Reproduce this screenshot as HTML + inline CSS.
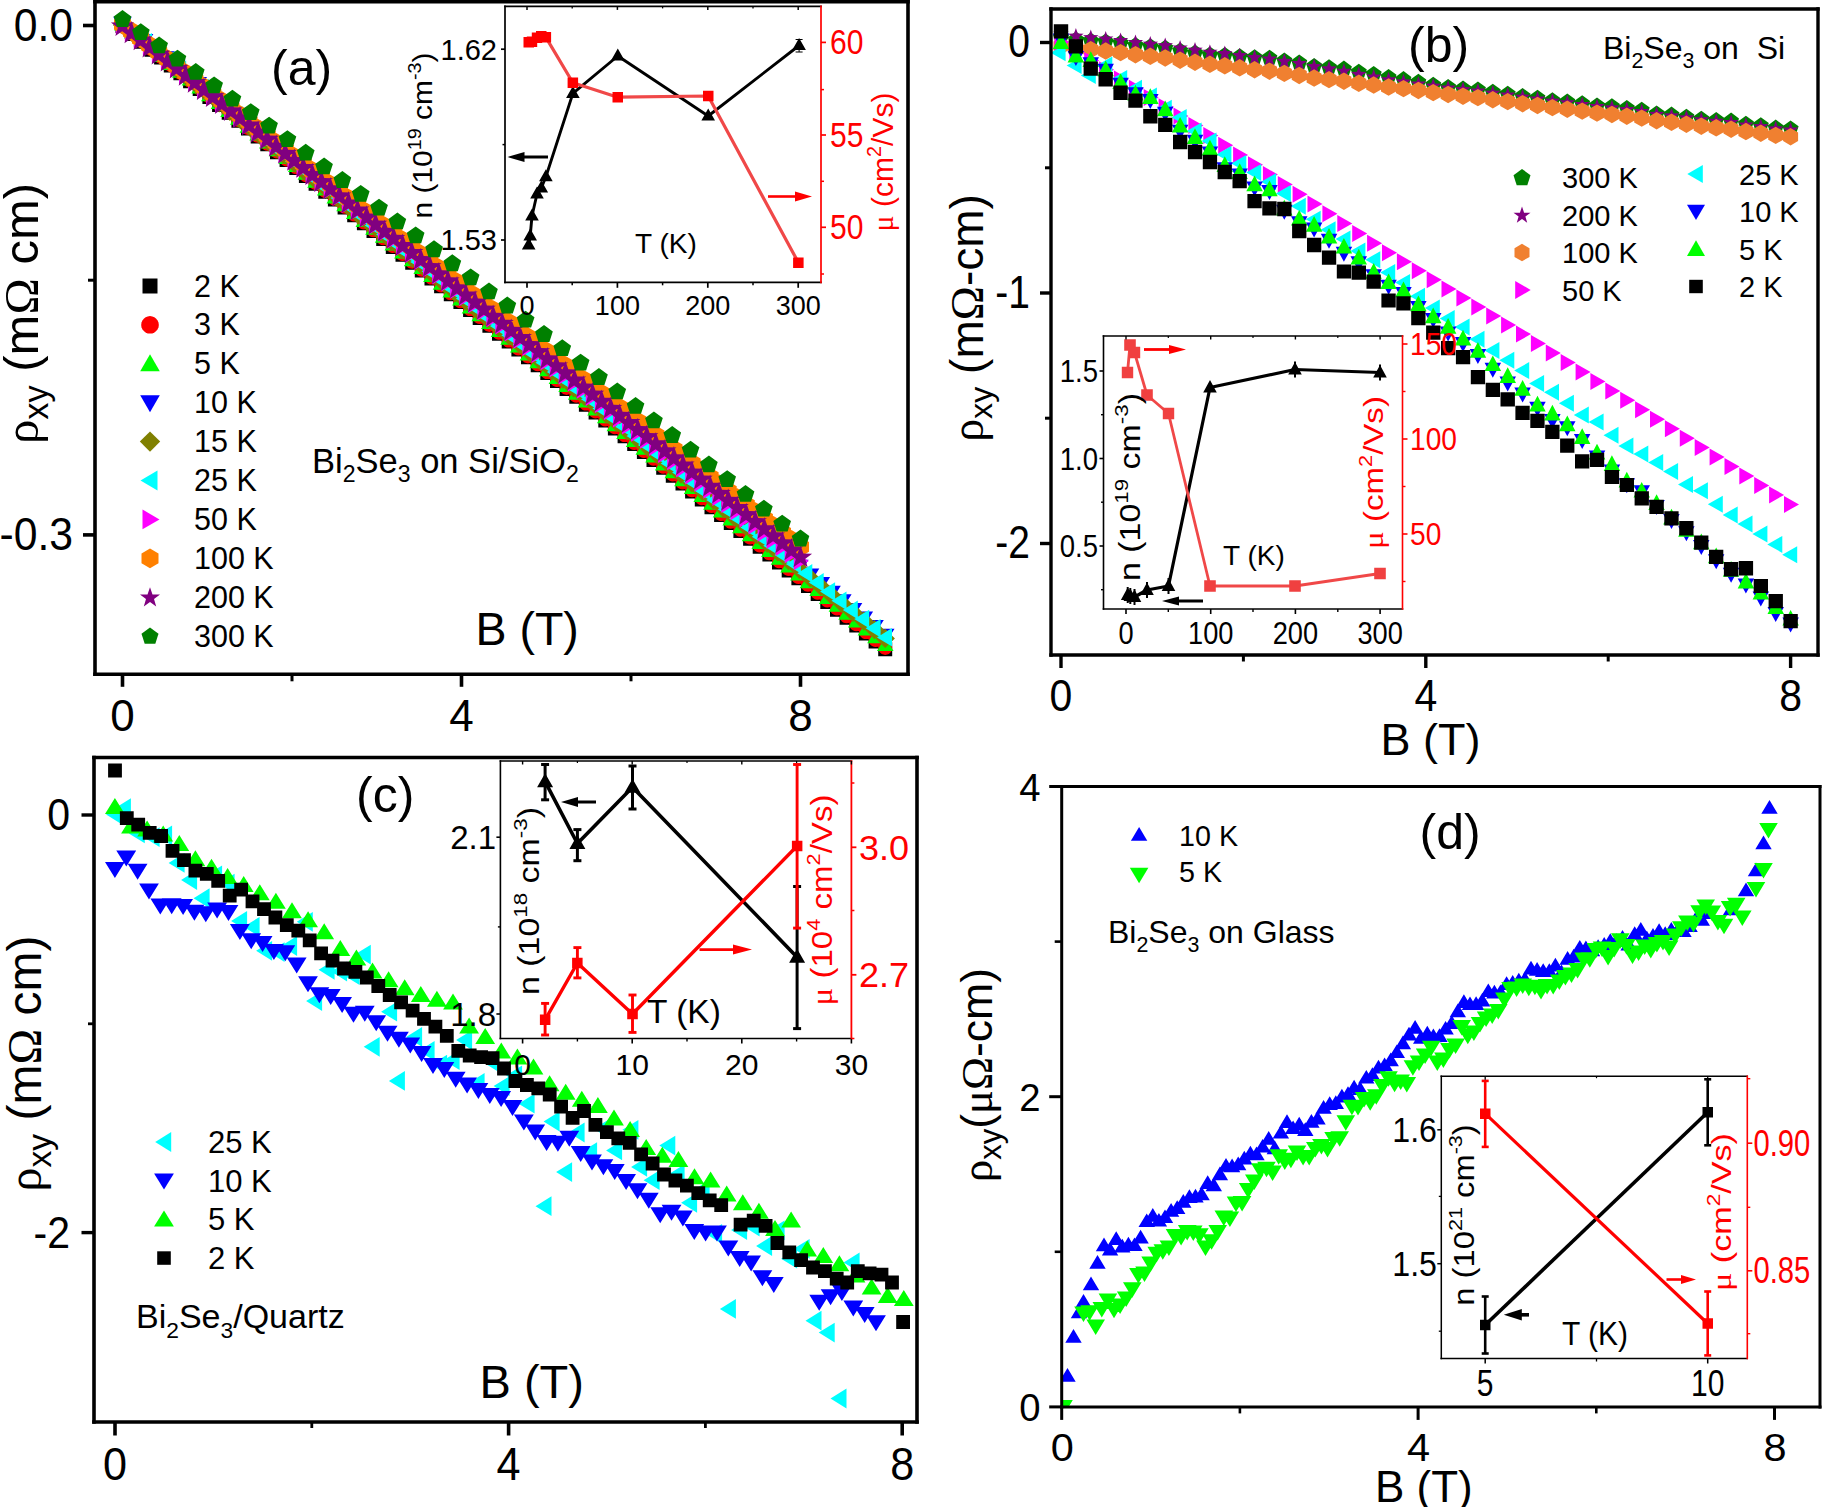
<!DOCTYPE html>
<html><head><meta charset="utf-8"><title>Hall resistivity of Bi2Se3 films</title>
<style>html,body{margin:0;padding:0;background:#fff}svg{display:block}</style></head>
<body>
<svg width="1822" height="1507" viewBox="0 0 1822 1507">
<rect width="1822" height="1507" fill="#fff"/>
<path d="M115.5,19 129.5,19 129.5,33 115.5,33ZM125.2,26.9 139.2,26.9 139.2,40.9 125.2,40.9ZM134.8,34.8 148.8,34.8 148.8,48.8 134.8,48.8ZM144.5,42.7 158.5,42.7 158.5,56.7 144.5,56.7ZM154.1,50.6 168.1,50.6 168.1,64.6 154.1,64.6ZM163.8,58.4 177.8,58.4 177.8,72.4 163.8,72.4ZM173.4,66.3 187.4,66.3 187.4,80.3 173.4,80.3ZM183.1,74.2 197.1,74.2 197.1,88.2 183.1,88.2ZM192.7,82.1 206.7,82.1 206.7,96.1 192.7,96.1ZM202.4,90 216.4,90 216.4,104 202.4,104ZM212.1,97.9 226.1,97.9 226.1,111.9 212.1,111.9ZM221.7,105.8 235.7,105.8 235.7,119.8 221.7,119.8ZM231.4,113.7 245.4,113.7 245.4,127.7 231.4,127.7ZM241,121.6 255,121.6 255,135.6 241,135.6ZM250.7,129.4 264.7,129.4 264.7,143.4 250.7,143.4ZM260.3,137.3 274.3,137.3 274.3,151.3 260.3,151.3ZM270,145.2 284,145.2 284,159.2 270,159.2ZM279.6,153.1 293.6,153.1 293.6,167.1 279.6,167.1ZM289.3,161 303.3,161 303.3,175 289.3,175ZM298.9,168.9 312.9,168.9 312.9,182.9 298.9,182.9ZM308.6,176.8 322.6,176.8 322.6,190.8 308.6,190.8ZM318.3,184.7 332.3,184.7 332.3,198.7 318.3,198.7ZM327.9,192.6 341.9,192.6 341.9,206.6 327.9,206.6ZM337.6,200.5 351.6,200.5 351.6,214.5 337.6,214.5ZM347.2,208.3 361.2,208.3 361.2,222.3 347.2,222.3ZM356.9,216.2 370.9,216.2 370.9,230.2 356.9,230.2ZM366.5,224.1 380.5,224.1 380.5,238.1 366.5,238.1ZM376.2,232 390.2,232 390.2,246 376.2,246ZM385.8,239.9 399.8,239.9 399.8,253.9 385.8,253.9ZM395.5,247.8 409.5,247.8 409.5,261.8 395.5,261.8ZM405.2,255.7 419.2,255.7 419.2,269.7 405.2,269.7ZM414.8,263.6 428.8,263.6 428.8,277.6 414.8,277.6ZM424.5,271.5 438.5,271.5 438.5,285.5 424.5,285.5ZM434.1,279.3 448.1,279.3 448.1,293.3 434.1,293.3ZM443.8,287.2 457.8,287.2 457.8,301.2 443.8,301.2ZM453.4,295.1 467.4,295.1 467.4,309.1 453.4,309.1ZM463.1,303 477.1,303 477.1,317 463.1,317ZM472.7,310.9 486.7,310.9 486.7,324.9 472.7,324.9ZM482.4,318.8 496.4,318.8 496.4,332.8 482.4,332.8ZM492,326.7 506,326.7 506,340.7 492,340.7ZM501.7,334.6 515.7,334.6 515.7,348.6 501.7,348.6ZM511.4,342.5 525.4,342.5 525.4,356.5 511.4,356.5ZM521,350.3 535,350.3 535,364.3 521,364.3ZM530.7,358.2 544.7,358.2 544.7,372.2 530.7,372.2ZM540.3,366.1 554.3,366.1 554.3,380.1 540.3,380.1ZM550,374 564,374 564,388 550,388ZM559.6,381.9 573.6,381.9 573.6,395.9 559.6,395.9ZM569.3,389.8 583.3,389.8 583.3,403.8 569.3,403.8ZM578.9,397.7 592.9,397.7 592.9,411.7 578.9,411.7ZM588.6,405.6 602.6,405.6 602.6,419.6 588.6,419.6ZM598.3,413.5 612.3,413.5 612.3,427.5 598.3,427.5ZM607.9,421.4 621.9,421.4 621.9,435.4 607.9,435.4ZM617.6,429.2 631.6,429.2 631.6,443.2 617.6,443.2ZM627.2,437.1 641.2,437.1 641.2,451.1 627.2,451.1ZM636.9,445 650.9,445 650.9,459 636.9,459ZM646.5,452.9 660.5,452.9 660.5,466.9 646.5,466.9ZM656.2,460.8 670.2,460.8 670.2,474.8 656.2,474.8ZM665.8,468.7 679.8,468.7 679.8,482.7 665.8,482.7ZM675.5,476.6 689.5,476.6 689.5,490.6 675.5,490.6ZM685.1,484.5 699.1,484.5 699.1,498.5 685.1,498.5ZM694.8,492.4 708.8,492.4 708.8,506.4 694.8,506.4ZM704.5,500.2 718.5,500.2 718.5,514.2 704.5,514.2ZM714.1,508.1 728.1,508.1 728.1,522.1 714.1,522.1ZM723.8,516 737.8,516 737.8,530 723.8,530ZM733.4,523.9 747.4,523.9 747.4,537.9 733.4,537.9ZM743.1,531.8 757.1,531.8 757.1,545.8 743.1,545.8ZM752.7,539.7 766.7,539.7 766.7,553.7 752.7,553.7ZM762.4,547.6 776.4,547.6 776.4,561.6 762.4,561.6ZM772,555.5 786,555.5 786,569.5 772,569.5ZM781.7,563.4 795.7,563.4 795.7,577.4 781.7,577.4ZM791.4,571.2 805.4,571.2 805.4,585.2 791.4,585.2ZM801,579.1 815,579.1 815,593.1 801,593.1ZM810.7,587 824.7,587 824.7,601 810.7,601ZM820.3,594.9 834.3,594.9 834.3,608.9 820.3,608.9ZM830,602.8 844,602.8 844,616.8 830,616.8ZM839.6,610.7 853.6,610.7 853.6,624.7 839.6,624.7ZM849.3,618.6 863.3,618.6 863.3,632.6 849.3,632.6ZM858.9,626.5 872.9,626.5 872.9,640.5 858.9,640.5ZM868.6,634.4 882.6,634.4 882.6,648.4 868.6,648.4ZM878.2,642.2 892.2,642.2 892.2,656.2 878.2,656.2Z" fill="#000"/>
<path d="M122.5,18.5 124.3,18.7 126,19.4 127.4,20.6 128.6,22 129.3,23.7 129.5,25.5 129.3,27.3 128.6,29 127.4,30.4 126,31.6 124.3,32.3 122.5,32.5 120.7,32.3 119,31.6 117.6,30.4 116.4,29 115.7,27.3 115.5,25.5 115.7,23.7 116.4,22 117.6,20.6 119,19.4 120.7,18.7ZM132.2,26.4 134,26.6 135.7,27.3 137.1,28.4 138.2,29.9 138.9,31.6 139.2,33.4 138.9,35.2 138.2,36.9 137.1,38.3 135.7,39.4 134,40.1 132.2,40.4 130.3,40.1 128.7,39.4 127.2,38.3 126.1,36.9 125.4,35.2 125.2,33.4 125.4,31.6 126.1,29.9 127.2,28.4 128.7,27.3 130.3,26.6ZM141.8,34.3 143.6,34.5 145.3,35.2 146.8,36.3 147.9,37.8 148.6,39.4 148.8,41.3 148.6,43.1 147.9,44.8 146.8,46.2 145.3,47.3 143.6,48 141.8,48.3 140,48 138.3,47.3 136.9,46.2 135.7,44.8 135,43.1 134.8,41.3 135,39.4 135.7,37.8 136.9,36.3 138.3,35.2 140,34.5ZM151.5,42.1 153.3,42.4 155,43.1 156.4,44.2 157.5,45.6 158.2,47.3 158.5,49.1 158.2,50.9 157.5,52.6 156.4,54.1 155,55.2 153.3,55.9 151.5,56.1 149.7,55.9 148,55.2 146.5,54.1 145.4,52.6 144.7,50.9 144.5,49.1 144.7,47.3 145.4,45.6 146.5,44.2 148,43.1 149.7,42.4ZM161.1,50 162.9,50.2 164.6,50.9 166.1,52.1 167.2,53.5 167.9,55.2 168.1,57 167.9,58.8 167.2,60.5 166.1,62 164.6,63.1 162.9,63.8 161.1,64 159.3,63.8 157.6,63.1 156.2,62 155.1,60.5 154.4,58.8 154.1,57 154.4,55.2 155.1,53.5 156.2,52.1 157.6,50.9 159.3,50.2ZM170.8,57.9 172.6,58.1 174.3,58.8 175.7,59.9 176.8,61.4 177.5,63.1 177.8,64.9 177.5,66.7 176.8,68.4 175.7,69.8 174.3,71 172.6,71.7 170.8,71.9 169,71.7 167.3,71 165.8,69.8 164.7,68.4 164,66.7 163.8,64.9 164,63.1 164.7,61.4 165.8,59.9 167.3,58.8 169,58.1ZM180.4,65.8 182.2,66 183.9,66.7 185.4,67.8 186.5,69.3 187.2,71 187.4,72.8 187.2,74.6 186.5,76.3 185.4,77.7 183.9,78.8 182.2,79.5 180.4,79.8 178.6,79.5 176.9,78.8 175.5,77.7 174.4,76.3 173.7,74.6 173.4,72.8 173.7,71 174.4,69.3 175.5,67.8 176.9,66.7 178.6,66ZM190.1,73.6 191.9,73.9 193.6,74.6 195,75.7 196.1,77.1 196.8,78.8 197.1,80.6 196.8,82.5 196.1,84.1 195,85.6 193.6,86.7 191.9,87.4 190.1,87.6 188.3,87.4 186.6,86.7 185.1,85.6 184,84.1 183.3,82.5 183.1,80.6 183.3,78.8 184,77.1 185.1,75.7 186.6,74.6 188.3,73.9ZM199.7,81.5 201.6,81.8 203.2,82.5 204.7,83.6 205.8,85 206.5,86.7 206.7,88.5 206.5,90.3 205.8,92 204.7,93.5 203.2,94.6 201.6,95.3 199.7,95.5 197.9,95.3 196.2,94.6 194.8,93.5 193.7,92 193,90.3 192.7,88.5 193,86.7 193.7,85 194.8,83.6 196.2,82.5 197.9,81.8ZM209.4,89.4 211.2,89.6 212.9,90.3 214.3,91.5 215.5,92.9 216.2,94.6 216.4,96.4 216.2,98.2 215.5,99.9 214.3,101.4 212.9,102.5 211.2,103.2 209.4,103.4 207.6,103.2 205.9,102.5 204.4,101.4 203.3,99.9 202.6,98.2 202.4,96.4 202.6,94.6 203.3,92.9 204.4,91.5 205.9,90.3 207.6,89.6ZM219.1,97.3 220.9,97.5 222.6,98.2 224,99.3 225.1,100.8 225.8,102.5 226.1,104.3 225.8,106.1 225.1,107.8 224,109.2 222.6,110.3 220.9,111 219.1,111.3 217.2,111 215.6,110.3 214.1,109.2 213,107.8 212.3,106.1 212.1,104.3 212.3,102.5 213,100.8 214.1,99.3 215.6,98.2 217.2,97.5ZM228.7,105.2 230.5,105.4 232.2,106.1 233.7,107.2 234.8,108.7 235.5,110.3 235.7,112.2 235.5,114 234.8,115.7 233.7,117.1 232.2,118.2 230.5,118.9 228.7,119.2 226.9,118.9 225.2,118.2 223.8,117.1 222.6,115.7 221.9,114 221.7,112.2 221.9,110.3 222.6,108.7 223.8,107.2 225.2,106.1 226.9,105.4ZM238.4,113 240.2,113.3 241.9,114 243.3,115.1 244.4,116.5 245.1,118.2 245.4,120 245.1,121.8 244.4,123.5 243.3,125 241.9,126.1 240.2,126.8 238.4,127 236.5,126.8 234.9,126.1 233.4,125 232.3,123.5 231.6,121.8 231.4,120 231.6,118.2 232.3,116.5 233.4,115.1 234.9,114 236.5,113.3ZM248,120.9 249.8,121.2 251.5,121.8 253,123 254.1,124.4 254.8,126.1 255,127.9 254.8,129.7 254.1,131.4 253,132.9 251.5,134 249.8,134.7 248,134.9 246.2,134.7 244.5,134 243.1,132.9 242,131.4 241.3,129.7 241,127.9 241.3,126.1 242,124.4 243.1,123 244.5,121.8 246.2,121.2ZM257.7,128.8 259.5,129 261.2,129.7 262.6,130.8 263.7,132.3 264.4,134 264.7,135.8 264.4,137.6 263.7,139.3 262.6,140.7 261.2,141.9 259.5,142.6 257.7,142.8 255.9,142.6 254.2,141.9 252.7,140.7 251.6,139.3 250.9,137.6 250.7,135.8 250.9,134 251.6,132.3 252.7,130.8 254.2,129.7 255.9,129ZM267.3,136.7 269.1,136.9 270.8,137.6 272.3,138.7 273.4,140.2 274.1,141.9 274.3,143.7 274.1,145.5 273.4,147.2 272.3,148.6 270.8,149.7 269.1,150.4 267.3,150.7 265.5,150.4 263.8,149.7 262.4,148.6 261.3,147.2 260.6,145.5 260.3,143.7 260.6,141.9 261.3,140.2 262.4,138.7 263.8,137.6 265.5,136.9ZM277,144.5 278.8,144.8 280.5,145.5 281.9,146.6 283,148 283.7,149.7 284,151.5 283.7,153.4 283,155 281.9,156.5 280.5,157.6 278.8,158.3 277,158.5 275.2,158.3 273.5,157.6 272,156.5 270.9,155 270.2,153.4 270,151.5 270.2,149.7 270.9,148 272,146.6 273.5,145.5 275.2,144.8ZM286.6,152.4 288.4,152.7 290.1,153.4 291.6,154.5 292.7,155.9 293.4,157.6 293.6,159.4 293.4,161.2 292.7,162.9 291.6,164.4 290.1,165.5 288.4,166.2 286.6,166.4 284.8,166.2 283.1,165.5 281.7,164.4 280.6,162.9 279.9,161.2 279.6,159.4 279.9,157.6 280.6,155.9 281.7,154.5 283.1,153.4 284.8,152.7ZM296.3,160.3 298.1,160.5 299.8,161.2 301.2,162.4 302.4,163.8 303.1,165.5 303.3,167.3 303.1,169.1 302.4,170.8 301.2,172.3 299.8,173.4 298.1,174.1 296.3,174.3 294.5,174.1 292.8,173.4 291.3,172.3 290.2,170.8 289.5,169.1 289.3,167.3 289.5,165.5 290.2,163.8 291.3,162.4 292.8,161.2 294.5,160.5ZM305.9,168.2 307.8,168.4 309.4,169.1 310.9,170.2 312,171.7 312.7,173.4 312.9,175.2 312.7,177 312,178.7 310.9,180.1 309.4,181.2 307.8,181.9 305.9,182.2 304.1,181.9 302.4,181.2 301,180.1 299.9,178.7 299.2,177 298.9,175.2 299.2,173.4 299.9,171.7 301,170.2 302.4,169.1 304.1,168.4ZM315.6,176.1 317.4,176.3 319.1,177 320.6,178.1 321.7,179.6 322.4,181.2 322.6,183.1 322.4,184.9 321.7,186.6 320.6,188 319.1,189.1 317.4,189.8 315.6,190.1 313.8,189.8 312.1,189.1 310.7,188 309.5,186.6 308.8,184.9 308.6,183.1 308.8,181.2 309.5,179.6 310.7,178.1 312.1,177 313.8,176.3ZM325.3,183.9 327.1,184.2 328.8,184.9 330.2,186 331.3,187.4 332,189.1 332.3,190.9 332,192.7 331.3,194.4 330.2,195.9 328.8,197 327.1,197.7 325.3,197.9 323.4,197.7 321.8,197 320.3,195.9 319.2,194.4 318.5,192.7 318.3,190.9 318.5,189.1 319.2,187.4 320.3,186 321.8,184.9 323.4,184.2ZM334.9,191.8 336.7,192.1 338.4,192.8 339.9,193.9 341,195.3 341.7,197 341.9,198.8 341.7,200.6 341,202.3 339.9,203.8 338.4,204.9 336.7,205.6 334.9,205.8 333.1,205.6 331.4,204.9 330,203.8 328.8,202.3 328.1,200.6 327.9,198.8 328.1,197 328.8,195.3 330,193.9 331.4,192.8 333.1,192.1ZM344.6,199.7 346.4,199.9 348.1,200.6 349.5,201.7 350.6,203.2 351.3,204.9 351.6,206.7 351.3,208.5 350.6,210.2 349.5,211.6 348.1,212.8 346.4,213.5 344.6,213.7 342.8,213.5 341.1,212.8 339.6,211.6 338.5,210.2 337.8,208.5 337.6,206.7 337.8,204.9 338.5,203.2 339.6,201.7 341.1,200.6 342.8,199.9ZM354.2,207.6 356,207.8 357.7,208.5 359.2,209.6 360.3,211.1 361,212.8 361.2,214.6 361,216.4 360.3,218.1 359.2,219.5 357.7,220.6 356,221.3 354.2,221.6 352.4,221.3 350.7,220.6 349.3,219.5 348.2,218.1 347.5,216.4 347.2,214.6 347.5,212.8 348.2,211.1 349.3,209.6 350.7,208.5 352.4,207.8ZM363.9,215.4 365.7,215.7 367.4,216.4 368.8,217.5 369.9,218.9 370.6,220.6 370.9,222.4 370.6,224.3 369.9,225.9 368.8,227.4 367.4,228.5 365.7,229.2 363.9,229.4 362.1,229.2 360.4,228.5 358.9,227.4 357.8,225.9 357.1,224.3 356.9,222.4 357.1,220.6 357.8,218.9 358.9,217.5 360.4,216.4 362.1,215.7ZM373.5,223.3 375.3,223.6 377,224.3 378.5,225.4 379.6,226.8 380.3,228.5 380.5,230.3 380.3,232.1 379.6,233.8 378.5,235.3 377,236.4 375.3,237.1 373.5,237.3 371.7,237.1 370,236.4 368.6,235.3 367.5,233.8 366.8,232.1 366.5,230.3 366.8,228.5 367.5,226.8 368.6,225.4 370,224.3 371.7,223.6ZM383.2,231.2 385,231.4 386.7,232.1 388.1,233.3 389.2,234.7 389.9,236.4 390.2,238.2 389.9,240 389.2,241.7 388.1,243.2 386.7,244.3 385,245 383.2,245.2 381.4,245 379.7,244.3 378.2,243.2 377.1,241.7 376.4,240 376.2,238.2 376.4,236.4 377.1,234.7 378.2,233.3 379.7,232.1 381.4,231.4ZM392.8,239.1 394.7,239.3 396.3,240 397.8,241.1 398.9,242.6 399.6,244.3 399.8,246.1 399.6,247.9 398.9,249.6 397.8,251 396.3,252.1 394.7,252.8 392.8,253.1 391,252.8 389.3,252.1 387.9,251 386.8,249.6 386.1,247.9 385.8,246.1 386.1,244.3 386.8,242.6 387.9,241.1 389.3,240 391,239.3ZM402.5,247 404.3,247.2 406,247.9 407.4,249 408.6,250.5 409.3,252.1 409.5,254 409.3,255.8 408.6,257.5 407.4,258.9 406,260 404.3,260.7 402.5,261 400.7,260.7 399,260 397.5,258.9 396.4,257.5 395.7,255.8 395.5,254 395.7,252.1 396.4,250.5 397.5,249 399,247.9 400.7,247.2ZM412.2,254.8 414,255.1 415.7,255.8 417.1,256.9 418.2,258.3 418.9,260 419.2,261.8 418.9,263.6 418.2,265.3 417.1,266.8 415.7,267.9 414,268.6 412.2,268.8 410.3,268.6 408.7,267.9 407.2,266.8 406.1,265.3 405.4,263.6 405.2,261.8 405.4,260 406.1,258.3 407.2,256.9 408.7,255.8 410.3,255.1ZM421.8,262.7 423.6,263 425.3,263.7 426.8,264.8 427.9,266.2 428.6,267.9 428.8,269.7 428.6,271.5 427.9,273.2 426.8,274.7 425.3,275.8 423.6,276.5 421.8,276.7 420,276.5 418.3,275.8 416.9,274.7 415.7,273.2 415,271.5 414.8,269.7 415,267.9 415.7,266.2 416.9,264.8 418.3,263.7 420,263ZM431.5,270.6 433.3,270.8 435,271.5 436.4,272.6 437.5,274.1 438.2,275.8 438.5,277.6 438.2,279.4 437.5,281.1 436.4,282.5 435,283.7 433.3,284.4 431.5,284.6 429.7,284.4 428,283.7 426.5,282.5 425.4,281.1 424.7,279.4 424.5,277.6 424.7,275.8 425.4,274.1 426.5,272.6 428,271.5 429.7,270.8ZM441.1,278.5 442.9,278.7 444.6,279.4 446.1,280.5 447.2,282 447.9,283.7 448.1,285.5 447.9,287.3 447.2,289 446.1,290.4 444.6,291.5 442.9,292.2 441.1,292.5 439.3,292.2 437.6,291.5 436.2,290.4 435.1,289 434.4,287.3 434.1,285.5 434.4,283.7 435.1,282 436.2,280.5 437.6,279.4 439.3,278.7ZM450.8,286.3 452.6,286.6 454.3,287.3 455.7,288.4 456.8,289.8 457.5,291.5 457.8,293.3 457.5,295.2 456.8,296.8 455.7,298.3 454.3,299.4 452.6,300.1 450.8,300.3 449,300.1 447.3,299.4 445.8,298.3 444.7,296.8 444,295.2 443.8,293.3 444,291.5 444.7,289.8 445.8,288.4 447.3,287.3 449,286.6ZM460.4,294.2 462.2,294.5 463.9,295.2 465.4,296.3 466.5,297.7 467.2,299.4 467.4,301.2 467.2,303 466.5,304.7 465.4,306.2 463.9,307.3 462.2,308 460.4,308.2 458.6,308 456.9,307.3 455.5,306.2 454.4,304.7 453.7,303 453.4,301.2 453.7,299.4 454.4,297.7 455.5,296.3 456.9,295.2 458.6,294.5ZM470.1,302.1 471.9,302.3 473.6,303 475,304.2 476.1,305.6 476.8,307.3 477.1,309.1 476.8,310.9 476.1,312.6 475,314.1 473.6,315.2 471.9,315.9 470.1,316.1 468.3,315.9 466.6,315.2 465.1,314.1 464,312.6 463.3,310.9 463.1,309.1 463.3,307.3 464,305.6 465.1,304.2 466.6,303 468.3,302.3ZM479.7,310 481.5,310.2 483.2,310.9 484.7,312 485.8,313.5 486.5,315.2 486.7,317 486.5,318.8 485.8,320.5 484.7,321.9 483.2,323 481.5,323.7 479.7,324 477.9,323.7 476.2,323 474.8,321.9 473.7,320.5 473,318.8 472.7,317 473,315.2 473.7,313.5 474.8,312 476.2,310.9 477.9,310.2ZM489.4,317.9 491.2,318.1 492.9,318.8 494.3,319.9 495.5,321.4 496.2,323 496.4,324.9 496.2,326.7 495.5,328.4 494.3,329.8 492.9,330.9 491.2,331.6 489.4,331.9 487.6,331.6 485.9,330.9 484.4,329.8 483.3,328.4 482.6,326.7 482.4,324.9 482.6,323 483.3,321.4 484.4,319.9 485.9,318.8 487.6,318.1ZM499,325.7 500.9,326 502.5,326.7 504,327.8 505.1,329.2 505.8,330.9 506,332.7 505.8,334.5 505.1,336.2 504,337.7 502.5,338.8 500.9,339.5 499,339.7 497.2,339.5 495.5,338.8 494.1,337.7 493,336.2 492.3,334.5 492,332.7 492.3,330.9 493,329.2 494.1,327.8 495.5,326.7 497.2,326ZM508.7,333.6 510.5,333.9 512.2,334.6 513.7,335.7 514.8,337.1 515.5,338.8 515.7,340.6 515.5,342.4 514.8,344.1 513.7,345.6 512.2,346.7 510.5,347.4 508.7,347.6 506.9,347.4 505.2,346.7 503.8,345.6 502.6,344.1 501.9,342.4 501.7,340.6 501.9,338.8 502.6,337.1 503.8,335.7 505.2,334.6 506.9,333.9ZM518.4,341.5 520.2,341.7 521.9,342.4 523.3,343.5 524.4,345 525.1,346.7 525.4,348.5 525.1,350.3 524.4,352 523.3,353.4 521.9,354.6 520.2,355.3 518.4,355.5 516.5,355.3 514.9,354.6 513.4,353.4 512.3,352 511.6,350.3 511.4,348.5 511.6,346.7 512.3,345 513.4,343.5 514.9,342.4 516.5,341.7ZM528,349.4 529.8,349.6 531.5,350.3 533,351.4 534.1,352.9 534.8,354.6 535,356.4 534.8,358.2 534.1,359.9 533,361.3 531.5,362.4 529.8,363.1 528,363.4 526.2,363.1 524.5,362.4 523.1,361.3 522,359.9 521.3,358.2 521,356.4 521.3,354.6 522,352.9 523.1,351.4 524.5,350.3 526.2,349.6ZM537.7,357.2 539.5,357.5 541.2,358.2 542.6,359.3 543.7,360.7 544.4,362.4 544.7,364.2 544.4,366.1 543.7,367.7 542.6,369.2 541.2,370.3 539.5,371 537.7,371.2 535.9,371 534.2,370.3 532.7,369.2 531.6,367.7 530.9,366.1 530.7,364.2 530.9,362.4 531.6,360.7 532.7,359.3 534.2,358.2 535.9,357.5ZM547.3,365.1 549.1,365.4 550.8,366.1 552.3,367.2 553.4,368.6 554.1,370.3 554.3,372.1 554.1,373.9 553.4,375.6 552.3,377.1 550.8,378.2 549.1,378.9 547.3,379.1 545.5,378.9 543.8,378.2 542.4,377.1 541.3,375.6 540.6,373.9 540.3,372.1 540.6,370.3 541.3,368.6 542.4,367.2 543.8,366.1 545.5,365.4ZM557,373 558.8,373.2 560.5,373.9 561.9,375.1 563,376.5 563.7,378.2 564,380 563.7,381.8 563,383.5 561.9,385 560.5,386.1 558.8,386.8 557,387 555.2,386.8 553.5,386.1 552,385 550.9,383.5 550.2,381.8 550,380 550.2,378.2 550.9,376.5 552,375.1 553.5,373.9 555.2,373.2ZM566.6,380.9 568.4,381.1 570.1,381.8 571.6,382.9 572.7,384.4 573.4,386.1 573.6,387.9 573.4,389.7 572.7,391.4 571.6,392.8 570.1,393.9 568.4,394.6 566.6,394.9 564.8,394.6 563.1,393.9 561.7,392.8 560.6,391.4 559.9,389.7 559.6,387.9 559.9,386.1 560.6,384.4 561.7,382.9 563.1,381.8 564.8,381.1ZM576.3,388.8 578.1,389 579.8,389.7 581.2,390.8 582.4,392.3 583,393.9 583.3,395.8 583,397.6 582.4,399.3 581.2,400.7 579.8,401.8 578.1,402.5 576.3,402.8 574.5,402.5 572.8,401.8 571.3,400.7 570.2,399.3 569.5,397.6 569.3,395.8 569.5,393.9 570.2,392.3 571.3,390.8 572.8,389.7 574.5,389ZM585.9,396.6 587.8,396.9 589.4,397.6 590.9,398.7 592,400.1 592.7,401.8 592.9,403.6 592.7,405.4 592,407.1 590.9,408.6 589.4,409.7 587.8,410.4 585.9,410.6 584.1,410.4 582.4,409.7 581,408.6 579.9,407.1 579.2,405.4 578.9,403.6 579.2,401.8 579.9,400.1 581,398.7 582.4,397.6 584.1,396.9ZM595.6,404.5 597.4,404.8 599.1,405.5 600.5,406.6 601.7,408 602.4,409.7 602.6,411.5 602.4,413.3 601.7,415 600.5,416.5 599.1,417.6 597.4,418.3 595.6,418.5 593.8,418.3 592.1,417.6 590.6,416.5 589.5,415 588.8,413.3 588.6,411.5 588.8,409.7 589.5,408 590.6,406.6 592.1,405.5 593.8,404.8ZM605.3,412.4 607.1,412.6 608.8,413.3 610.2,414.4 611.3,415.9 612,417.6 612.3,419.4 612,421.2 611.3,422.9 610.2,424.3 608.8,425.5 607.1,426.2 605.3,426.4 603.4,426.2 601.8,425.5 600.3,424.3 599.2,422.9 598.5,421.2 598.3,419.4 598.5,417.6 599.2,415.9 600.3,414.4 601.8,413.3 603.4,412.6ZM614.9,420.3 616.7,420.5 618.4,421.2 619.9,422.3 621,423.8 621.7,425.5 621.9,427.3 621.7,429.1 621,430.8 619.9,432.2 618.4,433.3 616.7,434 614.9,434.3 613.1,434 611.4,433.3 610,432.2 608.8,430.8 608.1,429.1 607.9,427.3 608.1,425.5 608.8,423.8 610,422.3 611.4,421.2 613.1,420.5ZM624.6,428.1 626.4,428.4 628.1,429.1 629.5,430.2 630.6,431.6 631.3,433.3 631.6,435.1 631.3,437 630.6,438.6 629.5,440.1 628.1,441.2 626.4,441.9 624.6,442.1 622.8,441.9 621.1,441.2 619.6,440.1 618.5,438.6 617.8,437 617.6,435.1 617.8,433.3 618.5,431.6 619.6,430.2 621.1,429.1 622.8,428.4ZM634.2,436 636,436.3 637.7,437 639.2,438.1 640.3,439.5 641,441.2 641.2,443 641,444.8 640.3,446.5 639.2,448 637.7,449.1 636,449.8 634.2,450 632.4,449.8 630.7,449.1 629.3,448 628.2,446.5 627.5,444.8 627.2,443 627.5,441.2 628.2,439.5 629.3,438.1 630.7,437 632.4,436.3ZM643.9,443.9 645.7,444.1 647.4,444.8 648.8,446 649.9,447.4 650.6,449.1 650.9,450.9 650.6,452.7 649.9,454.4 648.8,455.9 647.4,457 645.7,457.7 643.9,457.9 642.1,457.7 640.4,457 638.9,455.9 637.8,454.4 637.1,452.7 636.9,450.9 637.1,449.1 637.8,447.4 638.9,446 640.4,444.8 642.1,444.1ZM653.5,451.8 655.3,452 657,452.7 658.5,453.8 659.6,455.3 660.3,457 660.5,458.8 660.3,460.6 659.6,462.3 658.5,463.7 657,464.8 655.3,465.5 653.5,465.8 651.7,465.5 650,464.8 648.6,463.7 647.5,462.3 646.8,460.6 646.5,458.8 646.8,457 647.5,455.3 648.6,453.8 650,452.7 651.7,452ZM663.2,459.7 665,459.9 666.7,460.6 668.1,461.7 669.2,463.2 669.9,464.8 670.2,466.7 669.9,468.5 669.2,470.2 668.1,471.6 666.7,472.7 665,473.4 663.2,473.7 661.4,473.4 659.7,472.7 658.2,471.6 657.1,470.2 656.4,468.5 656.2,466.7 656.4,464.8 657.1,463.2 658.2,461.7 659.7,460.6 661.4,459.9ZM672.8,467.5 674.7,467.8 676.3,468.5 677.8,469.6 678.9,471 679.6,472.7 679.8,474.5 679.6,476.3 678.9,478 677.8,479.5 676.3,480.6 674.7,481.3 672.8,481.5 671,481.3 669.3,480.6 667.9,479.5 666.8,478 666.1,476.3 665.8,474.5 666.1,472.7 666.8,471 667.9,469.6 669.3,468.5 671,467.8ZM682.5,475.4 684.3,475.7 686,476.4 687.4,477.5 688.6,478.9 689.3,480.6 689.5,482.4 689.3,484.2 688.6,485.9 687.4,487.4 686,488.5 684.3,489.2 682.5,489.4 680.7,489.2 679,488.5 677.5,487.4 676.4,485.9 675.7,484.2 675.5,482.4 675.7,480.6 676.4,478.9 677.5,477.5 679,476.4 680.7,475.7ZM692.1,483.3 694,483.5 695.6,484.2 697.1,485.3 698.2,486.8 698.9,488.5 699.1,490.3 698.9,492.1 698.2,493.8 697.1,495.2 695.6,496.4 694,497.1 692.1,497.3 690.3,497.1 688.6,496.4 687.2,495.2 686.1,493.8 685.4,492.1 685.1,490.3 685.4,488.5 686.1,486.8 687.2,485.3 688.6,484.2 690.3,483.5ZM701.8,491.2 703.6,491.4 705.3,492.1 706.8,493.2 707.9,494.7 708.6,496.4 708.8,498.2 708.6,500 707.9,501.7 706.8,503.1 705.3,504.2 703.6,504.9 701.8,505.2 700,504.9 698.3,504.2 696.9,503.1 695.7,501.7 695,500 694.8,498.2 695,496.4 695.7,494.7 696.9,493.2 698.3,492.1 700,491.4ZM711.5,499 713.3,499.3 715,500 716.4,501.1 717.5,502.5 718.2,504.2 718.5,506 718.2,507.9 717.5,509.5 716.4,511 715,512.1 713.3,512.8 711.5,513 709.6,512.8 708,512.1 706.5,511 705.4,509.5 704.7,507.9 704.5,506 704.7,504.2 705.4,502.5 706.5,501.1 708,500 709.6,499.3ZM721.1,506.9 722.9,507.2 724.6,507.9 726.1,509 727.2,510.4 727.9,512.1 728.1,513.9 727.9,515.7 727.2,517.4 726.1,518.9 724.6,520 722.9,520.7 721.1,520.9 719.3,520.7 717.6,520 716.2,518.9 715.1,517.4 714.4,515.7 714.1,513.9 714.4,512.1 715.1,510.4 716.2,509 717.6,507.9 719.3,507.2ZM730.8,514.8 732.6,515 734.3,515.7 735.7,516.9 736.8,518.3 737.5,520 737.8,521.8 737.5,523.6 736.8,525.3 735.7,526.8 734.3,527.9 732.6,528.6 730.8,528.8 729,528.6 727.3,527.9 725.8,526.8 724.7,525.3 724,523.6 723.8,521.8 724,520 724.7,518.3 725.8,516.9 727.3,515.7 729,515ZM740.4,522.7 742.2,522.9 743.9,523.6 745.4,524.7 746.5,526.2 747.2,527.9 747.4,529.7 747.2,531.5 746.5,533.2 745.4,534.6 743.9,535.7 742.2,536.4 740.4,536.7 738.6,536.4 736.9,535.7 735.5,534.6 734.4,533.2 733.7,531.5 733.4,529.7 733.7,527.9 734.4,526.2 735.5,524.7 736.9,523.6 738.6,522.9ZM750.1,530.6 751.9,530.8 753.6,531.5 755,532.6 756.1,534.1 756.8,535.7 757.1,537.6 756.8,539.4 756.1,541.1 755,542.5 753.6,543.6 751.9,544.3 750.1,544.6 748.3,544.3 746.6,543.6 745.1,542.5 744,541.1 743.3,539.4 743.1,537.6 743.3,535.7 744,534.1 745.1,532.6 746.6,531.5 748.3,530.8ZM759.7,538.4 761.5,538.7 763.2,539.4 764.7,540.5 765.8,541.9 766.5,543.6 766.7,545.4 766.5,547.2 765.8,548.9 764.7,550.4 763.2,551.5 761.5,552.2 759.7,552.4 757.9,552.2 756.2,551.5 754.8,550.4 753.7,548.9 753,547.2 752.7,545.4 753,543.6 753.7,541.9 754.8,540.5 756.2,539.4 757.9,538.7ZM769.4,546.3 771.2,546.6 772.9,547.3 774.3,548.4 775.5,549.8 776.2,551.5 776.4,553.3 776.2,555.1 775.5,556.8 774.3,558.3 772.9,559.4 771.2,560.1 769.4,560.3 767.6,560.1 765.9,559.4 764.4,558.3 763.3,556.8 762.6,555.1 762.4,553.3 762.6,551.5 763.3,549.8 764.4,548.4 765.9,547.3 767.6,546.6ZM779,554.2 780.9,554.4 782.5,555.1 784,556.2 785.1,557.7 785.8,559.4 786,561.2 785.8,563 785.1,564.7 784,566.1 782.5,567.3 780.9,568 779,568.2 777.2,568 775.5,567.3 774.1,566.1 773,564.7 772.3,563 772,561.2 772.3,559.4 773,557.7 774.1,556.2 775.5,555.1 777.2,554.4ZM788.7,562.1 790.5,562.3 792.2,563 793.6,564.1 794.8,565.6 795.5,567.3 795.7,569.1 795.5,570.9 794.8,572.6 793.6,574 792.2,575.1 790.5,575.8 788.7,576.1 786.9,575.8 785.2,575.1 783.7,574 782.6,572.6 781.9,570.9 781.7,569.1 781.9,567.3 782.6,565.6 783.7,564.1 785.2,563 786.9,562.3ZM798.4,569.9 800.2,570.2 801.9,570.9 803.3,572 804.4,573.4 805.1,575.1 805.4,576.9 805.1,578.8 804.4,580.4 803.3,581.9 801.9,583 800.2,583.7 798.4,583.9 796.5,583.7 794.9,583 793.4,581.9 792.3,580.4 791.6,578.8 791.4,576.9 791.6,575.1 792.3,573.4 793.4,572 794.9,570.9 796.5,570.2ZM808,577.8 809.8,578.1 811.5,578.8 813,579.9 814.1,581.3 814.8,583 815,584.8 814.8,586.6 814.1,588.3 813,589.8 811.5,590.9 809.8,591.6 808,591.8 806.2,591.6 804.5,590.9 803.1,589.8 801.9,588.3 801.2,586.6 801,584.8 801.2,583 801.9,581.3 803.1,579.9 804.5,578.8 806.2,578.1ZM817.7,585.7 819.5,585.9 821.2,586.6 822.6,587.8 823.7,589.2 824.4,590.9 824.7,592.7 824.4,594.5 823.7,596.2 822.6,597.7 821.2,598.8 819.5,599.5 817.7,599.7 815.9,599.5 814.2,598.8 812.7,597.7 811.6,596.2 810.9,594.5 810.7,592.7 810.9,590.9 811.6,589.2 812.7,587.8 814.2,586.6 815.9,585.9ZM827.3,593.6 829.1,593.8 830.8,594.5 832.3,595.6 833.4,597.1 834.1,598.8 834.3,600.6 834.1,602.4 833.4,604.1 832.3,605.5 830.8,606.6 829.1,607.3 827.3,607.6 825.5,607.3 823.8,606.6 822.4,605.5 821.3,604.1 820.6,602.4 820.3,600.6 820.6,598.8 821.3,597.1 822.4,595.6 823.8,594.5 825.5,593.8ZM837,601.5 838.8,601.7 840.5,602.4 841.9,603.5 843,605 843.7,606.6 844,608.5 843.7,610.3 843,612 841.9,613.4 840.5,614.5 838.8,615.2 837,615.5 835.2,615.2 833.5,614.5 832,613.4 830.9,612 830.2,610.3 830,608.5 830.2,606.6 830.9,605 832,603.5 833.5,602.4 835.2,601.7ZM846.6,609.3 848.4,609.6 850.1,610.3 851.6,611.4 852.7,612.8 853.4,614.5 853.6,616.3 853.4,618.2 852.7,619.8 851.6,621.3 850.1,622.4 848.4,623.1 846.6,623.3 844.8,623.1 843.1,622.4 841.7,621.3 840.6,619.8 839.9,618.2 839.6,616.3 839.9,614.5 840.6,612.8 841.7,611.4 843.1,610.3 844.8,609.6ZM856.3,617.2 858.1,617.5 859.8,618.2 861.2,619.3 862.3,620.7 863,622.4 863.3,624.2 863,626 862.3,627.7 861.2,629.2 859.8,630.3 858.1,631 856.3,631.2 854.5,631 852.8,630.3 851.3,629.2 850.2,627.7 849.5,626 849.3,624.2 849.5,622.4 850.2,620.7 851.3,619.3 852.8,618.2 854.5,617.5ZM865.9,625.1 867.8,625.3 869.4,626 870.9,627.1 872,628.6 872.7,630.3 872.9,632.1 872.7,633.9 872,635.6 870.9,637 869.4,638.2 867.8,638.9 865.9,639.1 864.1,638.9 862.4,638.2 861,637 859.9,635.6 859.2,633.9 858.9,632.1 859.2,630.3 859.9,628.6 861,627.1 862.4,626 864.1,625.3ZM875.6,633 877.4,633.2 879.1,633.9 880.5,635 881.7,636.5 882.4,638.2 882.6,640 882.4,641.8 881.7,643.5 880.5,644.9 879.1,646 877.4,646.7 875.6,647 873.8,646.7 872.1,646 870.6,644.9 869.5,643.5 868.8,641.8 868.6,640 868.8,638.2 869.5,636.5 870.6,635 872.1,633.9 873.8,633.2ZM885.2,640.9 887.1,641.1 888.8,641.8 890.2,642.9 891.3,644.4 892,646 892.2,647.9 892,649.7 891.3,651.4 890.2,652.8 888.8,653.9 887.1,654.6 885.2,654.9 883.4,654.6 881.8,653.9 880.3,652.8 879.2,651.4 878.5,649.7 878.2,647.9 878.5,646 879.2,644.4 880.3,642.9 881.8,641.8 883.4,641.1Z" fill="#ff0000"/>
<path d="M122.5,17.1 130.9,30.6 114.1,30.6ZM132.2,24.9 140.5,38.4 123.8,38.4ZM141.8,32.8 150.2,46.3 133.4,46.3ZM151.5,40.6 159.8,54.1 143.1,54.1ZM161.1,48.5 169.5,62 152.8,62ZM170.8,56.4 179.1,69.9 162.4,69.9ZM180.4,64.2 188.8,77.7 172.1,77.7ZM190.1,72.1 198.5,85.6 181.7,85.6ZM199.7,79.9 208.1,93.4 191.4,93.4ZM209.4,87.8 217.8,101.3 201,101.3ZM219.1,95.6 227.4,109.1 210.7,109.1ZM228.7,103.5 237.1,117 220.3,117ZM238.4,111.3 246.7,124.8 230,124.8ZM248,119.2 256.4,132.7 239.6,132.7ZM257.7,127 266,140.5 249.3,140.5ZM267.3,134.9 275.7,148.4 259,148.4ZM277,142.8 285.4,156.3 268.6,156.3ZM286.6,150.6 295,164.1 278.3,164.1ZM296.3,158.5 304.7,172 287.9,172ZM305.9,166.3 314.3,179.8 297.6,179.8ZM315.6,174.2 324,187.7 307.2,187.7ZM325.3,182 333.6,195.5 316.9,195.5ZM334.9,189.9 343.3,203.4 326.5,203.4ZM344.6,197.7 352.9,211.2 336.2,211.2ZM354.2,205.6 362.6,219.1 345.9,219.1ZM363.9,213.5 372.2,227 355.5,227ZM373.5,221.3 381.9,234.8 365.2,234.8ZM383.2,229.2 391.6,242.7 374.8,242.7ZM392.8,237 401.2,250.5 384.5,250.5ZM402.5,244.9 410.9,258.4 394.1,258.4ZM412.2,252.7 420.5,266.2 403.8,266.2ZM421.8,260.6 430.2,274.1 413.4,274.1ZM431.5,268.4 439.8,281.9 423.1,281.9ZM441.1,276.3 449.5,289.8 432.7,289.8ZM450.8,284.1 459.1,297.6 442.4,297.6ZM460.4,292 468.8,305.5 452.1,305.5ZM470.1,299.9 478.5,313.4 461.7,313.4ZM479.7,307.7 488.1,321.2 471.4,321.2ZM489.4,315.6 497.8,329.1 481,329.1ZM499,323.4 507.4,336.9 490.7,336.9ZM508.7,331.3 517.1,344.8 500.3,344.8ZM518.4,339.1 526.7,352.6 510,352.6ZM528,347 536.4,360.5 519.6,360.5ZM537.7,354.8 546,368.3 529.3,368.3ZM547.3,362.7 555.7,376.2 539,376.2ZM557,370.6 565.3,384.1 548.6,384.1ZM566.6,378.4 575,391.9 558.3,391.9ZM576.3,386.3 584.7,399.8 567.9,399.8ZM585.9,394.1 594.3,407.6 577.6,407.6ZM595.6,402 604,415.5 587.2,415.5ZM605.3,409.8 613.6,423.3 596.9,423.3ZM614.9,417.7 623.3,431.2 606.5,431.2ZM624.6,425.5 632.9,439 616.2,439ZM634.2,433.4 642.6,446.9 625.8,446.9ZM643.9,441.2 652.2,454.7 635.5,454.7ZM653.5,449.1 661.9,462.6 645.2,462.6ZM663.2,457 671.6,470.5 654.8,470.5ZM672.8,464.8 681.2,478.3 664.5,478.3ZM682.5,472.7 690.9,486.2 674.1,486.2ZM692.1,480.5 700.5,494 683.8,494ZM701.8,488.4 710.2,501.9 693.4,501.9ZM711.5,496.2 719.8,509.7 703.1,509.7ZM721.1,504.1 729.5,517.6 712.7,517.6ZM730.8,511.9 739.1,525.4 722.4,525.4ZM740.4,519.8 748.8,533.3 732.1,533.3ZM750.1,527.7 758.4,541.2 741.7,541.2ZM759.7,535.5 768.1,549 751.4,549ZM769.4,543.4 777.8,556.9 761,556.9ZM779,551.2 787.4,564.7 770.7,564.7ZM788.7,559.1 797.1,572.6 780.3,572.6ZM798.4,566.9 806.7,580.4 790,580.4ZM808,574.8 816.4,588.3 799.6,588.3ZM817.7,582.6 826,596.1 809.3,596.1ZM827.3,590.5 835.7,604 818.9,604ZM837,598.3 845.3,611.8 828.6,611.8ZM846.6,606.2 855,619.7 838.3,619.7ZM856.3,614.1 864.7,627.6 847.9,627.6ZM865.9,621.9 874.3,635.4 857.6,635.4ZM875.6,629.8 884,643.3 867.2,643.3ZM885.2,637.6 893.6,651.1 876.9,651.1Z" fill="#00ff00"/>
<path d="M122.5,31.8 131.8,16.8 113.2,16.8ZM133.2,40.4 142.5,25.4 123.9,25.4ZM144,49 153.3,34 134.7,34ZM154.7,57.6 164,42.6 145.4,42.6ZM165.5,66.2 174.8,51.2 156.2,51.2ZM176.2,74.8 185.5,59.8 166.9,59.8ZM187,83.5 196.3,68.5 177.7,68.5ZM197.7,92.1 207,77.1 188.4,77.1ZM208.4,100.7 217.7,85.7 199.1,85.7ZM219.2,109.3 228.5,94.3 209.9,94.3ZM229.9,117.9 239.2,102.9 220.6,102.9ZM240.7,126.6 250,111.6 231.4,111.6ZM251.4,135.2 260.7,120.2 242.1,120.2ZM262.2,143.8 271.5,128.8 252.9,128.8ZM272.9,152.4 282.2,137.4 263.6,137.4ZM283.6,161 292.9,146 274.3,146ZM294.4,169.7 303.7,154.7 285.1,154.7ZM305.1,178.3 314.4,163.3 295.8,163.3ZM315.9,186.9 325.2,171.9 306.6,171.9ZM326.6,195.5 335.9,180.5 317.3,180.5ZM337.4,204.1 346.7,189.1 328.1,189.1ZM348.1,212.8 357.4,197.8 338.8,197.8ZM358.8,221.4 368.1,206.4 349.5,206.4ZM369.6,230 378.9,215 360.3,215ZM380.3,238.6 389.6,223.6 371,223.6ZM391.1,247.2 400.4,232.2 381.8,232.2ZM401.8,255.9 411.1,240.9 392.5,240.9ZM412.6,264.5 421.9,249.5 403.3,249.5ZM423.3,273.1 432.6,258.1 414,258.1ZM434,281.7 443.3,266.7 424.7,266.7ZM444.8,290.3 454.1,275.3 435.5,275.3ZM455.5,299 464.8,284 446.2,284ZM466.3,307.6 475.6,292.6 457,292.6ZM477,316.2 486.3,301.2 467.7,301.2ZM487.8,324.8 497.1,309.8 478.5,309.8ZM498.5,333.4 507.8,318.4 489.2,318.4ZM509.2,342.1 518.5,327.1 499.9,327.1ZM520,350.7 529.3,335.7 510.7,335.7ZM530.7,359.3 540,344.3 521.4,344.3ZM541.5,367.9 550.8,352.9 532.2,352.9ZM552.2,376.5 561.5,361.5 542.9,361.5ZM563,385.2 572.3,370.2 553.7,370.2ZM573.7,393.8 583,378.8 564.4,378.8ZM584.4,402.4 593.7,387.4 575.1,387.4ZM595.2,411 604.5,396 585.9,396ZM605.9,419.6 615.2,404.6 596.6,404.6ZM616.7,428.3 626,413.3 607.4,413.3ZM627.4,436.9 636.7,421.9 618.1,421.9ZM638.2,445.5 647.5,430.5 628.9,430.5ZM648.9,454.1 658.2,439.1 639.6,439.1ZM659.6,462.7 668.9,447.7 650.3,447.7ZM670.4,471.4 679.7,456.4 661.1,456.4ZM681.1,480 690.4,465 671.8,465ZM691.9,488.6 701.2,473.6 682.6,473.6ZM702.6,497.2 711.9,482.2 693.3,482.2ZM713.4,505.8 722.7,490.8 704.1,490.8ZM724.1,514.5 733.4,499.5 714.8,499.5ZM734.8,523.1 744.1,508.1 725.5,508.1ZM745.6,531.7 754.9,516.7 736.3,516.7ZM756.3,540.3 765.6,525.3 747,525.3ZM767.1,548.9 776.4,533.9 757.8,533.9ZM777.8,557.6 787.1,542.6 768.5,542.6ZM788.6,566.2 797.9,551.2 779.3,551.2ZM799.3,574.8 808.6,559.8 790,559.8ZM810,583.4 819.3,568.4 800.7,568.4ZM820.8,592 830.1,577 811.5,577ZM831.5,600.7 840.8,585.7 822.2,585.7ZM842.3,609.3 851.6,594.3 833,594.3ZM853,617.9 862.3,602.9 843.7,602.9ZM863.8,626.5 873.1,611.5 854.5,611.5ZM874.5,635.1 883.8,620.1 865.2,620.1ZM885.2,643.8 894.5,628.8 876,628.8Z" fill="#0000ff"/>
<path d="M122.5,15.4 132.1,25 122.5,34.6 112.9,25ZM133.2,24 142.9,33.6 133.2,43.2 123.6,33.6ZM144,32.7 153.6,42.3 144,51.9 134.4,42.3ZM154.7,41.3 164.3,50.9 154.7,60.5 145.1,50.9ZM165.5,49.9 175.1,59.6 165.5,69.2 155.9,59.6ZM176.2,58.6 185.8,68.2 176.2,77.8 166.6,68.2ZM187,67.2 196.6,76.8 187,86.4 177.3,76.8ZM197.7,75.9 207.3,85.5 197.7,95.1 188.1,85.5ZM208.4,84.5 218.1,94.1 208.4,103.7 198.8,94.1ZM219.2,93.1 228.8,102.7 219.2,112.4 209.6,102.7ZM229.9,101.8 239.5,111.4 229.9,121 220.3,111.4ZM240.7,110.4 250.3,120 240.7,129.6 231.1,120ZM251.4,119.1 261,128.7 251.4,138.3 241.8,128.7ZM262.2,127.7 271.8,137.3 262.2,146.9 252.5,137.3ZM272.9,136.3 282.5,145.9 272.9,155.6 263.3,145.9ZM283.6,145 293.3,154.6 283.6,164.2 274,154.6ZM294.4,153.6 304,163.2 294.4,172.8 284.8,163.2ZM305.1,162.2 314.7,171.9 305.1,181.5 295.5,171.9ZM315.9,170.9 325.5,180.5 315.9,190.1 306.3,180.5ZM326.6,179.5 336.2,189.1 326.6,198.7 317,189.1ZM337.4,188.2 347,197.8 337.4,207.4 327.7,197.8ZM348.1,196.8 357.7,206.4 348.1,216 338.5,206.4ZM358.8,205.4 368.5,215.1 358.8,224.7 349.2,215.1ZM369.6,214.1 379.2,223.7 369.6,233.3 360,223.7ZM380.3,222.7 389.9,232.3 380.3,241.9 370.7,232.3ZM391.1,231.4 400.7,241 391.1,250.6 381.5,241ZM401.8,240 411.4,249.6 401.8,259.2 392.2,249.6ZM412.6,248.6 422.2,258.2 412.6,267.9 402.9,258.2ZM423.3,257.3 432.9,266.9 423.3,276.5 413.7,266.9ZM434,265.9 443.7,275.5 434,285.1 424.4,275.5ZM444.8,274.6 454.4,284.2 444.8,293.8 435.2,284.2ZM455.5,283.2 465.1,292.8 455.5,302.4 445.9,292.8ZM466.3,291.8 475.9,301.4 466.3,311 456.7,301.4ZM477,300.5 486.6,310.1 477,319.7 467.4,310.1ZM487.8,309.1 497.4,318.7 487.8,328.3 478.2,318.7ZM498.5,317.7 508.1,327.4 498.5,337 488.9,327.4ZM509.2,326.4 518.9,336 509.2,345.6 499.6,336ZM520,335 529.6,344.6 520,354.2 510.4,344.6ZM530.7,343.7 540.3,353.3 530.7,362.9 521.1,353.3ZM541.5,352.3 551.1,361.9 541.5,371.5 531.9,361.9ZM552.2,360.9 561.8,370.5 552.2,380.2 542.6,370.5ZM563,369.6 572.6,379.2 563,388.8 553.4,379.2ZM573.7,378.2 583.3,387.8 573.7,397.4 564.1,387.8ZM584.4,386.9 594.1,396.5 584.4,406.1 574.8,396.5ZM595.2,395.5 604.8,405.1 595.2,414.7 585.6,405.1ZM605.9,404.1 615.5,413.7 605.9,423.4 596.3,413.7ZM616.7,412.8 626.3,422.4 616.7,432 607.1,422.4ZM627.4,421.4 637,431 627.4,440.6 617.8,431ZM638.2,430 647.8,439.7 638.2,449.3 628.6,439.7ZM648.9,438.7 658.5,448.3 648.9,457.9 639.3,448.3ZM659.6,447.3 669.3,456.9 659.6,466.5 650,456.9ZM670.4,456 680,465.6 670.4,475.2 660.8,465.6ZM681.1,464.6 690.7,474.2 681.1,483.8 671.5,474.2ZM691.9,473.2 701.5,482.9 691.9,492.5 682.3,482.9ZM702.6,481.9 712.2,491.5 702.6,501.1 693,491.5ZM713.4,490.5 723,500.1 713.4,509.7 703.8,500.1ZM724.1,499.2 733.7,508.8 724.1,518.4 714.5,508.8ZM734.8,507.8 744.5,517.4 734.8,527 725.2,517.4ZM745.6,516.4 755.2,526 745.6,535.7 736,526ZM756.3,525.1 765.9,534.7 756.3,544.3 746.7,534.7ZM767.1,533.7 776.7,543.3 767.1,552.9 757.5,543.3ZM777.8,542.4 787.4,552 777.8,561.6 768.2,552ZM788.6,551 798.2,560.6 788.6,570.2 779,560.6ZM799.3,559.6 808.9,569.2 799.3,578.9 789.7,569.2ZM810,568.3 819.7,577.9 810,587.5 800.4,577.9ZM820.8,576.9 830.4,586.5 820.8,596.1 811.2,586.5ZM831.5,585.5 841.1,595.2 831.5,604.8 821.9,595.2ZM842.3,594.2 851.9,603.8 842.3,613.4 832.7,603.8ZM853,602.8 862.6,612.4 853,622 843.4,612.4ZM863.8,611.5 873.4,621.1 863.8,630.7 854.2,621.1ZM874.5,620.1 884.1,629.7 874.5,639.3 864.9,629.7ZM885.2,628.7 894.9,638.4 885.2,648 875.6,638.4Z" fill="#808000"/>
<path d="M114.2,24 129.2,14.7 129.2,33.3ZM125.6,33.2 140.6,23.9 140.6,42.5ZM137,42.3 152,33 152,51.6ZM148.4,51.5 163.4,42.2 163.4,60.8ZM159.8,60.6 174.8,51.3 174.8,69.9ZM171.2,69.8 186.2,60.5 186.2,79.1ZM182.6,78.9 197.6,69.6 197.6,88.2ZM193.9,88.1 208.9,78.8 208.9,97.4ZM205.3,97.2 220.3,87.9 220.3,106.5ZM216.7,106.4 231.7,97.1 231.7,115.7ZM228.1,115.5 243.1,106.2 243.1,124.8ZM239.5,124.7 254.5,115.4 254.5,134ZM250.9,133.9 265.9,124.6 265.9,143.2ZM262.2,143 277.2,133.7 277.2,152.3ZM273.6,152.2 288.6,142.9 288.6,161.5ZM285,161.3 300,152 300,170.6ZM296.4,170.5 311.4,161.2 311.4,179.8ZM307.8,179.6 322.8,170.3 322.8,188.9ZM319.2,188.8 334.2,179.5 334.2,198.1ZM330.6,197.9 345.6,188.6 345.6,207.2ZM341.9,207.1 356.9,197.8 356.9,216.4ZM353.3,216.2 368.3,206.9 368.3,225.5ZM364.7,225.4 379.7,216.1 379.7,234.7ZM376.1,234.6 391.1,225.3 391.1,243.9ZM387.5,243.7 402.5,234.4 402.5,253ZM398.9,252.9 413.9,243.6 413.9,262.2ZM410.2,262 425.2,252.7 425.2,271.3ZM421.6,271.2 436.6,261.9 436.6,280.5ZM433,280.3 448,271 448,289.6ZM444.4,289.5 459.4,280.2 459.4,298.8ZM455.8,298.6 470.8,289.3 470.8,307.9ZM467.2,307.8 482.2,298.5 482.2,317.1ZM478.5,316.9 493.5,307.6 493.5,326.2ZM489.9,326.1 504.9,316.8 504.9,335.4ZM501.3,335.3 516.3,326 516.3,344.6ZM512.7,344.4 527.7,335.1 527.7,353.7ZM524.1,353.6 539.1,344.3 539.1,362.9ZM535.5,362.7 550.5,353.4 550.5,372ZM546.9,371.9 561.9,362.6 561.9,381.2ZM558.2,381 573.2,371.7 573.2,390.3ZM569.6,390.2 584.6,380.9 584.6,399.5ZM581,399.3 596,390 596,408.6ZM592.4,408.5 607.4,399.2 607.4,417.8ZM603.8,417.6 618.8,408.3 618.8,426.9ZM615.2,426.8 630.2,417.5 630.2,436.1ZM626.5,436 641.5,426.7 641.5,445.3ZM637.9,445.1 652.9,435.8 652.9,454.4ZM649.3,454.3 664.3,445 664.3,463.6ZM660.7,463.4 675.7,454.1 675.7,472.7ZM672.1,472.6 687.1,463.3 687.1,481.9ZM683.5,481.7 698.5,472.4 698.5,491ZM694.9,490.9 709.9,481.6 709.9,500.2ZM706.2,500 721.2,490.7 721.2,509.3ZM717.6,509.2 732.6,499.9 732.6,518.5ZM729,518.3 744,509 744,527.6ZM740.4,527.5 755.4,518.2 755.4,536.8ZM751.8,536.7 766.8,527.4 766.8,546ZM763.2,545.8 778.2,536.5 778.2,555.1ZM774.5,555 789.5,545.7 789.5,564.3ZM785.9,564.1 800.9,554.8 800.9,573.4ZM797.3,573.3 812.3,564 812.3,582.6ZM808.7,582.4 823.7,573.1 823.7,591.7ZM820.1,591.6 835.1,582.3 835.1,600.9ZM831.5,600.7 846.5,591.4 846.5,610ZM842.8,609.9 857.8,600.6 857.8,619.2ZM854.2,619 869.2,609.7 869.2,628.3ZM865.6,628.2 880.6,618.9 880.6,637.5ZM877,637.4 892,628.1 892,646.6Z" fill="#00ffff"/>
<path d="M130.8,25 115.8,15.7 115.8,34.3ZM139.8,32.1 124.8,22.8 124.8,41.4ZM148.8,39.3 133.8,30 133.8,48.6ZM157.9,46.4 142.9,37.1 142.9,55.7ZM166.9,53.6 151.9,44.3 151.9,62.9ZM175.9,60.7 160.9,51.4 160.9,70ZM185,67.9 170,58.6 170,77.2ZM194,75 179,65.7 179,84.3ZM203.1,82.2 188.1,72.9 188.1,91.5ZM212.1,89.3 197.1,80 197.1,98.6ZM221.2,96.5 206.2,87.2 206.2,105.8ZM230.2,103.6 215.2,94.3 215.2,112.9ZM239.2,110.8 224.2,101.5 224.2,120.1ZM248.3,117.9 233.3,108.6 233.3,127.2ZM257.3,125.1 242.3,115.8 242.3,134.4ZM266.4,132.2 251.4,122.9 251.4,141.5ZM275.4,139.3 260.4,130 260.4,148.6ZM284.4,146.5 269.4,137.2 269.4,155.8ZM293.5,153.6 278.5,144.3 278.5,162.9ZM302.5,160.8 287.5,151.5 287.5,170.1ZM311.6,167.9 296.6,158.6 296.6,177.2ZM320.6,175.1 305.6,165.8 305.6,184.4ZM329.6,182.2 314.6,172.9 314.6,191.5ZM338.7,189.4 323.7,180.1 323.7,198.7ZM347.7,196.5 332.7,187.2 332.7,205.8ZM356.8,203.7 341.8,194.4 341.8,213ZM365.8,210.8 350.8,201.5 350.8,220.1ZM374.8,218 359.8,208.7 359.8,227.3ZM383.9,225.1 368.9,215.8 368.9,234.4ZM392.9,232.3 377.9,223 377.9,241.6ZM401.9,239.4 386.9,230.1 386.9,248.7ZM411,246.5 396,237.2 396,255.8ZM420,253.7 405,244.4 405,263ZM429.1,260.8 414.1,251.5 414.1,270.1ZM438.1,268 423.1,258.7 423.1,277.3ZM447.1,275.1 432.1,265.8 432.1,284.4ZM456.2,282.3 441.2,273 441.2,291.6ZM465.2,289.4 450.2,280.1 450.2,298.7ZM474.3,296.6 459.3,287.3 459.3,305.9ZM483.3,303.7 468.3,294.4 468.3,313ZM492.4,310.9 477.4,301.6 477.4,320.2ZM501.4,318 486.4,308.7 486.4,327.3ZM510.4,325.2 495.4,315.9 495.4,334.5ZM519.5,332.3 504.5,323 504.5,341.6ZM528.5,339.5 513.5,330.2 513.5,348.8ZM537.5,346.6 522.5,337.3 522.5,355.9ZM546.6,353.7 531.6,344.4 531.6,363ZM555.6,360.9 540.6,351.6 540.6,370.2ZM564.7,368 549.7,358.7 549.7,377.3ZM573.7,375.2 558.7,365.9 558.7,384.5ZM582.8,382.3 567.8,373 567.8,391.6ZM591.8,389.5 576.8,380.2 576.8,398.8ZM600.8,396.6 585.8,387.3 585.8,405.9ZM609.9,403.8 594.9,394.5 594.9,413.1ZM618.9,410.9 603.9,401.6 603.9,420.2ZM628,418.1 613,408.8 613,427.4ZM637,425.2 622,415.9 622,434.5ZM646,432.4 631,423.1 631,441.7ZM655.1,439.5 640.1,430.2 640.1,448.8ZM664.1,446.7 649.1,437.4 649.1,456ZM673.1,453.8 658.1,444.5 658.1,463.1ZM682.2,460.9 667.2,451.6 667.2,470.2ZM691.2,468.1 676.2,458.8 676.2,477.4ZM700.3,475.2 685.3,465.9 685.3,484.5ZM709.3,482.4 694.3,473.1 694.3,491.7ZM718.4,489.5 703.4,480.2 703.4,498.8ZM727.4,496.7 712.4,487.4 712.4,506ZM736.4,503.8 721.4,494.5 721.4,513.1ZM745.5,511 730.5,501.7 730.5,520.3ZM754.5,518.1 739.5,508.8 739.5,527.4ZM763.5,525.3 748.5,516 748.5,534.6ZM772.6,532.4 757.6,523.1 757.6,541.7ZM781.6,539.6 766.6,530.3 766.6,548.9ZM790.7,546.7 775.7,537.4 775.7,556ZM799.7,553.9 784.7,544.6 784.7,563.2ZM808.8,561 793.8,551.7 793.8,570.3Z" fill="#ff00ff"/>
<path d="M122.5,14.6 131,19.6 131,29.4 122.5,34.4 114,29.4 114,19.6ZM131.5,21.6 140.1,26.5 140.1,36.4 131.5,41.3 123,36.4 123,26.5ZM140.6,28.6 149.1,33.5 149.1,43.4 140.6,48.3 132,43.4 132,33.5ZM149.6,35.5 158.2,40.5 158.2,50.3 149.6,55.3 141.1,50.3 141.1,40.5ZM158.7,42.5 167.2,47.4 167.2,57.3 158.7,62.2 150.1,57.3 150.1,47.4ZM167.7,49.5 176.2,54.4 176.2,64.3 167.7,69.2 159.2,64.3 159.2,54.4ZM176.7,56.4 185.3,61.4 185.3,71.2 176.7,76.2 168.2,71.2 168.2,61.4ZM185.8,63.4 194.3,68.3 194.3,78.2 185.8,83.1 177.2,78.2 177.2,68.3ZM194.8,70.4 203.4,75.3 203.4,85.2 194.8,90.1 186.3,85.2 186.3,75.3ZM203.9,77.3 212.4,82.3 212.4,92.1 203.9,97 195.3,92.1 195.3,82.3ZM212.9,84.3 221.4,89.2 221.4,99.1 212.9,104 204.4,99.1 204.4,89.2ZM221.9,91.3 230.5,96.2 230.5,106 221.9,111 213.4,106 213.4,96.2ZM231,98.2 239.5,103.2 239.5,113 231,117.9 222.4,113 222.4,103.2ZM240,105.2 248.6,110.1 248.6,120 240,124.9 231.5,120 231.5,110.1ZM249.1,112.2 257.6,117.1 257.6,126.9 249.1,131.9 240.5,126.9 240.5,117.1ZM258.1,119.1 266.6,124.1 266.6,133.9 258.1,138.8 249.6,133.9 249.6,124.1ZM267.1,126.1 275.7,131 275.7,140.9 267.1,145.8 258.6,140.9 258.6,131ZM276.2,133.1 284.7,138 284.7,147.8 276.2,152.8 267.6,147.8 267.6,138ZM285.2,140 293.8,144.9 293.8,154.8 285.2,159.7 276.7,154.8 276.7,144.9ZM294.3,147 302.8,151.9 302.8,161.8 294.3,166.7 285.7,161.8 285.7,151.9ZM303.3,153.9 311.8,158.9 311.8,168.7 303.3,173.7 294.8,168.7 294.8,158.9ZM312.3,160.9 320.9,165.8 320.9,175.7 312.3,180.6 303.8,175.7 303.8,165.8ZM321.4,167.9 329.9,172.8 329.9,182.7 321.4,187.6 312.8,182.7 312.8,172.8ZM330.4,174.8 339,179.8 339,189.6 330.4,194.6 321.9,189.6 321.9,179.8ZM339.5,181.8 348,186.7 348,196.6 339.5,201.5 330.9,196.6 330.9,186.7ZM348.5,188.8 357,193.7 357,203.6 348.5,208.5 340,203.6 340,193.7ZM357.5,195.7 366.1,200.7 366.1,210.5 357.5,215.5 349,210.5 349,200.7ZM366.6,202.7 375.1,207.6 375.1,217.5 366.6,222.4 358,217.5 358,207.6ZM375.6,209.7 384.2,214.6 384.2,224.5 375.6,229.4 367.1,224.5 367.1,214.6ZM384.7,216.6 393.2,221.6 393.2,231.4 384.7,236.4 376.1,231.4 376.1,221.6ZM393.7,223.6 402.2,228.5 402.2,238.4 393.7,243.3 385.2,238.4 385.2,228.5ZM402.7,230.6 411.3,235.5 411.3,245.4 402.7,250.3 394.2,245.4 394.2,235.5ZM411.8,237.5 420.3,242.5 420.3,252.3 411.8,257.3 403.2,252.3 403.2,242.5ZM420.8,244.5 429.4,249.4 429.4,259.3 420.8,264.2 412.3,259.3 412.3,249.4ZM429.9,251.5 438.4,256.4 438.4,266.3 429.9,271.2 421.3,266.3 421.3,256.4ZM438.9,258.4 447.4,263.4 447.4,273.2 438.9,278.1 430.4,273.2 430.4,263.4ZM447.9,265.4 456.5,270.3 456.5,280.2 447.9,285.1 439.4,280.2 439.4,270.3ZM457,272.4 465.5,277.3 465.5,287.1 457,292.1 448.4,287.1 448.4,277.3ZM466,279.3 474.6,284.3 474.6,294.1 466,299 457.5,294.1 457.5,284.3ZM475.1,286.3 483.6,291.2 483.6,301.1 475.1,306 466.5,301.1 466.5,291.2ZM484.1,293.3 492.6,298.2 492.6,308 484.1,313 475.6,308 475.6,298.2ZM493.1,300.2 501.7,305.1 501.7,315 493.1,319.9 484.6,315 484.6,305.1ZM502.2,307.2 510.7,312.1 510.7,322 502.2,326.9 493.6,322 493.6,312.1ZM511.2,314.1 519.8,319.1 519.8,328.9 511.2,333.9 502.7,328.9 502.7,319.1ZM520.3,321.1 528.8,326 528.8,335.9 520.3,340.8 511.7,335.9 511.7,326ZM529.3,328.1 537.8,333 537.8,342.9 529.3,347.8 520.8,342.9 520.8,333ZM538.3,335 546.9,340 546.9,349.8 538.3,354.8 529.8,349.8 529.8,340ZM547.4,342 555.9,346.9 555.9,356.8 547.4,361.7 538.8,356.8 538.8,346.9ZM556.4,349 565,353.9 565,363.8 556.4,368.7 547.9,363.8 547.9,353.9ZM565.5,355.9 574,360.9 574,370.7 565.5,375.7 556.9,370.7 556.9,360.9ZM574.5,362.9 583,367.8 583,377.7 574.5,382.6 566,377.7 566,367.8ZM583.5,369.9 592.1,374.8 592.1,384.7 583.5,389.6 575,384.7 575,374.8ZM592.6,376.8 601.1,381.8 601.1,391.6 592.6,396.6 584,391.6 584,381.8ZM601.6,383.8 610.2,388.7 610.2,398.6 601.6,403.5 593.1,398.6 593.1,388.7ZM610.7,390.8 619.2,395.7 619.2,405.6 610.7,410.5 602.1,405.6 602.1,395.7ZM619.7,397.7 628.2,402.7 628.2,412.5 619.7,417.5 611.2,412.5 611.2,402.7ZM628.7,404.7 637.3,409.6 637.3,419.5 628.7,424.4 620.2,419.5 620.2,409.6ZM637.8,411.7 646.3,416.6 646.3,426.5 637.8,431.4 629.2,426.5 629.2,416.6ZM646.8,418.6 655.4,423.6 655.4,433.4 646.8,438.3 638.3,433.4 638.3,423.6ZM655.9,425.6 664.4,430.5 664.4,440.4 655.9,445.3 647.3,440.4 647.3,430.5ZM664.9,432.6 673.4,437.5 673.4,447.4 664.9,452.3 656.4,447.4 656.4,437.5ZM673.9,439.5 682.5,444.5 682.5,454.3 673.9,459.2 665.4,454.3 665.4,444.5ZM683,446.5 691.5,451.4 691.5,461.3 683,466.2 674.4,461.3 674.4,451.4ZM692,453.5 700.6,458.4 700.6,468.2 692,473.2 683.5,468.2 683.5,458.4ZM701.1,460.4 709.6,465.4 709.6,475.2 701.1,480.1 692.5,475.2 692.5,465.4ZM710.1,467.4 718.6,472.3 718.6,482.2 710.1,487.1 701.6,482.2 701.6,472.3ZM719.1,474.4 727.7,479.3 727.7,489.1 719.1,494.1 710.6,489.1 710.6,479.3ZM728.2,481.3 736.7,486.2 736.7,496.1 728.2,501 719.6,496.1 719.6,486.2ZM737.2,488.3 745.8,493.2 745.8,503.1 737.2,508 728.7,503.1 728.7,493.2ZM746.3,495.2 754.8,500.2 754.8,510 746.3,515 737.7,510 737.7,500.2ZM755.3,502.2 763.8,507.1 763.8,517 755.3,521.9 746.8,517 746.8,507.1ZM764.3,509.2 772.9,514.1 772.9,524 764.3,528.9 755.8,524 755.8,514.1ZM773.4,516.1 781.9,521.1 781.9,530.9 773.4,535.9 764.8,530.9 764.8,521.1ZM782.4,523.1 791,528 791,537.9 782.4,542.8 773.9,537.9 773.9,528ZM791.5,530.1 800,535 800,544.9 791.5,549.8 782.9,544.9 782.9,535ZM800.5,537 809,542 809,551.8 800.5,556.8 792,551.8 792,542Z" fill="#ff8000"/>
<path d="M122.5,14 125.4,22.3 134.1,22.5 127.1,27.7 129.7,36.1 122.5,31.1 115.3,36.1 117.9,27.7 110.9,22.5 119.6,22.3ZM131.5,21.1 134.4,29.4 143.2,29.5 136.2,34.8 138.7,43.2 131.5,38.2 124.4,43.2 126.9,34.8 119.9,29.5 128.7,29.4ZM140.6,28.2 143.5,36.5 152.2,36.6 145.2,41.9 147.8,50.3 140.6,45.3 133.4,50.3 135.9,41.9 129,36.6 137.7,36.5ZM149.6,35.3 152.5,43.5 161.2,43.7 154.3,49 156.8,57.4 149.6,52.4 142.4,57.4 145,49 138,43.7 146.7,43.5ZM158.7,42.4 161.5,50.6 170.3,50.8 163.3,56.1 165.8,64.4 158.7,59.5 151.5,64.4 154,56.1 147,50.8 155.8,50.6ZM167.7,49.4 170.6,57.7 179.3,57.9 172.3,63.2 174.9,71.5 167.7,66.5 160.5,71.5 163.1,63.2 156.1,57.9 164.8,57.7ZM176.7,56.5 179.6,64.8 188.4,65 181.4,70.2 183.9,78.6 176.7,73.6 169.6,78.6 172.1,70.2 165.1,65 173.9,64.8ZM185.8,63.6 188.7,71.9 197.4,72 190.4,77.3 193,85.7 185.8,80.7 178.6,85.7 181.1,77.3 174.2,72 182.9,71.9ZM194.8,70.7 197.7,79 206.4,79.1 199.5,84.4 202,92.8 194.8,87.8 187.6,92.8 190.2,84.4 183.2,79.1 191.9,79ZM203.9,77.8 206.7,86 215.5,86.2 208.5,91.5 211,99.9 203.9,94.9 196.7,99.9 199.2,91.5 192.2,86.2 201,86ZM212.9,84.9 215.8,93.1 224.5,93.3 217.5,98.6 220.1,106.9 212.9,102 205.7,106.9 208.3,98.6 201.3,93.3 210,93.1ZM221.9,91.9 224.8,100.2 233.6,100.4 226.6,105.7 229.1,114 221.9,109 214.8,114 217.3,105.7 210.3,100.4 219.1,100.2ZM231,99 233.9,107.3 242.6,107.5 235.6,112.7 238.2,121.1 231,116.1 223.8,121.1 226.3,112.7 219.4,107.5 228.1,107.3ZM240,106.1 242.9,114.4 251.6,114.5 244.7,119.8 247.2,128.2 240,123.2 232.8,128.2 235.4,119.8 228.4,114.5 237.1,114.4ZM249.1,113.2 251.9,121.4 260.7,121.6 253.7,126.9 256.2,135.3 249.1,130.3 241.9,135.3 244.4,126.9 237.4,121.6 246.2,121.4ZM258.1,120.3 261,128.5 269.7,128.7 262.7,134 265.3,142.4 258.1,137.4 250.9,142.4 253.5,134 246.5,128.7 255.2,128.5ZM267.1,127.4 270,135.6 278.8,135.8 271.8,141.1 274.3,149.4 267.1,144.4 260,149.4 262.5,141.1 255.5,135.8 264.3,135.6ZM276.2,134.4 279.1,142.7 287.8,142.9 280.8,148.2 283.4,156.5 276.2,151.5 269,156.5 271.5,148.2 264.6,142.9 273.3,142.7ZM285.2,141.5 288.1,149.8 296.8,150 289.9,155.2 292.4,163.6 285.2,158.6 278,163.6 280.6,155.2 273.6,150 282.3,149.8ZM294.3,148.6 297.1,156.9 305.9,157 298.9,162.3 301.4,170.7 294.3,165.7 287.1,170.7 289.6,162.3 282.6,157 291.4,156.9ZM303.3,155.7 306.2,163.9 314.9,164.1 307.9,169.4 310.5,177.8 303.3,172.8 296.1,177.8 298.7,169.4 291.7,164.1 300.4,163.9ZM312.3,162.8 315.2,171 324,171.2 317,176.5 319.5,184.9 312.3,179.9 305.2,184.9 307.7,176.5 300.7,171.2 309.5,171ZM321.4,169.8 324.3,178.1 333,178.3 326,183.6 328.6,191.9 321.4,186.9 314.2,191.9 316.7,183.6 309.8,178.3 318.5,178.1ZM330.4,176.9 333.3,185.2 342,185.4 335.1,190.7 337.6,199 330.4,194 323.2,199 325.8,190.7 318.8,185.4 327.5,185.2ZM339.5,184 342.3,192.3 351.1,192.5 344.1,197.7 346.6,206.1 339.5,201.1 332.3,206.1 334.8,197.7 327.8,192.5 336.6,192.3ZM348.5,191.1 351.4,199.4 360.1,199.5 353.1,204.8 355.7,213.2 348.5,208.2 341.3,213.2 343.9,204.8 336.9,199.5 345.6,199.4ZM357.5,198.2 360.4,206.4 369.2,206.6 362.2,211.9 364.7,220.3 357.5,215.3 350.4,220.3 352.9,211.9 345.9,206.6 354.7,206.4ZM366.6,205.3 369.5,213.5 378.2,213.7 371.2,219 373.8,227.4 366.6,222.4 359.4,227.4 361.9,219 355,213.7 363.7,213.5ZM375.6,212.3 378.5,220.6 387.2,220.8 380.3,226.1 382.8,234.4 375.6,229.4 368.4,234.4 371,226.1 364,220.8 372.7,220.6ZM384.7,219.4 387.5,227.7 396.3,227.9 389.3,233.1 391.8,241.5 384.7,236.5 377.5,241.5 380,233.1 373,227.9 381.8,227.7ZM393.7,226.5 396.6,234.8 405.3,234.9 398.3,240.2 400.9,248.6 393.7,243.6 386.5,248.6 389.1,240.2 382.1,234.9 390.8,234.8ZM402.7,233.6 405.6,241.9 414.4,242 407.4,247.3 409.9,255.7 402.7,250.7 395.6,255.7 398.1,247.3 391.1,242 399.9,241.9ZM411.8,240.7 414.7,248.9 423.4,249.1 416.4,254.4 419,262.8 411.8,257.8 404.6,262.8 407.1,254.4 400.2,249.1 408.9,248.9ZM420.8,247.8 423.7,256 432.4,256.2 425.5,261.5 428,269.8 420.8,264.9 413.6,269.8 416.2,261.5 409.2,256.2 417.9,256ZM429.9,254.8 432.7,263.1 441.5,263.3 434.5,268.6 437,276.9 429.9,271.9 422.7,276.9 425.2,268.6 418.2,263.3 427,263.1ZM438.9,261.9 441.8,270.2 450.5,270.4 443.5,275.6 446.1,284 438.9,279 431.7,284 434.3,275.6 427.3,270.4 436,270.2ZM447.9,269 450.8,277.3 459.6,277.4 452.6,282.7 455.1,291.1 447.9,286.1 440.8,291.1 443.3,282.7 436.3,277.4 445.1,277.3ZM457,276.1 459.9,284.3 468.6,284.5 461.6,289.8 464.2,298.2 457,293.2 449.8,298.2 452.3,289.8 445.4,284.5 454.1,284.3ZM466,283.2 468.9,291.4 477.6,291.6 470.7,296.9 473.2,305.3 466,300.3 458.8,305.3 461.4,296.9 454.4,291.6 463.1,291.4ZM475.1,290.3 477.9,298.5 486.7,298.7 479.7,304 482.2,312.3 475.1,307.3 467.9,312.3 470.4,304 463.4,298.7 472.2,298.5ZM484.1,297.3 487,305.6 495.7,305.8 488.7,311.1 491.3,319.4 484.1,314.4 476.9,319.4 479.5,311.1 472.5,305.8 481.2,305.6ZM493.1,304.4 496,312.7 504.8,312.9 497.8,318.1 500.3,326.5 493.1,321.5 486,326.5 488.5,318.1 481.5,312.9 490.3,312.7ZM502.2,311.5 505.1,319.8 513.8,319.9 506.8,325.2 509.4,333.6 502.2,328.6 495,333.6 497.5,325.2 490.6,319.9 499.3,319.8ZM511.2,318.6 514.1,326.8 522.8,327 515.9,332.3 518.4,340.7 511.2,335.7 504,340.7 506.6,332.3 499.6,327 508.3,326.8ZM520.3,325.7 523.1,333.9 531.9,334.1 524.9,339.4 527.4,347.8 520.3,342.8 513.1,347.8 515.6,339.4 508.6,334.1 517.4,333.9ZM529.3,332.8 532.2,341 540.9,341.2 533.9,346.5 536.5,354.8 529.3,349.8 522.1,354.8 524.7,346.5 517.7,341.2 526.4,341ZM538.3,339.8 541.2,348.1 550,348.3 543,353.6 545.5,361.9 538.3,356.9 531.2,361.9 533.7,353.6 526.7,348.3 535.5,348.1ZM547.4,346.9 550.3,355.2 559,355.4 552,360.6 554.6,369 547.4,364 540.2,369 542.7,360.6 535.8,355.4 544.5,355.2ZM556.4,354 559.3,362.3 568,362.4 561.1,367.7 563.6,376.1 556.4,371.1 549.2,376.1 551.8,367.7 544.8,362.4 553.5,362.3ZM565.5,361.1 568.3,369.3 577.1,369.5 570.1,374.8 572.6,383.2 565.5,378.2 558.3,383.2 560.8,374.8 553.8,369.5 562.6,369.3ZM574.5,368.2 577.4,376.4 586.1,376.6 579.1,381.9 581.7,390.3 574.5,385.3 567.3,390.3 569.9,381.9 562.9,376.6 571.6,376.4ZM583.5,375.2 586.4,383.5 595.2,383.7 588.2,389 590.7,397.3 583.5,392.3 576.4,397.3 578.9,389 571.9,383.7 580.7,383.5ZM592.6,382.3 595.5,390.6 604.2,390.8 597.2,396 599.8,404.4 592.6,399.4 585.4,404.4 587.9,396 581,390.8 589.7,390.6ZM601.6,389.4 604.5,397.7 613.2,397.8 606.3,403.1 608.8,411.5 601.6,406.5 594.4,411.5 597,403.1 590,397.8 598.7,397.7ZM610.7,396.5 613.5,404.8 622.3,404.9 615.3,410.2 617.8,418.6 610.7,413.6 603.5,418.6 606,410.2 599,404.9 607.8,404.8ZM619.7,403.6 622.6,411.8 631.3,412 624.3,417.3 626.9,425.7 619.7,420.7 612.5,425.7 615.1,417.3 608.1,412 616.8,411.8ZM628.7,410.7 631.6,418.9 640.4,419.1 633.4,424.4 635.9,432.7 628.7,427.8 621.6,432.7 624.1,424.4 617.1,419.1 625.9,418.9ZM637.8,417.7 640.7,426 649.4,426.2 642.4,431.5 645,439.8 637.8,434.8 630.6,439.8 633.1,431.5 626.2,426.2 634.9,426ZM646.8,424.8 649.7,433.1 658.4,433.3 651.5,438.5 654,446.9 646.8,441.9 639.6,446.9 642.2,438.5 635.2,433.3 643.9,433.1ZM655.9,431.9 658.7,440.2 667.5,440.3 660.5,445.6 663,454 655.9,449 648.7,454 651.2,445.6 644.2,440.3 653,440.2ZM664.9,439 667.8,447.2 676.5,447.4 669.5,452.7 672.1,461.1 664.9,456.1 657.7,461.1 660.3,452.7 653.3,447.4 662,447.2ZM673.9,446.1 676.8,454.3 685.6,454.5 678.6,459.8 681.1,468.2 673.9,463.2 666.8,468.2 669.3,459.8 662.3,454.5 671.1,454.3ZM683,453.2 685.9,461.4 694.6,461.6 687.6,466.9 690.2,475.2 683,470.2 675.8,475.2 678.3,466.9 671.4,461.6 680.1,461.4ZM692,460.2 694.9,468.5 703.6,468.7 696.7,474 699.2,482.3 692,477.3 684.8,482.3 687.4,474 680.4,468.7 689.1,468.5ZM701.1,467.3 703.9,475.6 712.7,475.8 705.7,481 708.2,489.4 701.1,484.4 693.9,489.4 696.4,481 689.4,475.8 698.2,475.6ZM710.1,474.4 713,482.7 721.7,482.8 714.7,488.1 717.3,496.5 710.1,491.5 702.9,496.5 705.5,488.1 698.5,482.8 707.2,482.7ZM719.1,481.5 722,489.7 730.8,489.9 723.8,495.2 726.3,503.6 719.1,498.6 712,503.6 714.5,495.2 707.5,489.9 716.3,489.7ZM728.2,488.6 731.1,496.8 739.8,497 732.8,502.3 735.4,510.7 728.2,505.7 721,510.7 723.5,502.3 716.6,497 725.3,496.8ZM737.2,495.7 740.1,503.9 748.8,504.1 741.9,509.4 744.4,517.7 737.2,512.7 730,517.7 732.6,509.4 725.6,504.1 734.3,503.9ZM746.3,502.7 749.1,511 757.9,511.2 750.9,516.5 753.4,524.8 746.3,519.8 739.1,524.8 741.6,516.5 734.6,511.2 743.4,511ZM755.3,509.8 758.2,518.1 766.9,518.3 759.9,523.5 762.5,531.9 755.3,526.9 748.1,531.9 750.7,523.5 743.7,518.3 752.4,518.1ZM764.3,516.9 767.2,525.2 776,525.3 769,530.6 771.5,539 764.3,534 757.2,539 759.7,530.6 752.7,525.3 761.5,525.2ZM773.4,524 776.3,532.2 785,532.4 778,537.7 780.6,546.1 773.4,541.1 766.2,546.1 768.7,537.7 761.8,532.4 770.5,532.2ZM782.4,531.1 785.3,539.3 794,539.5 787.1,544.8 789.6,553.2 782.4,548.2 775.2,553.2 777.8,544.8 770.8,539.5 779.5,539.3ZM791.5,538.1 794.3,546.4 803.1,546.6 796.1,551.9 798.6,560.2 791.5,555.2 784.3,560.2 786.8,551.9 779.8,546.6 788.6,546.4ZM800.5,545.2 803.4,553.5 812.1,553.7 805.1,558.9 807.7,567.3 800.5,562.3 793.3,567.3 795.9,558.9 788.9,553.7 797.6,553.5Z" fill="#800080"/>
<path d="M122.5,10.1 131.3,16.6 128,27 117,27 113.7,16.6ZM140.8,23.3 149.7,29.7 146.3,40.1 135.4,40.1 132,29.7ZM159.1,36.5 168,42.9 164.6,53.3 153.7,53.3 150.3,42.9ZM177.5,49.7 186.3,56.1 182.9,66.5 172,66.5 168.6,56.1ZM195.8,63 204.6,69.4 201.3,79.8 190.3,79.8 187,69.4ZM214.1,76.4 223,82.8 219.6,93.2 208.7,93.2 205.3,82.8ZM232.4,89.7 241.3,96.2 237.9,106.6 227,106.6 223.6,96.2ZM250.8,103.2 259.6,109.6 256.2,120 245.3,120 241.9,109.6ZM269.1,116.7 277.9,123.1 274.6,133.5 263.6,133.5 260.2,123.1ZM287.4,130.2 296.3,136.6 292.9,147 282,147 278.6,136.6ZM305.7,143.8 314.6,150.2 311.2,160.6 300.3,160.6 296.9,150.2ZM324.1,157.4 332.9,163.9 329.5,174.3 318.6,174.3 315.2,163.9ZM342.4,171.1 351.2,177.6 347.9,188 336.9,188 333.5,177.6ZM360.7,184.9 369.6,191.3 366.2,201.7 355.2,201.7 351.9,191.3ZM379,198.7 387.9,205.1 384.5,215.5 373.6,215.5 370.2,205.1ZM397.4,212.5 406.2,218.9 402.8,229.3 391.9,229.3 388.5,218.9ZM415.7,226.4 424.5,232.8 421.2,243.2 410.2,243.2 406.8,232.8ZM434,240.3 442.9,246.8 439.5,257.2 428.5,257.2 425.2,246.8ZM452.3,254.3 461.2,260.8 457.8,271.2 446.9,271.2 443.5,260.8ZM470.7,268.4 479.5,274.8 476.1,285.2 465.2,285.2 461.8,274.8ZM489,282.5 497.8,288.9 494.5,299.3 483.5,299.3 480.1,288.9ZM507.3,296.6 516.2,303 512.8,313.4 501.8,313.4 498.5,303ZM525.6,310.8 534.5,317.2 531.1,327.6 520.2,327.6 516.8,317.2ZM544,325 552.8,331.5 549.4,341.9 538.5,341.9 535.1,331.5ZM562.3,339.3 571.1,345.7 567.8,356.1 556.8,356.1 553.4,345.7ZM580.6,353.7 589.5,360.1 586.1,370.5 575.1,370.5 571.8,360.1ZM598.9,368.1 607.8,374.5 604.4,384.9 593.5,384.9 590.1,374.5ZM617.3,382.5 626.1,388.9 622.7,399.3 611.8,399.3 608.4,388.9ZM635.6,397 644.4,403.4 641,413.8 630.1,413.8 626.7,403.4ZM653.9,411.5 662.8,417.9 659.4,428.3 648.4,428.3 645.1,417.9ZM672.2,426.1 681.1,432.5 677.7,442.9 666.8,442.9 663.4,432.5ZM690.6,440.8 699.4,447.2 696,457.6 685.1,457.6 681.7,447.2ZM708.9,455.4 717.7,461.9 714.3,472.3 703.4,472.3 700,461.9ZM727.2,470.2 736,476.6 732.7,487 721.7,487 718.4,476.6ZM745.5,485 754.4,491.4 751,501.8 740.1,501.8 736.7,491.4ZM763.9,499.8 772.7,506.2 769.3,516.6 758.4,516.6 755,506.2ZM782.2,514.7 791,521.1 787.6,531.5 776.7,531.5 773.3,521.1ZM800.5,529.6 809.3,536.1 806,546.5 795,546.5 791.7,536.1Z" fill="#008000"/>
<line x1="93.2" y1="1.8" x2="909.8" y2="1.8" stroke="#000" stroke-width="3.6"/>
<line x1="93.2" y1="674.3" x2="909.8" y2="674.3" stroke="#000" stroke-width="3.6"/>
<line x1="95" y1="-0.1" x2="95" y2="676.1" stroke="#000" stroke-width="3.6"/>
<line x1="908" y1="-0.1" x2="908" y2="676.1" stroke="#000" stroke-width="3.6"/>
<line x1="83" y1="25.5" x2="95" y2="25.5" stroke="#000" stroke-width="3.6"/>
<line x1="83" y1="534.9" x2="95" y2="534.9" stroke="#000" stroke-width="3.6"/>
<line x1="88" y1="280.2" x2="95" y2="280.2" stroke="#000" stroke-width="3"/>
<line x1="122.5" y1="674.3" x2="122.5" y2="686.8" stroke="#000" stroke-width="3.6"/>
<line x1="461.5" y1="674.3" x2="461.5" y2="686.8" stroke="#000" stroke-width="3.6"/>
<line x1="800.5" y1="674.3" x2="800.5" y2="686.8" stroke="#000" stroke-width="3.6"/>
<line x1="292" y1="674.3" x2="292" y2="681.3" stroke="#000" stroke-width="3"/>
<line x1="631" y1="674.3" x2="631" y2="681.3" stroke="#000" stroke-width="3"/>
<text transform="translate(73,40.8) scale(0.97,1.05)" font-size="44" text-anchor="end" fill="#000" font-family='"Liberation Sans", sans-serif' >0.0</text>
<text transform="translate(73,550.2) scale(0.97,1.05)" font-size="44" text-anchor="end" fill="#000" font-family='"Liberation Sans", sans-serif' >-0.3</text>
<text transform="translate(122.5,731)" font-size="44" text-anchor="middle" fill="#000" font-family='"Liberation Sans", sans-serif' >0</text>
<text transform="translate(461.5,731)" font-size="44" text-anchor="middle" fill="#000" font-family='"Liberation Sans", sans-serif' >4</text>
<text transform="translate(800.5,731)" font-size="44" text-anchor="middle" fill="#000" font-family='"Liberation Sans", sans-serif' >8</text>
<text transform="translate(271,85)" font-size="50" text-anchor="start" fill="#000" font-family='"Liberation Sans", sans-serif' >(a)</text>
<text transform="translate(475.5,645)" font-size="46.5" text-anchor="start" fill="#000" font-family='"Liberation Sans", sans-serif' >B (T)</text>
<text transform="translate(38,313.5) rotate(-90)" font-size="49" text-anchor="middle" fill="#000" font-family='"Liberation Sans", sans-serif' ><tspan font-family='"Liberation Serif", serif'>ρ</tspan><tspan font-size="34.3" dy="9.8">xy</tspan><tspan dy="-9.8"> (m</tspan><tspan font-family='"Liberation Serif", serif'>Ω</tspan> cm)</text>
<path d="M142.5,278.5 157.5,278.5 157.5,293.5 142.5,293.5Z" fill="#000"/>
<text transform="translate(194,296.5)" font-size="30.5" text-anchor="start" fill="#000" font-family='"Liberation Sans", sans-serif' >2 K</text>
<path d="M150,316.1 152.3,316.4 154.4,317.3 156.2,318.7 157.6,320.5 158.5,322.6 158.8,324.9 158.5,327.2 157.6,329.3 156.2,331.1 154.4,332.5 152.3,333.4 150,333.6 147.7,333.4 145.6,332.5 143.8,331.1 142.4,329.3 141.5,327.2 141.2,324.9 141.5,322.6 142.4,320.5 143.8,318.7 145.6,317.3 147.7,316.4Z" fill="#ff0000"/>
<text transform="translate(194,335.4)" font-size="30.5" text-anchor="start" fill="#000" font-family='"Liberation Sans", sans-serif' >3 K</text>
<path d="M150,354.3 159.8,371.3 140.2,371.3Z" fill="#00ff00"/>
<text transform="translate(194,374.3)" font-size="30.5" text-anchor="start" fill="#000" font-family='"Liberation Sans", sans-serif' >5 K</text>
<path d="M150,412.2 159.8,395.2 140.2,395.2Z" fill="#0000ff"/>
<text transform="translate(194,413.2)" font-size="30.5" text-anchor="start" fill="#000" font-family='"Liberation Sans", sans-serif' >10 K</text>
<path d="M150,431.4 160.2,441.6 150,451.8 139.8,441.6Z" fill="#808000"/>
<text transform="translate(194,452.1)" font-size="30.5" text-anchor="start" fill="#000" font-family='"Liberation Sans", sans-serif' >15 K</text>
<path d="M140.5,480.5 157.5,470.6 157.5,490.4Z" fill="#00ffff"/>
<text transform="translate(194,491)" font-size="30.5" text-anchor="start" fill="#000" font-family='"Liberation Sans", sans-serif' >25 K</text>
<path d="M159.5,519.4 142.5,509.5 142.5,529.2Z" fill="#ff00ff"/>
<text transform="translate(194,529.9)" font-size="30.5" text-anchor="start" fill="#000" font-family='"Liberation Sans", sans-serif' >50 K</text>
<path d="M150,548.4 158.5,553.4 158.5,563.2 150,568.2 141.5,563.2 141.5,553.4Z" fill="#ff8000"/>
<text transform="translate(194,568.8)" font-size="30.5" text-anchor="start" fill="#000" font-family='"Liberation Sans", sans-serif' >100 K</text>
<path d="M150,587.3 152.5,594.4 160,594.6 154,599.1 156.2,606.4 150,602.1 143.8,606.4 146,599.1 140,594.6 147.5,594.4Z" fill="#800080"/>
<text transform="translate(194,607.7)" font-size="30.5" text-anchor="start" fill="#000" font-family='"Liberation Sans", sans-serif' >200 K</text>
<path d="M150,627.5 158.5,633.8 155.3,643.8 144.7,643.8 141.5,633.8Z" fill="#008000"/>
<text transform="translate(194,646.6)" font-size="30.5" text-anchor="start" fill="#000" font-family='"Liberation Sans", sans-serif' >300 K</text>
<text transform="translate(312,472.5)" font-size="34.5" text-anchor="start" fill="#000" font-family='"Liberation Sans", sans-serif' >Bi<tspan font-size="23.1" dy="9.7">2</tspan><tspan dy="-9.7">Se</tspan><tspan font-size="23.1" dy="9.7">3</tspan><tspan dy="-9.7"> on Si/SiO</tspan><tspan font-size="23.1" dy="9.7">2</tspan></text>
<polyline points="528.7,245 530.2,236 532,216 537,194 541.3,188 545.9,176.8 572.9,93.4 617.8,56 708.2,116 799.1,45.5" fill="none" stroke="#000" stroke-width="2.9" stroke-linejoin="round"/>
<line x1="799.1" y1="39.5" x2="799.1" y2="52" stroke="#000" stroke-width="1"/>
<line x1="795.6" y1="39.5" x2="802.6" y2="39.5" stroke="#000" stroke-width="1"/>
<line x1="795.6" y1="52" x2="802.6" y2="52" stroke="#000" stroke-width="1"/>
<path d="M528.7,237.5 535.5,249.5 521.9,249.5ZM530.2,228.5 537,240.5 523.4,240.5ZM532,208.5 538.8,220.5 525.2,220.5ZM537,186.5 543.8,198.5 530.2,198.5ZM541.3,180.5 548.1,192.5 534.5,192.5ZM545.9,169.3 552.7,181.3 539.1,181.3ZM572.9,85.9 579.7,97.9 566.1,97.9ZM617.8,48.5 624.6,60.5 611,60.5ZM708.2,108.5 715,120.5 701.4,120.5ZM799.1,38 805.9,50 792.3,50Z" fill="#000"/>
<polyline points="528.7,42.4 532,41.7 537,37.9 541.3,36.1 545.9,37.4 572.9,82.8 617.8,97.2 708.2,96 798.4,262.6" fill="none" stroke="#f04848" stroke-width="3.2" stroke-linejoin="round"/>
<path d="M523.5,37.1 534,37.1 534,47.6 523.5,47.6ZM526.8,36.5 537.2,36.5 537.2,47 526.8,47ZM531.8,32.6 542.2,32.6 542.2,43.1 531.8,43.1ZM536,30.9 546.5,30.9 546.5,41.4 536,41.4ZM540.6,32.1 551.1,32.1 551.1,42.6 540.6,42.6ZM567.6,77.5 578.1,77.5 578.1,88 567.6,88ZM612.5,92 623,92 623,102.5 612.5,102.5ZM703,90.8 713.5,90.8 713.5,101.2 703,101.2ZM793.1,257.4 803.6,257.4 803.6,267.9 793.1,267.9Z" fill="#ff0000"/>
<line x1="548" y1="157" x2="521.1" y2="157" stroke="#000" stroke-width="3"/>
<polygon points="507.5,157 524.5,152 524.5,162" fill="#000"/>
<line x1="768" y1="196.5" x2="798.4" y2="196.5" stroke="#ff0000" stroke-width="2.6"/>
<polygon points="812,196.5 795,191.5 795,201.5" fill="#ff0000"/>
<line x1="504.1" y1="6.4" x2="821.9" y2="6.4" stroke="#000" stroke-width="1.7"/>
<line x1="504.1" y1="282.3" x2="821.9" y2="282.3" stroke="#000" stroke-width="1.7"/>
<line x1="505" y1="5.6" x2="505" y2="283.2" stroke="#000" stroke-width="1.7"/>
<line x1="821" y1="5.6" x2="821" y2="283.2" stroke="#ff0000" stroke-width="1.7"/>
<line x1="527" y1="282.3" x2="527" y2="287.8" stroke="#000" stroke-width="1.7"/>
<line x1="527" y1="6.4" x2="527" y2="9.9" stroke="#000" stroke-width="1.5"/>
<text transform="translate(527,314.5)" font-size="27" text-anchor="middle" fill="#000" font-family='"Liberation Sans", sans-serif' >0</text>
<line x1="617.4" y1="282.3" x2="617.4" y2="287.8" stroke="#000" stroke-width="1.7"/>
<line x1="617.4" y1="6.4" x2="617.4" y2="9.9" stroke="#000" stroke-width="1.5"/>
<text transform="translate(617.4,314.5)" font-size="27" text-anchor="middle" fill="#000" font-family='"Liberation Sans", sans-serif' >100</text>
<line x1="707.8" y1="282.3" x2="707.8" y2="287.8" stroke="#000" stroke-width="1.7"/>
<line x1="707.8" y1="6.4" x2="707.8" y2="9.9" stroke="#000" stroke-width="1.5"/>
<text transform="translate(707.8,314.5)" font-size="27" text-anchor="middle" fill="#000" font-family='"Liberation Sans", sans-serif' >200</text>
<line x1="798.2" y1="282.3" x2="798.2" y2="287.8" stroke="#000" stroke-width="1.7"/>
<line x1="798.2" y1="6.4" x2="798.2" y2="9.9" stroke="#000" stroke-width="1.5"/>
<text transform="translate(798.2,314.5)" font-size="27" text-anchor="middle" fill="#000" font-family='"Liberation Sans", sans-serif' >300</text>
<line x1="572.2" y1="282.3" x2="572.2" y2="285.3" stroke="#000" stroke-width="1.5"/>
<line x1="572.2" y1="6.4" x2="572.2" y2="8.4" stroke="#000" stroke-width="1.3"/>
<line x1="662.6" y1="282.3" x2="662.6" y2="285.3" stroke="#000" stroke-width="1.5"/>
<line x1="662.6" y1="6.4" x2="662.6" y2="8.4" stroke="#000" stroke-width="1.3"/>
<line x1="753" y1="282.3" x2="753" y2="285.3" stroke="#000" stroke-width="1.5"/>
<line x1="753" y1="6.4" x2="753" y2="8.4" stroke="#000" stroke-width="1.3"/>
<line x1="501" y1="49.2" x2="505" y2="49.2" stroke="#000" stroke-width="1.7"/>
<text transform="translate(497,59.5)" font-size="29" text-anchor="end" fill="#000" font-family='"Liberation Sans", sans-serif' >1.62</text>
<line x1="501" y1="240" x2="505" y2="240" stroke="#000" stroke-width="1.7"/>
<text transform="translate(497,250.3)" font-size="29" text-anchor="end" fill="#000" font-family='"Liberation Sans", sans-serif' >1.53</text>
<line x1="502.5" y1="144.6" x2="505" y2="144.6" stroke="#000" stroke-width="1.5"/>
<line x1="821" y1="42.4" x2="826" y2="42.4" stroke="#ff0000" stroke-width="1.7"/>
<text transform="translate(830,54.4) scale(0.94,1.07)" font-size="32" text-anchor="start" fill="#ff0000" font-family='"Liberation Sans", sans-serif' >60</text>
<line x1="821" y1="135" x2="826" y2="135" stroke="#ff0000" stroke-width="1.7"/>
<text transform="translate(830,147) scale(0.94,1.07)" font-size="32" text-anchor="start" fill="#ff0000" font-family='"Liberation Sans", sans-serif' >55</text>
<line x1="821" y1="227.3" x2="826" y2="227.3" stroke="#ff0000" stroke-width="1.7"/>
<text transform="translate(830,239.3) scale(0.94,1.07)" font-size="32" text-anchor="start" fill="#ff0000" font-family='"Liberation Sans", sans-serif' >50</text>
<line x1="821" y1="89.6" x2="824" y2="89.6" stroke="#ff0000" stroke-width="1.5"/>
<line x1="821" y1="181.3" x2="824" y2="181.3" stroke="#ff0000" stroke-width="1.5"/>
<line x1="821" y1="274" x2="824" y2="274" stroke="#ff0000" stroke-width="1.5"/>
<text transform="translate(635,252.5)" font-size="28" text-anchor="start" fill="#000" font-family='"Liberation Sans", sans-serif' >T (K)</text>
<text transform="translate(432,135.5) rotate(-90) scale(1.07,1)" font-size="28" text-anchor="middle" fill="#000" font-family='"Liberation Sans", sans-serif' >n (10<tspan font-size="18.5" dy="-11.2">19</tspan><tspan dy="11.2"> cm</tspan><tspan font-size="18.5" dy="-11.2">-3</tspan><tspan dy="11.2">)</tspan></text>
<text transform="translate(893,162) rotate(-90)" font-size="30" text-anchor="middle" fill="#ff0000" font-family='"Liberation Sans", sans-serif' ><tspan font-family='"Liberation Serif", serif'>μ</tspan> (cm<tspan font-size="19.8" dy="-12">2</tspan><tspan dy="12">/Vs)</tspan></text>
<path d="M1061,28.9 1069,34.7 1065.9,44.1 1056.1,44.1 1053,34.7ZM1075.9,31.4 1083.9,37.2 1080.8,46.5 1071,46.5 1067.9,37.2ZM1090.8,32.6 1098.7,38.3 1095.7,47.7 1085.9,47.7 1082.8,38.3ZM1105.7,33.5 1113.6,39.3 1110.6,48.6 1100.8,48.6 1097.7,39.3ZM1120.6,34.7 1128.5,40.5 1125.5,49.8 1115.6,49.8 1112.6,40.5ZM1135.5,37 1143.4,42.8 1140.4,52.1 1130.5,52.1 1127.5,42.8ZM1150.3,38.3 1158.3,44.1 1155.3,53.5 1145.4,53.5 1142.4,44.1ZM1165.2,39.7 1173.2,45.4 1170.1,54.8 1160.3,54.8 1157.3,45.4ZM1180.1,42.4 1188.1,48.2 1185,57.5 1175.2,57.5 1172.2,48.2ZM1195,44.6 1203,50.4 1199.9,59.8 1190.1,59.8 1187,50.4ZM1209.9,46.6 1217.9,52.3 1214.8,61.7 1205,61.7 1201.9,52.3ZM1224.8,46.9 1232.8,52.7 1229.7,62.1 1219.9,62.1 1216.8,52.7ZM1239.7,48.2 1247.6,54 1244.6,63.3 1234.8,63.3 1231.7,54ZM1254.6,49.3 1262.5,55.1 1259.5,64.5 1249.7,64.5 1246.6,55.1ZM1269.5,49.7 1277.4,55.5 1274.4,64.8 1264.5,64.8 1261.5,55.5ZM1284.3,52.4 1292.3,58.2 1289.3,67.5 1279.4,67.5 1276.4,58.2ZM1299.2,54.6 1307.2,60.3 1304.2,69.7 1294.3,69.7 1291.3,60.3ZM1314.1,58 1322.1,63.8 1319,73.2 1309.2,73.2 1306.2,63.8ZM1329,59.2 1337,65 1333.9,74.3 1324.1,74.3 1321.1,65ZM1343.9,60.6 1351.9,66.4 1348.8,75.8 1339,75.8 1335.9,66.4ZM1358.8,63.7 1366.8,69.5 1363.7,78.8 1353.9,78.8 1350.8,69.5ZM1373.7,66 1381.7,71.7 1378.6,81.1 1368.8,81.1 1365.7,71.7ZM1388.6,69 1396.5,74.8 1393.5,84.2 1383.7,84.2 1380.6,74.8ZM1403.5,71.1 1411.4,76.9 1408.4,86.2 1398.6,86.2 1395.5,76.9ZM1418.4,73.8 1426.3,79.6 1423.3,88.9 1413.4,88.9 1410.4,79.6ZM1433.2,76.8 1441.2,82.6 1438.2,92 1428.3,92 1425.3,82.6ZM1448.1,79 1456.1,84.8 1453.1,94.2 1443.2,94.2 1440.2,84.8ZM1463,80.5 1471,86.3 1467.9,95.7 1458.1,95.7 1455.1,86.3ZM1477.9,81.4 1485.9,87.2 1482.8,96.5 1473,96.5 1470,87.2ZM1492.8,83.8 1500.8,89.6 1497.7,98.9 1487.9,98.9 1484.8,89.6ZM1507.7,85.7 1515.7,91.5 1512.6,100.8 1502.8,100.8 1499.7,91.5ZM1522.6,88 1530.6,93.8 1527.5,103.2 1517.7,103.2 1514.6,93.8ZM1537.5,89.8 1545.4,95.5 1542.4,104.9 1532.6,104.9 1529.5,95.5ZM1552.4,92.2 1560.3,98 1557.3,107.3 1547.5,107.3 1544.4,98ZM1567.3,93.5 1575.2,99.3 1572.2,108.7 1562.3,108.7 1559.3,99.3ZM1582.2,95.3 1590.1,101.1 1587.1,110.4 1577.2,110.4 1574.2,101.1ZM1597,97.5 1605,103.2 1602,112.6 1592.1,112.6 1589.1,103.2ZM1611.9,98.2 1619.9,104 1616.8,113.4 1607,113.4 1604,104ZM1626.8,100 1634.8,105.8 1631.7,115.2 1621.9,115.2 1618.9,105.8ZM1641.7,101.8 1649.7,107.6 1646.6,117 1636.8,117 1633.7,107.6ZM1656.6,105.4 1664.6,111.2 1661.5,120.5 1651.7,120.5 1648.6,111.2ZM1671.5,106.6 1679.5,112.4 1676.4,121.8 1666.6,121.8 1663.5,112.4ZM1686.4,108.7 1694.3,114.5 1691.3,123.9 1681.5,123.9 1678.4,114.5ZM1701.3,110.7 1709.2,116.5 1706.2,125.8 1696.4,125.8 1693.3,116.5ZM1716.2,112 1724.1,117.7 1721.1,127.1 1711.2,127.1 1708.2,117.7ZM1731.1,112.6 1739,118.4 1736,127.8 1726.1,127.8 1723.1,118.4ZM1745.9,115.7 1753.9,121.5 1750.9,130.8 1741,130.8 1738,121.5ZM1760.8,117.2 1768.8,123 1765.7,132.3 1755.9,132.3 1752.9,123ZM1775.7,119.6 1783.7,125.4 1780.6,134.8 1770.8,134.8 1767.8,125.4ZM1790.6,120.4 1798.6,126.2 1795.5,135.5 1785.7,135.5 1782.6,126.2Z" fill="#008000"/>
<path d="M1061,25.9 1062.9,31.4 1068.7,31.5 1064.1,35 1065.8,40.6 1061,37.3 1056.2,40.6 1057.9,35 1053.3,31.5 1059.1,31.4ZM1075.9,28.1 1077.8,33.6 1083.6,33.7 1079,37.2 1080.7,42.8 1075.9,39.4 1071.1,42.8 1072.8,37.2 1068.2,33.7 1074,33.6ZM1090.8,29.6 1092.7,35 1098.5,35.2 1093.9,38.7 1095.6,44.2 1090.8,40.9 1086,44.2 1087.7,38.7 1083.1,35.2 1088.9,35ZM1105.7,30.9 1107.6,36.4 1113.4,36.5 1108.8,40 1110.4,45.6 1105.7,42.3 1100.9,45.6 1102.6,40 1097.9,36.5 1103.8,36.4ZM1120.6,32.4 1122.5,37.9 1128.3,38 1123.6,41.5 1125.3,47.1 1120.6,43.7 1115.8,47.1 1117.5,41.5 1112.8,38 1118.7,37.9ZM1135.5,34.5 1137.4,40 1143.2,40.1 1138.5,43.6 1140.2,49.2 1135.5,45.9 1130.7,49.2 1132.4,43.6 1127.7,40.1 1133.5,40ZM1150.3,36.1 1152.2,41.6 1158.1,41.7 1153.4,45.2 1155.1,50.7 1150.3,47.4 1145.6,50.7 1147.3,45.2 1142.6,41.7 1148.4,41.6ZM1165.2,37.6 1167.1,43.1 1173,43.2 1168.3,46.7 1170,52.3 1165.2,49 1160.5,52.3 1162.1,46.7 1157.5,43.2 1163.3,43.1ZM1180.1,40 1182,45.5 1187.8,45.6 1183.2,49.1 1184.9,54.7 1180.1,51.4 1175.3,54.7 1177,49.1 1172.4,45.6 1178.2,45.5ZM1195,42.1 1196.9,47.6 1202.7,47.7 1198.1,51.2 1199.8,56.8 1195,53.4 1190.2,56.8 1191.9,51.2 1187.3,47.7 1193.1,47.6ZM1209.9,44.2 1211.8,49.7 1217.6,49.8 1213,53.3 1214.7,58.9 1209.9,55.6 1205.1,58.9 1206.8,53.3 1202.2,49.8 1208,49.7ZM1224.8,45.6 1226.7,51.1 1232.5,51.3 1227.9,54.8 1229.6,60.3 1224.8,57 1220,60.3 1221.7,54.8 1217.1,51.3 1222.9,51.1ZM1239.7,47.7 1241.6,53.1 1247.4,53.3 1242.8,56.8 1244.5,62.3 1239.7,59 1234.9,62.3 1236.6,56.8 1232,53.3 1237.8,53.1ZM1254.6,49.6 1256.5,55.1 1262.3,55.2 1257.7,58.7 1259.3,64.3 1254.6,60.9 1249.8,64.3 1251.5,58.7 1246.8,55.2 1252.7,55.1ZM1269.5,50.9 1271.4,56.4 1277.2,56.5 1272.5,60 1274.2,65.6 1269.5,62.3 1264.7,65.6 1266.4,60 1261.7,56.5 1267.6,56.4ZM1284.3,53.3 1286.3,58.8 1292.1,58.9 1287.4,62.4 1289.1,68 1284.3,64.7 1279.6,68 1281.3,62.4 1276.6,58.9 1282.4,58.8ZM1299.2,55.4 1301.1,60.9 1307,61 1302.3,64.5 1304,70.1 1299.2,66.8 1294.5,70.1 1296.2,64.5 1291.5,61 1297.3,60.9ZM1314.1,58.6 1316,64.1 1321.9,64.2 1317.2,67.8 1318.9,73.3 1314.1,70 1309.4,73.3 1311,67.8 1306.4,64.2 1312.2,64.1ZM1329,60.8 1330.9,66.3 1336.7,66.4 1332.1,69.9 1333.8,75.5 1329,72.1 1324.2,75.5 1325.9,69.9 1321.3,66.4 1327.1,66.3ZM1343.9,63.2 1345.8,68.7 1351.6,68.8 1347,72.3 1348.7,77.8 1343.9,74.5 1339.1,77.8 1340.8,72.3 1336.2,68.8 1342,68.7ZM1358.8,66.3 1360.7,71.8 1366.5,72 1361.9,75.5 1363.6,81 1358.8,77.7 1354,81 1355.7,75.5 1351.1,72 1356.9,71.8ZM1373.7,68.9 1375.6,74.4 1381.4,74.5 1376.8,78 1378.5,83.6 1373.7,80.3 1368.9,83.6 1370.6,78 1366,74.5 1371.8,74.4ZM1388.6,71.7 1390.5,77.2 1396.3,77.3 1391.7,80.9 1393.4,86.4 1388.6,83.1 1383.8,86.4 1385.5,80.9 1380.9,77.3 1386.7,77.2ZM1403.5,73.7 1405.4,79.2 1411.2,79.4 1406.6,82.9 1408.2,88.4 1403.5,85.1 1398.7,88.4 1400.4,82.9 1395.7,79.4 1401.6,79.2ZM1418.4,75.9 1420.3,81.4 1426.1,81.5 1421.4,85 1423.1,90.6 1418.4,87.2 1413.6,90.6 1415.3,85 1410.6,81.5 1416.5,81.4ZM1433.2,78.1 1435.2,83.6 1441,83.7 1436.3,87.2 1438,92.8 1433.2,89.4 1428.5,92.8 1430.2,87.2 1425.5,83.7 1431.3,83.6ZM1448.1,80 1450,85.5 1455.9,85.6 1451.2,89.1 1452.9,94.7 1448.1,91.3 1443.4,94.7 1445.1,89.1 1440.4,85.6 1446.2,85.5ZM1463,81.6 1464.9,87.1 1470.8,87.3 1466.1,90.8 1467.8,96.3 1463,93 1458.3,96.3 1459.9,90.8 1455.3,87.3 1461.1,87.1ZM1477.9,82.9 1479.8,88.4 1485.6,88.5 1481,92 1482.7,97.6 1477.9,94.3 1473.1,97.6 1474.8,92 1470.2,88.5 1476,88.4ZM1492.8,85.1 1494.7,90.6 1500.5,90.7 1495.9,94.2 1497.6,99.8 1492.8,96.5 1488,99.8 1489.7,94.2 1485.1,90.7 1490.9,90.6ZM1507.7,87 1509.6,92.5 1515.4,92.6 1510.8,96.1 1512.5,101.7 1507.7,98.4 1502.9,101.7 1504.6,96.1 1500,92.6 1505.8,92.5ZM1522.6,89.1 1524.5,94.6 1530.3,94.7 1525.7,98.2 1527.4,103.8 1522.6,100.5 1517.8,103.8 1519.5,98.2 1514.9,94.7 1520.7,94.6ZM1537.5,90.9 1539.4,96.4 1545.2,96.5 1540.6,100 1542.3,105.6 1537.5,102.3 1532.7,105.6 1534.4,100 1529.8,96.5 1535.6,96.4ZM1552.4,93.1 1554.3,98.6 1560.1,98.7 1555.5,102.2 1557.1,107.8 1552.4,104.5 1547.6,107.8 1549.3,102.2 1544.6,98.7 1550.5,98.6ZM1567.3,94.7 1569.2,100.2 1575,100.3 1570.3,103.8 1572,109.4 1567.3,106 1562.5,109.4 1564.2,103.8 1559.5,100.3 1565.4,100.2ZM1582.2,96.5 1584.1,102 1589.9,102.1 1585.2,105.6 1586.9,111.2 1582.2,107.9 1577.4,111.2 1579.1,105.6 1574.4,102.1 1580.2,102ZM1597,98.5 1598.9,104 1604.8,104.1 1600.1,107.6 1601.8,113.2 1597,109.9 1592.3,113.2 1594,107.6 1589.3,104.1 1595.1,104ZM1611.9,99.8 1613.8,105.3 1619.7,105.4 1615,108.9 1616.7,114.5 1611.9,111.1 1607.2,114.5 1608.8,108.9 1604.2,105.4 1610,105.3ZM1626.8,101.6 1628.7,107.1 1634.5,107.2 1629.9,110.7 1631.6,116.3 1626.8,113 1622,116.3 1623.7,110.7 1619.1,107.2 1624.9,107.1ZM1641.7,103.4 1643.6,108.9 1649.4,109 1644.8,112.5 1646.5,118.1 1641.7,114.8 1636.9,118.1 1638.6,112.5 1634,109 1639.8,108.9ZM1656.6,106.2 1658.5,111.7 1664.3,111.9 1659.7,115.4 1661.4,120.9 1656.6,117.6 1651.8,120.9 1653.5,115.4 1648.9,111.9 1654.7,111.7ZM1671.5,107.8 1673.4,113.3 1679.2,113.4 1674.6,116.9 1676.3,122.4 1671.5,119.1 1666.7,122.4 1668.4,116.9 1663.8,113.4 1669.6,113.3ZM1686.4,109.8 1688.3,115.2 1694.1,115.4 1689.5,118.9 1691.2,124.4 1686.4,121.1 1681.6,124.4 1683.3,118.9 1678.7,115.4 1684.5,115.2ZM1701.3,111.7 1703.2,117.2 1709,117.3 1704.4,120.8 1706,126.4 1701.3,123 1696.5,126.4 1698.2,120.8 1693.5,117.3 1699.4,117.2ZM1716.2,113.2 1718.1,118.7 1723.9,118.8 1719.2,122.3 1720.9,127.9 1716.2,124.6 1711.4,127.9 1713.1,122.3 1708.4,118.8 1714.3,118.7ZM1731.1,114.4 1733,119.9 1738.8,120 1734.1,123.5 1735.8,129.1 1731.1,125.8 1726.3,129.1 1728,123.5 1723.3,120 1729.1,119.9ZM1745.9,116.9 1747.8,122.4 1753.7,122.5 1749,126.1 1750.7,131.6 1745.9,128.3 1741.2,131.6 1742.9,126.1 1738.2,122.5 1744,122.4ZM1760.8,118.6 1762.7,124.1 1768.6,124.2 1763.9,127.7 1765.6,133.3 1760.8,130 1756.1,133.3 1757.7,127.7 1753.1,124.2 1758.9,124.1ZM1775.7,120.8 1777.6,126.3 1783.4,126.4 1778.8,129.9 1780.5,135.5 1775.7,132.2 1770.9,135.5 1772.6,129.9 1768,126.4 1773.8,126.3ZM1790.6,122 1792.5,127.5 1798.3,127.6 1793.7,131.2 1795.4,136.7 1790.6,133.4 1785.8,136.7 1787.5,131.2 1782.9,127.6 1788.7,127.5Z" fill="#800080"/>
<path d="M1061,37.2 1068.5,41.5 1068.5,50.2 1061,54.6 1053.5,50.2 1053.5,41.5ZM1075.9,39.3 1083.4,43.6 1083.4,52.3 1075.9,56.7 1068.4,52.3 1068.4,43.6ZM1090.8,40.9 1098.3,45.2 1098.3,53.9 1090.8,58.3 1083.2,53.9 1083.2,45.2ZM1105.7,42.3 1113.2,46.7 1113.2,55.4 1105.7,59.7 1098.1,55.4 1098.1,46.7ZM1120.6,43.9 1128.1,48.3 1128.1,57 1120.6,61.3 1113,57 1113,48.3ZM1135.5,46 1143,50.3 1143,59 1135.5,63.4 1127.9,59 1127.9,50.3ZM1150.3,47.6 1157.9,52 1157.9,60.7 1150.3,65 1142.8,60.7 1142.8,52ZM1165.2,49.3 1172.8,53.6 1172.8,62.3 1165.2,66.7 1157.7,62.3 1157.7,53.6ZM1180.1,51.5 1187.7,55.8 1187.7,64.5 1180.1,68.9 1172.6,64.5 1172.6,55.8ZM1195,53.5 1202.5,57.9 1202.5,66.6 1195,70.9 1187.5,66.6 1187.5,57.9ZM1209.9,55.6 1217.4,60 1217.4,68.7 1209.9,73 1202.4,68.7 1202.4,60ZM1224.8,57.1 1232.3,61.5 1232.3,70.2 1224.8,74.5 1217.3,70.2 1217.3,61.5ZM1239.7,59.1 1247.2,63.5 1247.2,72.2 1239.7,76.5 1232.1,72.2 1232.1,63.5ZM1254.6,61 1262.1,65.4 1262.1,74.1 1254.6,78.4 1247,74.1 1247,65.4ZM1269.5,62.5 1277,66.8 1277,75.5 1269.5,79.9 1261.9,75.5 1261.9,66.8ZM1284.3,64.7 1291.9,69.1 1291.9,77.8 1284.3,82.1 1276.8,77.8 1276.8,69.1ZM1299.2,66.8 1306.8,71.1 1306.8,79.8 1299.2,84.2 1291.7,79.8 1291.7,71.1ZM1314.1,69.3 1321.7,73.7 1321.7,82.4 1314.1,86.7 1306.6,82.4 1306.6,73.7ZM1329,70.9 1336.6,75.2 1336.6,83.9 1329,88.3 1321.5,83.9 1321.5,75.2ZM1343.9,72.5 1351.4,76.8 1351.4,85.5 1343.9,89.9 1336.4,85.5 1336.4,76.8ZM1358.8,74.6 1366.3,79 1366.3,87.7 1358.8,92 1351.3,87.7 1351.3,79ZM1373.7,76.3 1381.2,80.7 1381.2,89.4 1373.7,93.7 1366.2,89.4 1366.2,80.7ZM1388.6,78.3 1396.1,82.7 1396.1,91.4 1388.6,95.7 1381,91.4 1381,82.7ZM1403.5,79.9 1411,84.2 1411,92.9 1403.5,97.3 1395.9,92.9 1395.9,84.2ZM1418.4,81.8 1425.9,86.1 1425.9,94.8 1418.4,99.2 1410.8,94.8 1410.8,86.1ZM1433.2,83.9 1440.8,88.2 1440.8,96.9 1433.2,101.3 1425.7,96.9 1425.7,88.2ZM1448.1,85.8 1455.7,90.1 1455.7,98.8 1448.1,103.2 1440.6,98.8 1440.6,90.1ZM1463,87.5 1470.6,91.8 1470.6,100.5 1463,104.9 1455.5,100.5 1455.5,91.8ZM1477.9,88.9 1485.5,93.3 1485.5,102 1477.9,106.3 1470.4,102 1470.4,93.3ZM1492.8,91 1500.3,95.4 1500.3,104.1 1492.8,108.4 1485.3,104.1 1485.3,95.4ZM1507.7,92.9 1515.2,97.2 1515.2,105.9 1507.7,110.3 1500.2,105.9 1500.2,97.2ZM1522.6,95 1530.1,99.3 1530.1,108 1522.6,112.4 1515.1,108 1515.1,99.3ZM1537.5,96.8 1545,101.1 1545,109.8 1537.5,114.2 1529.9,109.8 1529.9,101.1ZM1552.4,98.9 1559.9,103.2 1559.9,111.9 1552.4,116.3 1544.8,111.9 1544.8,103.2ZM1567.3,100.5 1574.8,104.9 1574.8,113.6 1567.3,117.9 1559.7,113.6 1559.7,104.9ZM1582.2,102.4 1589.7,106.7 1589.7,115.4 1582.2,119.8 1574.6,115.4 1574.6,106.7ZM1597,104.4 1604.6,108.7 1604.6,117.4 1597,121.8 1589.5,117.4 1589.5,108.7ZM1611.9,105.8 1619.5,110.1 1619.5,118.8 1611.9,123.2 1604.4,118.8 1604.4,110.1ZM1626.8,107.6 1634.4,111.9 1634.4,120.6 1626.8,125 1619.3,120.6 1619.3,111.9ZM1641.7,109.4 1649.2,113.8 1649.2,122.5 1641.7,126.8 1634.2,122.5 1634.2,113.8ZM1656.6,112 1664.1,116.4 1664.1,125.1 1656.6,129.4 1649.1,125.1 1649.1,116.4ZM1671.5,113.6 1679,118 1679,126.7 1671.5,131 1664,126.7 1664,118ZM1686.4,115.6 1693.9,119.9 1693.9,128.6 1686.4,133 1678.8,128.6 1678.8,119.9ZM1701.3,117.5 1708.8,121.8 1708.8,130.5 1701.3,134.9 1693.7,130.5 1693.7,121.8ZM1716.2,119.1 1723.7,123.5 1723.7,132.2 1716.2,136.5 1708.6,132.2 1708.6,123.5ZM1731.1,120.5 1738.6,124.8 1738.6,133.5 1731.1,137.9 1723.5,133.5 1723.5,124.8ZM1745.9,122.8 1753.5,127.2 1753.5,135.9 1745.9,140.2 1738.4,135.9 1738.4,127.2ZM1760.8,124.5 1768.4,128.9 1768.4,137.6 1760.8,141.9 1753.3,137.6 1753.3,128.9ZM1775.7,126.7 1783.3,131 1783.3,139.7 1775.7,144.1 1768.2,139.7 1768.2,131ZM1790.6,128.1 1798.1,132.4 1798.1,141.1 1790.6,145.5 1783.1,141.1 1783.1,132.4Z" fill="#f08030"/>
<path d="M1069.4,42 1054.4,33.5 1054.4,50.5ZM1084.3,51.2 1069.3,42.7 1069.3,59.7ZM1099.2,60.5 1084.2,52 1084.2,69ZM1114.1,69.7 1099.1,61.2 1099.1,78.2ZM1129,79 1114,70.5 1114,87.5ZM1143.9,88.2 1128.9,79.7 1128.9,96.7ZM1158.7,97.4 1143.7,88.9 1143.7,105.9ZM1173.6,106.7 1158.6,98.2 1158.6,115.2ZM1188.5,115.9 1173.5,107.4 1173.5,124.4ZM1203.4,125.6 1188.4,117.1 1188.4,134.1ZM1218.3,135.4 1203.3,126.9 1203.3,143.9ZM1233.2,145.2 1218.2,136.7 1218.2,153.7ZM1248.1,155 1233.1,146.5 1233.1,163.5ZM1263,164.8 1248,156.3 1248,173.3ZM1277.9,174.6 1262.9,166.1 1262.9,183.1ZM1292.8,184.4 1277.8,175.9 1277.8,192.9ZM1307.6,194.2 1292.6,185.7 1292.6,202.7ZM1322.5,204 1307.5,195.5 1307.5,212.5ZM1337.4,213.8 1322.4,205.3 1322.4,222.3ZM1352.3,223.6 1337.3,215.1 1337.3,232.1ZM1367.2,233.4 1352.2,224.9 1352.2,241.9ZM1382.1,243.2 1367.1,234.7 1367.1,251.7ZM1397,252.7 1382,244.2 1382,261.2ZM1411.9,261.7 1396.9,253.2 1396.9,270.2ZM1426.8,270.8 1411.8,262.3 1411.8,279.3ZM1441.7,279.8 1426.7,271.3 1426.7,288.3ZM1456.5,288.9 1441.5,280.4 1441.5,297.4ZM1471.4,297.9 1456.4,289.4 1456.4,306.4ZM1486.3,307 1471.3,298.5 1471.3,315.5ZM1501.2,316 1486.2,307.5 1486.2,324.5ZM1516.1,325.1 1501.1,316.6 1501.1,333.6ZM1531,334.1 1516,325.6 1516,342.6ZM1545.9,343.6 1530.9,335.1 1530.9,352.1ZM1560.8,353 1545.8,344.5 1545.8,361.5ZM1575.7,362.5 1560.7,354 1560.7,371ZM1590.6,371.9 1575.6,363.4 1575.6,380.4ZM1605.4,381.4 1590.4,372.9 1590.4,389.9ZM1620.3,390.9 1605.3,382.4 1605.3,399.4ZM1635.2,400.3 1620.2,391.8 1620.2,408.8ZM1650.1,409.8 1635.1,401.3 1635.1,418.3ZM1665,419.2 1650,410.7 1650,427.7ZM1679.9,428.7 1664.9,420.2 1664.9,437.2ZM1694.8,438.2 1679.8,429.7 1679.8,446.7ZM1709.7,447.6 1694.7,439.1 1694.7,456.1ZM1724.6,457.1 1709.6,448.6 1709.6,465.6ZM1739.5,466.5 1724.5,458 1724.5,475ZM1754.3,476 1739.3,467.5 1739.3,484.5ZM1769.2,485.4 1754.2,476.9 1754.2,493.9ZM1784.1,494.9 1769.1,486.4 1769.1,503.4ZM1799,504.4 1784,495.9 1784,512.9Z" fill="#ff00ff"/>
<path d="M1050.6,52.8 1065.6,44.3 1065.6,61.3ZM1066.6,65.6 1081.6,57.1 1081.6,74.1ZM1080.8,75.6 1095.8,67.1 1095.8,84.1ZM1097.3,65 1112.3,56.5 1112.3,73.5ZM1112.2,78.4 1127.2,69.9 1127.2,86.9ZM1127,88.3 1142,79.8 1142,96.8ZM1141.9,96.1 1156.9,87.6 1156.9,104.6ZM1156.8,108.3 1171.8,99.8 1171.8,116.8ZM1171.7,117.5 1186.7,109 1186.7,126ZM1186.6,131.1 1201.6,122.6 1201.6,139.6ZM1201.5,141 1216.5,132.5 1216.5,149.5ZM1216.4,154.4 1231.4,145.9 1231.4,162.9ZM1231.3,163.6 1246.3,155.1 1246.3,172.1ZM1246.2,172.5 1261.2,164 1261.2,181ZM1261.1,181.8 1276.1,173.3 1276.1,190.3ZM1275.9,193.6 1290.9,185.1 1290.9,202.1ZM1290.8,206.2 1305.8,197.7 1305.8,214.7ZM1305.7,219.2 1320.7,210.7 1320.7,227.7ZM1320.6,229.8 1335.6,221.3 1335.6,238.3ZM1335.5,239 1350.5,230.5 1350.5,247.5ZM1350.4,251.1 1365.4,242.6 1365.4,259.6ZM1365.3,259.7 1380.3,251.2 1380.3,268.2ZM1380.2,272.4 1395.2,263.9 1395.2,280.9ZM1395.1,282.4 1410.1,273.9 1410.1,290.9ZM1410,296.3 1425,287.8 1425,304.8ZM1424.8,308 1439.8,299.5 1439.8,316.5ZM1439.7,318.4 1454.7,309.9 1454.7,326.9ZM1454.6,327 1469.6,318.5 1469.6,335.5ZM1469.5,339.2 1484.5,330.7 1484.5,347.7ZM1484.4,350.5 1499.4,342 1499.4,359ZM1499.3,360.3 1514.3,351.8 1514.3,368.8ZM1514.2,370.6 1529.2,362.1 1529.2,379.1ZM1529.1,383.4 1544.1,374.9 1544.1,391.9ZM1544,392.3 1559,383.8 1559,400.8ZM1558.9,403.2 1573.9,394.7 1573.9,411.7ZM1573.8,415.1 1588.8,406.6 1588.8,423.6ZM1588.6,421.9 1603.6,413.4 1603.6,430.4ZM1603.5,435.3 1618.5,426.8 1618.5,443.8ZM1618.4,446 1633.4,437.5 1633.4,454.5ZM1633.3,453.9 1648.3,445.4 1648.3,462.4ZM1648.2,462.5 1663.2,454 1663.2,471ZM1663.1,471.6 1678.1,463.1 1678.1,480.1ZM1678,484.4 1693,475.9 1693,492.9ZM1692.9,490.7 1707.9,482.2 1707.9,499.2ZM1707.8,504.2 1722.8,495.7 1722.8,512.7ZM1722.7,514.9 1737.7,506.4 1737.7,523.4ZM1737.5,524.1 1752.5,515.6 1752.5,532.6ZM1752.4,534.1 1767.4,525.6 1767.4,542.6ZM1767.3,544.4 1782.3,535.9 1782.3,552.9ZM1782.2,554.8 1797.2,546.3 1797.2,563.3Z" fill="#00ffff"/>
<path d="M1061,48.4 1069.2,33.4 1052.8,33.4ZM1075.9,65.9 1084.1,50.9 1067.6,50.9ZM1090.8,72.2 1099,57.2 1082.5,57.2ZM1105.7,78.7 1113.9,63.7 1097.4,63.7ZM1120.6,92.8 1128.8,77.8 1112.3,77.8ZM1135.5,102.3 1143.7,87.3 1127.2,87.3ZM1150.3,109 1158.6,94 1142.1,94ZM1165.2,121.7 1173.5,106.7 1157,106.7ZM1180.1,139.8 1188.4,124.8 1171.9,124.8ZM1195,149.7 1203.3,134.7 1186.8,134.7ZM1209.9,161.6 1218.2,146.6 1201.7,146.6ZM1224.8,177.3 1233,162.3 1216.5,162.3ZM1239.7,183.6 1247.9,168.6 1231.4,168.6ZM1254.6,196.4 1262.8,181.4 1246.3,181.4ZM1269.5,200 1277.7,185 1261.2,185ZM1284.3,219.7 1292.6,204.7 1276.1,204.7ZM1299.2,231.3 1307.5,216.3 1291,216.3ZM1314.1,237.5 1322.4,222.5 1305.9,222.5ZM1329,248.7 1337.3,233.7 1320.8,233.7ZM1343.9,261.7 1352.2,246.7 1335.7,246.7ZM1358.8,271.3 1367,256.3 1350.5,256.3ZM1373.7,284.3 1381.9,269.3 1365.4,269.3ZM1388.6,294.8 1396.8,279.8 1380.3,279.8ZM1403.5,302.1 1411.7,287.1 1395.2,287.1ZM1418.4,316 1426.6,301 1410.1,301ZM1433.2,327.9 1441.5,312.9 1425,312.9ZM1448.1,341.4 1456.4,326.4 1439.9,326.4ZM1463,352 1471.3,337 1454.8,337ZM1477.9,364.1 1486.2,349.1 1469.7,349.1ZM1492.8,377.8 1501.1,362.8 1484.6,362.8ZM1507.7,391.6 1516,376.6 1499.5,376.6ZM1522.6,402.6 1530.8,387.6 1514.3,387.6ZM1537.5,416.7 1545.7,401.7 1529.2,401.7ZM1552.4,429 1560.6,414 1544.1,414ZM1567.3,436.3 1575.5,421.3 1559,421.3ZM1582.2,448.9 1590.4,433.9 1573.9,433.9ZM1597,465.5 1605.3,450.5 1588.8,450.5ZM1611.9,479.6 1620.2,464.6 1603.7,464.6ZM1626.8,493.2 1635.1,478.2 1618.6,478.2ZM1641.7,500.2 1650,485.2 1633.5,485.2ZM1656.6,514.9 1664.8,499.9 1648.3,499.9ZM1671.5,529 1679.7,514 1663.2,514ZM1686.4,541.2 1694.6,526.2 1678.1,526.2ZM1701.3,554.9 1709.5,539.9 1693,539.9ZM1716.2,569.2 1724.4,554.2 1707.9,554.2ZM1731.1,582.8 1739.3,567.8 1722.8,567.8ZM1745.9,593.6 1754.2,578.6 1737.7,578.6ZM1760.8,606.5 1769.1,591.5 1752.6,591.5ZM1775.7,622.1 1784,607.1 1767.5,607.1ZM1790.6,632.4 1798.9,617.4 1782.4,617.4Z" fill="#0000ff"/>
<path d="M1061,33.2 1069.2,48.9 1052.8,48.9ZM1075.9,46.9 1084.1,62.6 1067.6,62.6ZM1090.8,51.2 1099,66.9 1082.5,66.9ZM1105.7,60.5 1113.9,76.2 1097.4,76.2ZM1120.6,73.3 1128.8,89 1112.3,89ZM1135.5,84.8 1143.7,100.5 1127.2,100.5ZM1150.3,88.3 1158.6,104 1142.1,104ZM1165.2,100.5 1173.5,116.2 1157,116.2ZM1180.1,116.9 1188.4,132.6 1171.9,132.6ZM1195,128.3 1203.3,144 1186.8,144ZM1209.9,139.8 1218.2,155.5 1201.7,155.5ZM1224.8,156.2 1233,171.9 1216.5,171.9ZM1239.7,163.3 1247.9,179 1231.4,179ZM1254.6,175.5 1262.8,191.2 1246.3,191.2ZM1269.5,180.5 1277.7,196.2 1261.2,196.2ZM1284.3,199.8 1292.6,215.5 1276.1,215.5ZM1299.2,209.9 1307.5,225.6 1291,225.6ZM1314.1,216.1 1322.4,231.8 1305.9,231.8ZM1329,227.9 1337.3,243.6 1320.8,243.6ZM1343.9,237.9 1352.2,253.6 1335.7,253.6ZM1358.8,248.8 1367,264.5 1350.5,264.5ZM1373.7,263.1 1381.9,278.8 1365.4,278.8ZM1388.6,273.4 1396.8,289.1 1380.3,289.1ZM1403.5,281.5 1411.7,297.2 1395.2,297.2ZM1418.4,295.5 1426.6,311.2 1410.1,311.2ZM1433.2,307.6 1441.5,323.3 1425,323.3ZM1448.1,318.1 1456.4,333.8 1439.9,333.8ZM1463,329.7 1471.3,345.4 1454.8,345.4ZM1477.9,342.1 1486.2,357.8 1469.7,357.8ZM1492.8,355.4 1501.1,371.1 1484.6,371.1ZM1507.7,367.3 1516,383 1499.5,383ZM1522.6,380.1 1530.8,395.8 1514.3,395.8ZM1537.5,395.7 1545.7,411.4 1529.2,411.4ZM1552.4,404.8 1560.6,420.5 1544.1,420.5ZM1567.3,415.5 1575.5,431.2 1559,431.2ZM1582.2,428.3 1590.4,444 1573.9,444ZM1597,443.8 1605.3,459.5 1588.8,459.5ZM1611.9,455.3 1620.2,471 1603.7,471ZM1626.8,471.7 1635.1,487.4 1618.6,487.4ZM1641.7,481.9 1650,497.6 1633.5,497.6ZM1656.6,494.3 1664.8,510 1648.3,510ZM1671.5,508.8 1679.7,524.5 1663.2,524.5ZM1686.4,521 1694.6,536.7 1678.1,536.7ZM1701.3,533.6 1709.5,549.3 1693,549.3ZM1716.2,547.6 1724.4,563.3 1707.9,563.3ZM1731.1,561.1 1739.3,576.8 1722.8,576.8ZM1745.9,572.7 1754.2,588.4 1737.7,588.4ZM1760.8,583.9 1769.1,599.6 1752.6,599.6ZM1775.7,598.3 1784,614 1767.5,614ZM1790.6,609.9 1798.9,625.6 1782.4,625.6Z" fill="#00ff00"/>
<path d="M1053.8,24.2 1068.2,24.2 1068.2,38.5 1053.8,38.5ZM1068.7,39.2 1083,39.2 1083,53.5 1068.7,53.5ZM1083.6,61.4 1097.9,61.4 1097.9,75.7 1083.6,75.7ZM1098.5,72 1112.8,72 1112.8,86.4 1098.5,86.4ZM1113.4,85.6 1127.7,85.6 1127.7,100 1113.4,100ZM1128.3,93.4 1142.6,93.4 1142.6,107.8 1128.3,107.8ZM1143.2,109.1 1157.5,109.1 1157.5,123.5 1143.2,123.5ZM1158.1,117.8 1172.4,117.8 1172.4,132.1 1158.1,132.1ZM1173,134.8 1187.3,134.8 1187.3,149.2 1173,149.2ZM1187.9,144.8 1202.2,144.8 1202.2,159.2 1187.9,159.2ZM1202.8,154.8 1217.1,154.8 1217.1,169.2 1202.8,169.2ZM1217.6,164.8 1231.9,164.8 1231.9,179.2 1217.6,179.2ZM1232.5,174 1246.8,174 1246.8,188.3 1232.5,188.3ZM1247.4,194 1261.7,194 1261.7,208.3 1247.4,208.3ZM1262.3,201.2 1276.6,201.2 1276.6,215.5 1262.3,215.5ZM1277.2,201.8 1291.5,201.8 1291.5,216.2 1277.2,216.2ZM1292.1,223.8 1306.4,223.8 1306.4,238.2 1292.1,238.2ZM1307,237.8 1321.3,237.8 1321.3,252.2 1307,252.2ZM1321.9,250.5 1336.2,250.5 1336.2,264.8 1321.9,264.8ZM1336.8,264.4 1351.1,264.4 1351.1,278.6 1336.8,278.6ZM1351.6,265.6 1366,265.6 1366,279.8 1351.6,279.8ZM1366.5,274.5 1380.8,274.5 1380.8,288.8 1366.5,288.8ZM1381.4,293.4 1395.7,293.4 1395.7,307.6 1381.4,307.6ZM1396.3,296.2 1410.6,296.2 1410.6,310.5 1396.3,310.5ZM1411.2,310.9 1425.5,310.9 1425.5,325.2 1411.2,325.2ZM1426.1,325.5 1440.4,325.5 1440.4,339.8 1426.1,339.8ZM1441,340.9 1455.3,340.9 1455.3,355.2 1441,355.2ZM1455.9,350 1470.2,350 1470.2,364.2 1455.9,364.2ZM1470.8,370 1485.1,370 1485.1,384.2 1470.8,384.2ZM1485.7,382.8 1500,382.8 1500,397 1485.7,397ZM1500.5,392.2 1514.9,392.2 1514.9,406.4 1500.5,406.4ZM1515.4,405.7 1529.7,405.7 1529.7,419.9 1515.4,419.9ZM1530.3,413.7 1544.6,413.7 1544.6,427.9 1530.3,427.9ZM1545.2,424.8 1559.5,424.8 1559.5,439 1545.2,439ZM1560.1,438.5 1574.4,438.5 1574.4,452.8 1560.1,452.8ZM1575,454.2 1589.3,454.2 1589.3,468.4 1575,468.4ZM1589.9,452.8 1604.2,452.8 1604.2,467 1589.9,467ZM1604.8,469.9 1619.1,469.9 1619.1,484.1 1604.8,484.1ZM1619.7,477.9 1634,477.9 1634,492.1 1619.7,492.1ZM1634.6,491.2 1648.9,491.2 1648.9,505.5 1634.6,505.5ZM1649.4,499.8 1663.8,499.8 1663.8,514 1649.4,514ZM1664.3,511.2 1678.6,511.2 1678.6,525.5 1664.3,525.5ZM1679.2,521.1 1693.5,521.1 1693.5,535.4 1679.2,535.4ZM1694.1,535.5 1708.4,535.5 1708.4,549.8 1694.1,549.8ZM1709,549.8 1723.3,549.8 1723.3,564 1709,564ZM1723.9,562.1 1738.2,562.1 1738.2,576.4 1723.9,576.4ZM1738.8,561.1 1753.1,561.1 1753.1,575.4 1738.8,575.4ZM1753.7,578.9 1768,578.9 1768,593.1 1753.7,593.1ZM1768.6,594 1782.9,594 1782.9,608.2 1768.6,608.2ZM1783.5,614 1797.8,614 1797.8,628.2 1783.5,628.2Z" fill="#000"/>
<line x1="1049.3" y1="9" x2="1819.7" y2="9" stroke="#000" stroke-width="3.4"/>
<line x1="1049.3" y1="655" x2="1819.7" y2="655" stroke="#000" stroke-width="3.4"/>
<line x1="1051" y1="7.3" x2="1051" y2="656.7" stroke="#000" stroke-width="3.4"/>
<line x1="1818" y1="7.3" x2="1818" y2="656.7" stroke="#000" stroke-width="3.4"/>
<line x1="1040" y1="42.5" x2="1051" y2="42.5" stroke="#000" stroke-width="3.4"/>
<line x1="1040" y1="293" x2="1051" y2="293" stroke="#000" stroke-width="3.4"/>
<line x1="1040" y1="543.5" x2="1051" y2="543.5" stroke="#000" stroke-width="3.4"/>
<line x1="1045" y1="167.8" x2="1051" y2="167.8" stroke="#000" stroke-width="3"/>
<line x1="1045" y1="418.2" x2="1051" y2="418.2" stroke="#000" stroke-width="3"/>
<line x1="1061" y1="655" x2="1061" y2="668" stroke="#000" stroke-width="3.4"/>
<line x1="1425.8" y1="655" x2="1425.8" y2="668" stroke="#000" stroke-width="3.4"/>
<line x1="1790.6" y1="655" x2="1790.6" y2="668" stroke="#000" stroke-width="3.4"/>
<line x1="1243.4" y1="655" x2="1243.4" y2="661.5" stroke="#000" stroke-width="3"/>
<line x1="1608.2" y1="655" x2="1608.2" y2="661.5" stroke="#000" stroke-width="3"/>
<text transform="translate(1030,57) scale(0.95,1.12)" font-size="41" text-anchor="end" fill="#000" font-family='"Liberation Sans", sans-serif' >0</text>
<text transform="translate(1030,307.5) scale(0.95,1.12)" font-size="41" text-anchor="end" fill="#000" font-family='"Liberation Sans", sans-serif' >-1</text>
<text transform="translate(1030,558) scale(0.95,1.12)" font-size="41" text-anchor="end" fill="#000" font-family='"Liberation Sans", sans-serif' >-2</text>
<text transform="translate(1061,710.6) scale(1,1.08)" font-size="41" text-anchor="middle" fill="#000" font-family='"Liberation Sans", sans-serif' >0</text>
<text transform="translate(1425.8,710.6) scale(1,1.08)" font-size="41" text-anchor="middle" fill="#000" font-family='"Liberation Sans", sans-serif' >4</text>
<text transform="translate(1790.6,710.6) scale(1,1.08)" font-size="41" text-anchor="middle" fill="#000" font-family='"Liberation Sans", sans-serif' >8</text>
<text transform="translate(1430.5,754.5)" font-size="45" text-anchor="middle" fill="#000" font-family='"Liberation Sans", sans-serif' >B (T)</text>
<text transform="translate(1408,62)" font-size="50" text-anchor="start" fill="#000" font-family='"Liberation Sans", sans-serif' >(b)</text>
<text transform="translate(983,318) rotate(-90)" font-size="46" text-anchor="middle" fill="#000" font-family='"Liberation Sans", sans-serif' ><tspan font-family='"Liberation Serif", serif'>ρ</tspan><tspan font-size="32.2" dy="9.2">xy</tspan><tspan dy="-9.2"> (m</tspan><tspan font-family='"Liberation Serif", serif'>Ω</tspan>-cm)</text>
<text transform="translate(1603,59)" font-size="32" text-anchor="start" fill="#000" font-family='"Liberation Sans", sans-serif' >Bi<tspan font-size="21.4" dy="9">2</tspan><tspan dy="-9">Se</tspan><tspan font-size="21.4" dy="9">3</tspan><tspan dy="-9"> on  Si</tspan></text>
<path d="M1522,168.9 1530.5,175.2 1527.3,185.2 1516.7,185.2 1513.5,175.2Z" fill="#008000"/>
<text transform="translate(1562,188)" font-size="29" text-anchor="start" fill="#000" font-family='"Liberation Sans", sans-serif' >300 K</text>
<path d="M1522,206.6 1524.1,212.7 1530.5,212.8 1525.4,216.6 1527.2,222.7 1522,219.1 1516.8,222.7 1518.6,216.6 1513.5,212.8 1519.9,212.7Z" fill="#800080"/>
<text transform="translate(1562,225.5)" font-size="29" text-anchor="start" fill="#000" font-family='"Liberation Sans", sans-serif' >200 K</text>
<path d="M1522,243.8 1529.5,248.2 1529.5,256.9 1522,261.2 1514.5,256.9 1514.5,248.2Z" fill="#f08030"/>
<text transform="translate(1562,263)" font-size="29" text-anchor="start" fill="#000" font-family='"Liberation Sans", sans-serif' >100 K</text>
<path d="M1530.7,290 1515.2,281 1515.2,299Z" fill="#ff00ff"/>
<text transform="translate(1562,300.5)" font-size="29" text-anchor="start" fill="#000" font-family='"Liberation Sans", sans-serif' >50 K</text>
<path d="M1687.3,174 1702.8,165 1702.8,183Z" fill="#00ffff"/>
<text transform="translate(1739,184.5)" font-size="29" text-anchor="start" fill="#000" font-family='"Liberation Sans", sans-serif' >25 K</text>
<path d="M1696,220.1 1705,204.8 1687,204.8Z" fill="#0000ff"/>
<text transform="translate(1739,222)" font-size="29" text-anchor="start" fill="#000" font-family='"Liberation Sans", sans-serif' >10 K</text>
<path d="M1696,240.3 1705,255.9 1687,255.9Z" fill="#00ff00"/>
<text transform="translate(1739,259.5)" font-size="29" text-anchor="start" fill="#000" font-family='"Liberation Sans", sans-serif' >5 K</text>
<path d="M1689.2,279.8 1702.8,279.8 1702.8,293.2 1689.2,293.2Z" fill="#000"/>
<text transform="translate(1739,297)" font-size="29" text-anchor="start" fill="#000" font-family='"Liberation Sans", sans-serif' >2 K</text>
<polyline points="1127.7,595 1130.3,596 1134.5,597 1147,590 1168.5,586 1210,387.5 1295,369.5 1380,372.5" fill="none" stroke="#000" stroke-width="3.2" stroke-linejoin="round"/>
<line x1="1127.7" y1="587" x2="1127.7" y2="603" stroke="#000" stroke-width="2"/>
<line x1="1127.7" y1="587" x2="1127.7" y2="587" stroke="#000" stroke-width="2"/>
<line x1="1127.7" y1="603" x2="1127.7" y2="603" stroke="#000" stroke-width="2"/>
<line x1="1130.3" y1="588" x2="1130.3" y2="604" stroke="#000" stroke-width="2"/>
<line x1="1130.3" y1="588" x2="1130.3" y2="588" stroke="#000" stroke-width="2"/>
<line x1="1130.3" y1="604" x2="1130.3" y2="604" stroke="#000" stroke-width="2"/>
<line x1="1134.5" y1="589" x2="1134.5" y2="605" stroke="#000" stroke-width="2"/>
<line x1="1134.5" y1="589" x2="1134.5" y2="589" stroke="#000" stroke-width="2"/>
<line x1="1134.5" y1="605" x2="1134.5" y2="605" stroke="#000" stroke-width="2"/>
<line x1="1147" y1="582" x2="1147" y2="598" stroke="#000" stroke-width="2"/>
<line x1="1147" y1="582" x2="1147" y2="582" stroke="#000" stroke-width="2"/>
<line x1="1147" y1="598" x2="1147" y2="598" stroke="#000" stroke-width="2"/>
<line x1="1168.5" y1="578" x2="1168.5" y2="594" stroke="#000" stroke-width="2"/>
<line x1="1168.5" y1="578" x2="1168.5" y2="578" stroke="#000" stroke-width="2"/>
<line x1="1168.5" y1="594" x2="1168.5" y2="594" stroke="#000" stroke-width="2"/>
<line x1="1295" y1="361.5" x2="1295" y2="377.5" stroke="#000" stroke-width="2"/>
<line x1="1295" y1="361.5" x2="1295" y2="361.5" stroke="#000" stroke-width="2"/>
<line x1="1295" y1="377.5" x2="1295" y2="377.5" stroke="#000" stroke-width="2"/>
<line x1="1380" y1="364.5" x2="1380" y2="380.5" stroke="#000" stroke-width="2"/>
<line x1="1380" y1="364.5" x2="1380" y2="364.5" stroke="#000" stroke-width="2"/>
<line x1="1380" y1="380.5" x2="1380" y2="380.5" stroke="#000" stroke-width="2"/>
<path d="M1127.7,587.5 1134.5,600 1120.9,600ZM1130.3,588.5 1137.1,601 1123.5,601ZM1134.5,589.5 1141.3,602 1127.7,602ZM1147,582.5 1153.8,595 1140.2,595ZM1168.5,578.5 1175.3,591 1161.7,591ZM1210,380 1216.8,392.5 1203.2,392.5ZM1295,362 1301.8,374.5 1288.2,374.5ZM1380,365 1386.8,377.5 1373.2,377.5Z" fill="#000"/>
<polyline points="1127.5,372.5 1130,345 1134.5,352.5 1147,395 1168.5,413.5 1210,586 1295,586 1380,573.5" fill="none" stroke="#f04848" stroke-width="2.8" stroke-linejoin="round"/>
<path d="M1121.8,366.8 1133.2,366.8 1133.2,378.2 1121.8,378.2ZM1124.2,339.2 1135.8,339.2 1135.8,350.8 1124.2,350.8ZM1128.8,346.8 1140.2,346.8 1140.2,358.2 1128.8,358.2ZM1141.2,389.2 1152.8,389.2 1152.8,400.8 1141.2,400.8ZM1162.8,407.8 1174.2,407.8 1174.2,419.2 1162.8,419.2ZM1204.2,580.2 1215.8,580.2 1215.8,591.8 1204.2,591.8ZM1289.2,580.2 1300.8,580.2 1300.8,591.8 1289.2,591.8ZM1374.2,567.8 1385.8,567.8 1385.8,579.2 1374.2,579.2Z" fill="#f04040"/>
<line x1="1144" y1="349.5" x2="1172.4" y2="349.5" stroke="#ff0000" stroke-width="2.8"/>
<polygon points="1186,349.5 1169,345 1169,354" fill="#ff0000"/>
<line x1="1203" y1="601" x2="1175.6" y2="601" stroke="#000" stroke-width="3"/>
<polygon points="1162,601 1179,596.5 1179,605.5" fill="#000"/>
<line x1="1102.7" y1="336" x2="1403.3" y2="336" stroke="#000" stroke-width="1.6"/>
<line x1="1102.7" y1="609" x2="1403.3" y2="609" stroke="#000" stroke-width="1.6"/>
<line x1="1103.5" y1="335.2" x2="1103.5" y2="609.8" stroke="#000" stroke-width="1.6"/>
<line x1="1402.5" y1="335.2" x2="1402.5" y2="609.8" stroke="#ff0000" stroke-width="1.6"/>
<line x1="1126" y1="609" x2="1126" y2="614" stroke="#000" stroke-width="1.6"/>
<line x1="1126" y1="336" x2="1126" y2="339.5" stroke="#000" stroke-width="1.4"/>
<text transform="translate(1126,643.8) scale(0.85,1)" font-size="32" text-anchor="middle" fill="#000" font-family='"Liberation Sans", sans-serif' >0</text>
<line x1="1210.7" y1="609" x2="1210.7" y2="614" stroke="#000" stroke-width="1.6"/>
<line x1="1210.7" y1="336" x2="1210.7" y2="339.5" stroke="#000" stroke-width="1.4"/>
<text transform="translate(1210.7,643.8) scale(0.85,1)" font-size="32" text-anchor="middle" fill="#000" font-family='"Liberation Sans", sans-serif' >100</text>
<line x1="1295.4" y1="609" x2="1295.4" y2="614" stroke="#000" stroke-width="1.6"/>
<line x1="1295.4" y1="336" x2="1295.4" y2="339.5" stroke="#000" stroke-width="1.4"/>
<text transform="translate(1295.4,643.8) scale(0.85,1)" font-size="32" text-anchor="middle" fill="#000" font-family='"Liberation Sans", sans-serif' >200</text>
<line x1="1380.1" y1="609" x2="1380.1" y2="614" stroke="#000" stroke-width="1.6"/>
<line x1="1380.1" y1="336" x2="1380.1" y2="339.5" stroke="#000" stroke-width="1.4"/>
<text transform="translate(1380.1,643.8) scale(0.85,1)" font-size="32" text-anchor="middle" fill="#000" font-family='"Liberation Sans", sans-serif' >300</text>
<line x1="1168.3" y1="609" x2="1168.3" y2="612" stroke="#000" stroke-width="1.4"/>
<line x1="1168.3" y1="336" x2="1168.3" y2="338" stroke="#000" stroke-width="1.2"/>
<line x1="1253" y1="609" x2="1253" y2="612" stroke="#000" stroke-width="1.4"/>
<line x1="1253" y1="336" x2="1253" y2="338" stroke="#000" stroke-width="1.2"/>
<line x1="1337.8" y1="609" x2="1337.8" y2="612" stroke="#000" stroke-width="1.4"/>
<line x1="1337.8" y1="336" x2="1337.8" y2="338" stroke="#000" stroke-width="1.2"/>
<line x1="1099.5" y1="371" x2="1103.5" y2="371" stroke="#000" stroke-width="1.6"/>
<text transform="translate(1098,382) scale(0.86,1)" font-size="32" text-anchor="end" fill="#000" font-family='"Liberation Sans", sans-serif' >1.5</text>
<line x1="1099.5" y1="458.5" x2="1103.5" y2="458.5" stroke="#000" stroke-width="1.6"/>
<text transform="translate(1098,469.5) scale(0.86,1)" font-size="32" text-anchor="end" fill="#000" font-family='"Liberation Sans", sans-serif' >1.0</text>
<line x1="1099.5" y1="546" x2="1103.5" y2="546" stroke="#000" stroke-width="1.6"/>
<text transform="translate(1098,557) scale(0.86,1)" font-size="32" text-anchor="end" fill="#000" font-family='"Liberation Sans", sans-serif' >0.5</text>
<line x1="1101" y1="414.7" x2="1103.5" y2="414.7" stroke="#000" stroke-width="1.4"/>
<line x1="1101" y1="502.2" x2="1103.5" y2="502.2" stroke="#000" stroke-width="1.4"/>
<line x1="1101" y1="589.7" x2="1103.5" y2="589.7" stroke="#000" stroke-width="1.4"/>
<line x1="1402.5" y1="344" x2="1407.5" y2="344" stroke="#ff0000" stroke-width="1.6"/>
<text transform="translate(1410,355) scale(0.88,1)" font-size="32" text-anchor="start" fill="#ff0000" font-family='"Liberation Sans", sans-serif' >150</text>
<line x1="1402.5" y1="439" x2="1407.5" y2="439" stroke="#ff0000" stroke-width="1.6"/>
<text transform="translate(1410,450) scale(0.88,1)" font-size="32" text-anchor="start" fill="#ff0000" font-family='"Liberation Sans", sans-serif' >100</text>
<line x1="1402.5" y1="534" x2="1407.5" y2="534" stroke="#ff0000" stroke-width="1.6"/>
<text transform="translate(1410,545) scale(0.88,1)" font-size="32" text-anchor="start" fill="#ff0000" font-family='"Liberation Sans", sans-serif' >50</text>
<line x1="1402.5" y1="391.5" x2="1405.5" y2="391.5" stroke="#ff0000" stroke-width="1.4"/>
<line x1="1402.5" y1="486.5" x2="1405.5" y2="486.5" stroke="#ff0000" stroke-width="1.4"/>
<line x1="1402.5" y1="581.5" x2="1405.5" y2="581.5" stroke="#ff0000" stroke-width="1.4"/>
<text transform="translate(1223,565)" font-size="28" text-anchor="start" fill="#000" font-family='"Liberation Sans", sans-serif' >T (K)</text>
<text transform="translate(1140,487) rotate(-90) scale(1.17,1)" font-size="29" text-anchor="middle" fill="#000" font-family='"Liberation Sans", sans-serif' >n (10<tspan font-size="19.1" dy="-11.6">19</tspan><tspan dy="11.6"> cm</tspan><tspan font-size="19.1" dy="-11.6">-3</tspan><tspan dy="11.6">)</tspan></text>
<text transform="translate(1383,472.5) rotate(-90) scale(1.18,1)" font-size="28" text-anchor="middle" fill="#ff0000" font-family='"Liberation Sans", sans-serif' ><tspan font-family='"Liberation Serif", serif'>μ</tspan> (cm<tspan font-size="18.5" dy="-11.2">2</tspan><tspan dy="11.2">/Vs)</tspan></text>
<path d="M106.1,814.5 122.1,804.6 122.1,824.4ZM114.9,808.2 130.9,798.3 130.9,818.1ZM128.8,833.4 144.8,823.5 144.8,843.3ZM143.6,837.2 159.6,827.3 159.6,847.1ZM156.1,835.5 172.1,825.6 172.1,845.4ZM168.6,862.9 184.6,852.9 184.6,872.8ZM181.1,880.1 197.1,870.1 197.1,890ZM193.6,898.3 209.6,888.3 209.6,908.2ZM206.1,875.3 222.1,865.4 222.1,885.2ZM218.6,883.6 234.6,873.7 234.6,893.5ZM231.1,920.9 247.1,910.9 247.1,930.8ZM243.6,926.8 259.6,916.9 259.6,936.7ZM256.1,950.8 272.1,940.9 272.1,960.7ZM268.6,952.1 284.6,942.2 284.6,962.1ZM281.1,945.9 297.1,936 297.1,955.9ZM296.8,921.8 312.8,911.9 312.8,931.7ZM306.1,1001.1 322.1,991.2 322.1,1011ZM318.6,969.8 334.6,959.9 334.6,979.7ZM331.1,971.6 347.1,961.6 347.1,981.5ZM343.6,975.2 359.6,965.3 359.6,985.1ZM354.8,954.6 370.8,944.7 370.8,964.5ZM363.7,1046.8 379.7,1036.9 379.7,1056.7ZM381.1,1011.7 397.1,1001.8 397.1,1021.6ZM388.9,1080.9 404.9,1071 404.9,1090.8ZM406.1,1036.9 422.1,1026.9 422.1,1046.8ZM418.6,1050.9 434.6,1041 434.6,1060.8ZM431.1,1064.6 447.1,1054.7 447.1,1074.5ZM443.6,1060.2 459.6,1050.3 459.6,1070.1ZM456.1,1040.1 472.1,1030.2 472.1,1050.1ZM468.6,1082.9 484.6,1072.9 484.6,1092.8ZM481.1,1060.9 497.1,1051 497.1,1070.9ZM493.6,1086.1 509.6,1076.2 509.6,1096ZM506.1,1075.5 522.1,1065.6 522.1,1085.4ZM518.6,1103.7 534.6,1093.8 534.6,1113.6ZM535.5,1206.2 551.5,1196.3 551.5,1216.1ZM543.6,1121.5 559.6,1111.6 559.6,1131.5ZM556.1,1172.1 572.1,1162.2 572.1,1182ZM568.6,1132.4 584.6,1122.5 584.6,1142.4ZM581.1,1152.1 597.1,1142.2 597.1,1162ZM593.6,1128.8 609.6,1118.9 609.6,1138.8ZM606.1,1150.4 622.1,1140.4 622.1,1160.3ZM622.4,1129.8 638.4,1119.9 638.4,1139.7ZM631.1,1166.9 647.1,1157 647.1,1176.8ZM643.6,1180.2 659.6,1170.3 659.6,1190.1ZM659.3,1145.6 675.3,1135.7 675.3,1155.5ZM668.6,1174.3 684.6,1164.3 684.6,1184.2ZM681.1,1202.8 697.1,1192.9 697.1,1212.7ZM693.6,1190 709.6,1180.1 709.6,1199.9ZM706.1,1234 722.1,1224.1 722.1,1243.9ZM719.9,1308.9 735.9,1299 735.9,1318.8ZM731.1,1230 747.1,1220.1 747.1,1239.9ZM743.6,1226.6 759.6,1216.7 759.6,1236.5ZM756.1,1246 772.1,1236.1 772.1,1255.9ZM768.6,1230.3 784.6,1220.4 784.6,1240.2ZM781.1,1258.7 797.1,1248.7 797.1,1268.6ZM793.6,1248.8 809.6,1238.9 809.6,1258.8ZM805.5,1320.7 821.5,1310.8 821.5,1330.6ZM818.7,1332.6 834.7,1322.7 834.7,1342.5ZM830.5,1398.5 846.5,1388.6 846.5,1408.4ZM843.6,1262.4 859.6,1252.5 859.6,1272.3Z" fill="#00ffff"/>
<path d="M114.9,877.9 124.8,861.9 105,861.9ZM126.3,866.5 136.2,850.5 116.3,850.5ZM137.6,879.7 147.5,863.7 127.7,863.7ZM149,899.6 158.9,883.6 139.1,883.6ZM160.3,914.4 170.3,898.4 150.4,898.4ZM171.7,914.3 181.6,898.3 161.8,898.3ZM183.1,915.1 193,899.1 173.1,899.1ZM194.4,920.7 204.3,904.7 184.5,904.7ZM205.8,922.3 215.7,906.3 195.9,906.3ZM217.1,918.6 227.1,902.6 207.2,902.6ZM228.5,920.9 238.4,904.9 218.6,904.9ZM239.9,939.9 249.8,923.9 229.9,923.9ZM251.2,949.3 261.1,933.3 241.3,933.3ZM262.6,952.1 272.5,936.1 252.7,936.1ZM273.9,960.1 283.9,944.1 264,944.1ZM285.3,961.2 295.2,945.2 275.4,945.2ZM296.7,973.6 306.6,957.6 286.7,957.6ZM308,992.2 317.9,976.2 298.1,976.2ZM319.4,1003.3 329.3,987.3 309.5,987.3ZM330.7,1004.9 340.7,988.9 320.8,988.9ZM342.1,1013.1 352,997.1 332.2,997.1ZM353.5,1022.8 363.4,1006.8 343.5,1006.8ZM364.8,1021.7 374.7,1005.7 354.9,1005.7ZM376.2,1031.3 386.1,1015.3 366.3,1015.3ZM387.5,1041.7 397.5,1025.7 377.6,1025.7ZM398.9,1047.7 408.8,1031.7 389,1031.7ZM410.3,1053.6 420.2,1037.6 400.3,1037.6ZM421.6,1062.1 431.5,1046.1 411.7,1046.1ZM433,1073.9 442.9,1057.9 423.1,1057.9ZM444.3,1078.1 454.3,1062.1 434.4,1062.1ZM455.7,1087.7 465.6,1071.7 445.8,1071.7ZM467.1,1093.5 477,1077.5 457.1,1077.5ZM478.4,1099 488.3,1083 468.5,1083ZM489.8,1104 499.7,1088 479.9,1088ZM501.1,1106.9 511.1,1090.9 491.2,1090.9ZM512.5,1115.9 522.4,1099.9 502.6,1099.9ZM523.9,1130.6 533.8,1114.6 513.9,1114.6ZM535.2,1140.6 545.1,1124.6 525.3,1124.6ZM546.6,1150.9 556.5,1134.9 536.7,1134.9ZM557.9,1151.7 567.9,1135.7 548,1135.7ZM569.3,1146.8 579.2,1130.8 559.4,1130.8ZM580.7,1162 590.6,1146 570.7,1146ZM592,1170.6 601.9,1154.6 582.1,1154.6ZM603.4,1175.2 613.3,1159.2 593.5,1159.2ZM614.7,1180 624.7,1164 604.8,1164ZM626.1,1190 636,1174 616.2,1174ZM637.5,1199.3 647.4,1183.3 627.5,1183.3ZM648.8,1208.7 658.7,1192.7 638.9,1192.7ZM660.2,1223.3 670.1,1207.3 650.3,1207.3ZM671.5,1220.8 681.5,1204.8 661.6,1204.8ZM682.9,1226.6 692.8,1210.6 673,1210.6ZM694.3,1240 704.2,1224 684.3,1224ZM705.6,1241.5 715.5,1225.5 695.7,1225.5ZM717,1241.4 726.9,1225.4 707.1,1225.4ZM728.3,1256.6 738.3,1240.6 718.4,1240.6ZM739.7,1266.9 749.6,1250.9 729.8,1250.9ZM751.1,1271.4 761,1255.4 741.1,1255.4ZM762.4,1286.2 772.3,1270.2 752.5,1270.2ZM773.8,1293 783.7,1277 763.9,1277ZM819.2,1310.7 829.1,1294.7 809.3,1294.7ZM830.6,1305.2 840.5,1289.2 820.7,1289.2ZM841.9,1300.9 851.9,1284.9 832,1284.9ZM853.3,1316.6 863.2,1300.6 843.4,1300.6ZM864.7,1322.9 874.6,1306.9 854.7,1306.9ZM876,1331.2 885.9,1315.2 866.1,1315.2Z" fill="#0000ff"/>
<path d="M114.9,798 124.8,814 105,814ZM131,817.4 140.9,833.4 121.1,833.4ZM147.1,820.5 157,836.5 137.2,836.5ZM163.2,825.5 173.1,841.5 153.3,841.5ZM179.3,835.1 189.2,851.1 169.4,851.1ZM195.4,850.2 205.3,866.2 185.5,866.2ZM211.5,858.8 221.4,874.8 201.6,874.8ZM227.6,868 237.5,884 217.7,884ZM243.7,876 253.6,892 233.8,892ZM259.8,884.2 269.7,900.2 249.9,900.2ZM275.9,892.7 285.8,908.7 266,908.7ZM292,902.2 301.9,918.2 282.1,918.2ZM308.1,911.3 318,927.3 298.2,927.3ZM324.2,923.2 334.1,939.2 314.3,939.2ZM340.3,939.9 350.2,955.9 330.4,955.9ZM356.4,949.4 366.3,965.4 346.5,965.4ZM372.5,962.4 382.4,978.4 362.6,978.4ZM388.6,971.3 398.5,987.3 378.7,987.3ZM404.7,979.2 414.6,995.2 394.8,995.2ZM420.8,986 430.7,1002 410.9,1002ZM436.9,990.8 446.8,1006.8 427,1006.8ZM453,993.5 462.9,1009.5 443.1,1009.5ZM469.1,1017.4 479,1033.4 459.2,1033.4ZM485.2,1028 495.1,1044 475.3,1044ZM501.3,1042.6 511.2,1058.6 491.4,1058.6ZM517.4,1048.5 527.3,1064.5 507.5,1064.5ZM533.5,1058.6 543.4,1074.6 523.6,1074.6ZM549.6,1075.2 559.5,1091.2 539.7,1091.2ZM565.7,1083.7 575.6,1099.7 555.8,1099.7ZM581.8,1090.8 591.7,1106.8 571.9,1106.8ZM597.9,1097.1 607.8,1113.1 588,1113.1ZM614,1109.6 623.9,1125.6 604.1,1125.6ZM630.1,1121 640,1137 620.2,1137ZM646.2,1139.1 656.1,1155.1 636.3,1155.1ZM662.3,1146.8 672.2,1162.8 652.4,1162.8ZM678.4,1151.1 688.3,1167.1 668.5,1167.1ZM694.5,1168.2 704.4,1184.2 684.6,1184.2ZM710.6,1171.5 720.5,1187.5 700.7,1187.5ZM726.7,1185.4 736.6,1201.4 716.8,1201.4ZM742.8,1194.2 752.7,1210.2 732.9,1210.2ZM758.9,1202.8 768.8,1218.8 749,1218.8ZM775,1220.1 784.9,1236.1 765.1,1236.1ZM791.1,1211.6 801,1227.6 781.2,1227.6ZM807.2,1240.4 817.1,1256.4 797.3,1256.4ZM823.3,1247 833.2,1263 813.4,1263ZM839.4,1255.3 849.3,1271.3 829.5,1271.3ZM855.5,1266.4 865.4,1282.4 845.6,1282.4ZM871.6,1278.6 881.5,1294.6 861.7,1294.6ZM887.7,1286.9 897.6,1302.9 877.8,1302.9ZM903.8,1289.9 913.7,1305.9 893.9,1305.9Z" fill="#00ff00"/>
<path d="M119.9,811.2 133.7,811.2 133.7,825 119.9,825ZM131.3,817.7 145.1,817.7 145.1,831.5 131.3,831.5ZM142.8,826 156.6,826 156.6,839.8 142.8,839.8ZM154.2,829.1 168,829.1 168,842.9 154.2,842.9ZM165.6,844 179.4,844 179.4,857.8 165.6,857.8ZM177.1,853.2 190.9,853.2 190.9,867 177.1,867ZM188.5,863.8 202.3,863.8 202.3,877.6 188.5,877.6ZM199.9,867 213.7,867 213.7,880.8 199.9,880.8ZM211.3,873.9 225.1,873.9 225.1,887.7 211.3,887.7ZM222.8,888.7 236.6,888.7 236.6,902.5 222.8,902.5ZM234.2,882.8 248,882.8 248,896.6 234.2,896.6ZM245.6,894.4 259.4,894.4 259.4,908.2 245.6,908.2ZM257.1,902.2 270.9,902.2 270.9,916 257.1,916ZM268.5,910.6 282.3,910.6 282.3,924.4 268.5,924.4ZM279.9,918.2 293.7,918.2 293.7,932 279.9,932ZM291.4,923.8 305.2,923.8 305.2,937.6 291.4,937.6ZM302.8,933.5 316.6,933.5 316.6,947.3 302.8,947.3ZM314.2,946.5 328,946.5 328,960.3 314.2,960.3ZM325.6,953.7 339.4,953.7 339.4,967.5 325.6,967.5ZM337.1,961.6 350.9,961.6 350.9,975.4 337.1,975.4ZM348.5,964.9 362.3,964.9 362.3,978.7 348.5,978.7ZM359.9,970.6 373.7,970.6 373.7,984.4 359.9,984.4ZM371.4,979.1 385.2,979.1 385.2,992.9 371.4,992.9ZM382.8,988.1 396.6,988.1 396.6,1001.9 382.8,1001.9ZM394.2,995.5 408,995.5 408,1009.3 394.2,1009.3ZM405.7,1003.7 419.5,1003.7 419.5,1017.5 405.7,1017.5ZM417.1,1011.9 430.9,1011.9 430.9,1025.7 417.1,1025.7ZM428.5,1019.7 442.3,1019.7 442.3,1033.5 428.5,1033.5ZM439.9,1028.9 453.7,1028.9 453.7,1042.7 439.9,1042.7ZM451.4,1044 465.2,1044 465.2,1057.8 451.4,1057.8ZM462.8,1048.6 476.6,1048.6 476.6,1062.4 462.8,1062.4ZM474.2,1050.2 488,1050.2 488,1064 474.2,1064ZM485.7,1051.3 499.5,1051.3 499.5,1065.1 485.7,1065.1ZM497.1,1061.6 510.9,1061.6 510.9,1075.4 497.1,1075.4ZM508.5,1074.1 522.3,1074.1 522.3,1087.9 508.5,1087.9ZM520,1078.1 533.8,1078.1 533.8,1091.9 520,1091.9ZM531.4,1081.5 545.2,1081.5 545.2,1095.3 531.4,1095.3ZM542.8,1087.6 556.6,1087.6 556.6,1101.4 542.8,1101.4ZM554.2,1099.7 568,1099.7 568,1113.5 554.2,1113.5ZM565.7,1110.9 579.5,1110.9 579.5,1124.7 565.7,1124.7ZM577.1,1104.1 590.9,1104.1 590.9,1117.9 577.1,1117.9ZM588.5,1118 602.3,1118 602.3,1131.8 588.5,1131.8ZM600,1125.3 613.8,1125.3 613.8,1139.1 600,1139.1ZM611.4,1131.5 625.2,1131.5 625.2,1145.3 611.4,1145.3ZM622.8,1135.9 636.6,1135.9 636.6,1149.7 622.8,1149.7ZM634.2,1147.5 648,1147.5 648,1161.3 634.2,1161.3ZM645.7,1156.6 659.5,1156.6 659.5,1170.4 645.7,1170.4ZM657.1,1167.6 670.9,1167.6 670.9,1181.4 657.1,1181.4ZM668.5,1173.6 682.3,1173.6 682.3,1187.4 668.5,1187.4ZM680,1178.8 693.8,1178.8 693.8,1192.6 680,1192.6ZM691.4,1186.2 705.2,1186.2 705.2,1200 691.4,1200ZM702.8,1193.5 716.6,1193.5 716.6,1207.3 702.8,1207.3ZM714.3,1198.3 728.1,1198.3 728.1,1212.1 714.3,1212.1ZM733.7,1217.7 747.5,1217.7 747.5,1231.5 733.7,1231.5ZM746.8,1213.7 760.6,1213.7 760.6,1227.5 746.8,1227.5ZM758.7,1219 772.5,1219 772.5,1232.8 758.7,1232.8ZM770.5,1236.1 784.3,1236.1 784.3,1249.9 770.5,1249.9ZM782.4,1245.4 796.2,1245.4 796.2,1259.2 782.4,1259.2ZM794.2,1253.3 808,1253.3 808,1267.1 794.2,1267.1ZM806.1,1260.6 819.9,1260.6 819.9,1274.4 806.1,1274.4ZM818,1264.3 831.8,1264.3 831.8,1278.1 818,1278.1ZM829.8,1271.7 843.6,1271.7 843.6,1285.5 829.8,1285.5ZM840.3,1275.6 854.1,1275.6 854.1,1289.4 840.3,1289.4ZM850.9,1264.3 864.7,1264.3 864.7,1278.1 850.9,1278.1ZM862.7,1266.4 876.5,1266.4 876.5,1280.2 862.7,1280.2ZM874.6,1267.7 888.4,1267.7 888.4,1281.5 874.6,1281.5ZM885.1,1275.6 898.9,1275.6 898.9,1289.4 885.1,1289.4ZM896.2,1315.1 910,1315.1 910,1328.9 896.2,1328.9ZM108.1,763.6 121.9,763.6 121.9,777.4 108.1,777.4Z" fill="#000"/>
<line x1="92.2" y1="757.5" x2="918.8" y2="757.5" stroke="#000" stroke-width="3.6"/>
<line x1="92.2" y1="1422" x2="918.8" y2="1422" stroke="#000" stroke-width="3.6"/>
<line x1="94" y1="755.7" x2="94" y2="1423.8" stroke="#000" stroke-width="3.6"/>
<line x1="917" y1="755.7" x2="917" y2="1423.8" stroke="#000" stroke-width="3.6"/>
<line x1="81.5" y1="815" x2="94" y2="815" stroke="#000" stroke-width="3.4"/>
<line x1="81.5" y1="1232.6" x2="94" y2="1232.6" stroke="#000" stroke-width="3.4"/>
<line x1="88" y1="1023.8" x2="94" y2="1023.8" stroke="#000" stroke-width="2.8"/>
<line x1="115" y1="1422" x2="115" y2="1435.5" stroke="#000" stroke-width="3.6"/>
<line x1="508.6" y1="1422" x2="508.6" y2="1435.5" stroke="#000" stroke-width="3.6"/>
<line x1="902.2" y1="1422" x2="902.2" y2="1435.5" stroke="#000" stroke-width="3.6"/>
<line x1="311.8" y1="1422" x2="311.8" y2="1428" stroke="#000" stroke-width="2.8"/>
<line x1="705.4" y1="1422" x2="705.4" y2="1428" stroke="#000" stroke-width="2.8"/>
<text transform="translate(70,830) scale(1.08,1.18)" font-size="38" text-anchor="end" fill="#000" font-family='"Liberation Sans", sans-serif' >0</text>
<text transform="translate(70,1247.6) scale(1.08,1.18)" font-size="38" text-anchor="end" fill="#000" font-family='"Liberation Sans", sans-serif' >-2</text>
<text transform="translate(115,1479.5) scale(1.08,1.15)" font-size="40" text-anchor="middle" fill="#000" font-family='"Liberation Sans", sans-serif' >0</text>
<text transform="translate(508.6,1479.5) scale(1.08,1.15)" font-size="40" text-anchor="middle" fill="#000" font-family='"Liberation Sans", sans-serif' >4</text>
<text transform="translate(902.2,1479.5) scale(1.08,1.15)" font-size="40" text-anchor="middle" fill="#000" font-family='"Liberation Sans", sans-serif' >8</text>
<text transform="translate(356,812)" font-size="50" text-anchor="start" fill="#000" font-family='"Liberation Sans", sans-serif' >(c)</text>
<text transform="translate(479.5,1397.5)" font-size="47" text-anchor="start" fill="#000" font-family='"Liberation Sans", sans-serif' >B (T)</text>
<text transform="translate(41,1063.5) rotate(-90)" font-size="48" text-anchor="middle" fill="#000" font-family='"Liberation Sans", sans-serif' ><tspan font-family='"Liberation Serif", serif'>ρ</tspan><tspan font-size="33.6" dy="9.6">xy</tspan><tspan dy="-9.6"> (m</tspan><tspan font-family='"Liberation Serif", serif'>Ω</tspan> cm)</text>
<path d="M155.2,1142 171.2,1132.1 171.2,1151.9Z" fill="#00ffff"/>
<text transform="translate(208,1153)" font-size="31" text-anchor="start" fill="#000" font-family='"Liberation Sans", sans-serif' >25 K</text>
<path d="M164,1189.5 173.9,1173.5 154.1,1173.5Z" fill="#0000ff"/>
<text transform="translate(208,1191.7)" font-size="31" text-anchor="start" fill="#000" font-family='"Liberation Sans", sans-serif' >10 K</text>
<path d="M164,1210.6 173.9,1226.6 154.1,1226.6Z" fill="#00ff00"/>
<text transform="translate(208,1230.4)" font-size="31" text-anchor="start" fill="#000" font-family='"Liberation Sans", sans-serif' >5 K</text>
<path d="M157.2,1251.3 170.8,1251.3 170.8,1264.8 157.2,1264.8Z" fill="#000"/>
<text transform="translate(208,1269.1)" font-size="31" text-anchor="start" fill="#000" font-family='"Liberation Sans", sans-serif' >2 K</text>
<text transform="translate(136,1328)" font-size="34" text-anchor="start" fill="#000" font-family='"Liberation Sans", sans-serif' >Bi<tspan font-size="22.8" dy="9.5">2</tspan><tspan dy="-9.5">Se</tspan><tspan font-size="22.8" dy="9.5">3</tspan><tspan dy="-9.5">/Quartz</tspan></text>
<polyline points="545.1,781.7 577.4,843.5 632.5,787.2 797.1,957.2" fill="none" stroke="#000" stroke-width="3.6" stroke-linejoin="round"/>
<line x1="545.1" y1="764.5" x2="545.1" y2="799.8" stroke="#000" stroke-width="3"/>
<line x1="541.1" y1="764.5" x2="549.1" y2="764.5" stroke="#000" stroke-width="3"/>
<line x1="541.1" y1="799.8" x2="549.1" y2="799.8" stroke="#000" stroke-width="3"/>
<line x1="577.4" y1="829.6" x2="577.4" y2="860.7" stroke="#000" stroke-width="3"/>
<line x1="573.4" y1="829.6" x2="581.4" y2="829.6" stroke="#000" stroke-width="3"/>
<line x1="573.4" y1="860.7" x2="581.4" y2="860.7" stroke="#000" stroke-width="3"/>
<line x1="632.5" y1="766" x2="632.5" y2="809" stroke="#000" stroke-width="3"/>
<line x1="628.5" y1="766" x2="636.5" y2="766" stroke="#000" stroke-width="3"/>
<line x1="628.5" y1="809" x2="636.5" y2="809" stroke="#000" stroke-width="3"/>
<line x1="797.1" y1="886.5" x2="797.1" y2="1028.6" stroke="#000" stroke-width="3"/>
<line x1="793.1" y1="886.5" x2="801.1" y2="886.5" stroke="#000" stroke-width="3"/>
<line x1="793.1" y1="1028.6" x2="801.1" y2="1028.6" stroke="#000" stroke-width="3"/>
<path d="M545.1,773.2 553.1,787.2 537.1,787.2ZM577.4,835 585.4,849 569.4,849ZM632.5,778.7 640.5,792.7 624.5,792.7ZM797.1,948.7 805.1,962.7 789.1,962.7Z" fill="#000"/>
<polyline points="545.1,1019.8 577.4,963 632.5,1014 797.1,846" fill="none" stroke="#ff0000" stroke-width="3.4" stroke-linejoin="round"/>
<line x1="545.1" y1="1003.4" x2="545.1" y2="1035" stroke="#ff0000" stroke-width="2.9"/>
<line x1="541.1" y1="1003.4" x2="549.1" y2="1003.4" stroke="#ff0000" stroke-width="2.9"/>
<line x1="541.1" y1="1035" x2="549.1" y2="1035" stroke="#ff0000" stroke-width="2.9"/>
<line x1="577.4" y1="947.6" x2="577.4" y2="977.9" stroke="#ff0000" stroke-width="2.9"/>
<line x1="573.4" y1="947.6" x2="581.4" y2="947.6" stroke="#ff0000" stroke-width="2.9"/>
<line x1="573.4" y1="977.9" x2="581.4" y2="977.9" stroke="#ff0000" stroke-width="2.9"/>
<line x1="632.5" y1="995" x2="632.5" y2="1032.4" stroke="#ff0000" stroke-width="2.9"/>
<line x1="628.5" y1="995" x2="636.5" y2="995" stroke="#ff0000" stroke-width="2.9"/>
<line x1="628.5" y1="1032.4" x2="636.5" y2="1032.4" stroke="#ff0000" stroke-width="2.9"/>
<line x1="797.1" y1="764.5" x2="797.1" y2="928.1" stroke="#ff0000" stroke-width="2.9"/>
<line x1="793.1" y1="764.5" x2="801.1" y2="764.5" stroke="#ff0000" stroke-width="2.9"/>
<line x1="793.1" y1="928.1" x2="801.1" y2="928.1" stroke="#ff0000" stroke-width="2.9"/>
<path d="M539.9,1014.5 550.4,1014.5 550.4,1025 539.9,1025ZM572.1,957.8 582.6,957.8 582.6,968.2 572.1,968.2ZM627.2,1008.8 637.8,1008.8 637.8,1019.2 627.2,1019.2ZM791.9,840.8 802.4,840.8 802.4,851.2 791.9,851.2Z" fill="#ff0000"/>
<line x1="596" y1="802" x2="574.6" y2="802" stroke="#000" stroke-width="3"/>
<polygon points="561,802 578,797 578,807" fill="#000"/>
<line x1="699.5" y1="949.6" x2="736.8" y2="949.6" stroke="#ff0000" stroke-width="2.6"/>
<polygon points="752,949.6 733,944.6 733,954.6" fill="#ff0000"/>
<line x1="499.6" y1="761" x2="852.2" y2="761" stroke="#000" stroke-width="1.6"/>
<line x1="499.6" y1="1038.5" x2="852.2" y2="1038.5" stroke="#000" stroke-width="1.6"/>
<line x1="500.4" y1="760.2" x2="500.4" y2="1039.3" stroke="#000" stroke-width="1.6"/>
<line x1="851.4" y1="760.2" x2="851.4" y2="1039.3" stroke="#ff0000" stroke-width="1.8"/>
<line x1="522.6" y1="1038.5" x2="522.6" y2="1043.5" stroke="#000" stroke-width="1.6"/>
<line x1="522.6" y1="761" x2="522.6" y2="764.5" stroke="#000" stroke-width="1.4"/>
<text transform="translate(522.6,1075)" font-size="30" text-anchor="middle" fill="#000" font-family='"Liberation Sans", sans-serif' >0</text>
<line x1="632.2" y1="1038.5" x2="632.2" y2="1043.5" stroke="#000" stroke-width="1.6"/>
<line x1="632.2" y1="761" x2="632.2" y2="764.5" stroke="#000" stroke-width="1.4"/>
<text transform="translate(632.2,1075)" font-size="30" text-anchor="middle" fill="#000" font-family='"Liberation Sans", sans-serif' >10</text>
<line x1="741.8" y1="1038.5" x2="741.8" y2="1043.5" stroke="#000" stroke-width="1.6"/>
<line x1="741.8" y1="761" x2="741.8" y2="764.5" stroke="#000" stroke-width="1.4"/>
<text transform="translate(741.8,1075)" font-size="30" text-anchor="middle" fill="#000" font-family='"Liberation Sans", sans-serif' >20</text>
<line x1="851.4" y1="1038.5" x2="851.4" y2="1043.5" stroke="#000" stroke-width="1.6"/>
<line x1="851.4" y1="761" x2="851.4" y2="764.5" stroke="#000" stroke-width="1.4"/>
<text transform="translate(851.4,1075)" font-size="30" text-anchor="middle" fill="#000" font-family='"Liberation Sans", sans-serif' >30</text>
<line x1="577.4" y1="1038.5" x2="577.4" y2="1041.5" stroke="#000" stroke-width="1.4"/>
<line x1="577.4" y1="761" x2="577.4" y2="763" stroke="#000" stroke-width="1.2"/>
<line x1="687" y1="1038.5" x2="687" y2="1041.5" stroke="#000" stroke-width="1.4"/>
<line x1="687" y1="761" x2="687" y2="763" stroke="#000" stroke-width="1.2"/>
<line x1="796.6" y1="1038.5" x2="796.6" y2="1041.5" stroke="#000" stroke-width="1.4"/>
<line x1="796.6" y1="761" x2="796.6" y2="763" stroke="#000" stroke-width="1.2"/>
<line x1="496.4" y1="837.2" x2="500.4" y2="837.2" stroke="#000" stroke-width="1.6"/>
<text transform="translate(496,848.7)" font-size="33" text-anchor="end" fill="#000" font-family='"Liberation Sans", sans-serif' >2.1</text>
<line x1="496.4" y1="1014" x2="500.4" y2="1014" stroke="#000" stroke-width="1.6"/>
<text transform="translate(496,1025.5)" font-size="33" text-anchor="end" fill="#000" font-family='"Liberation Sans", sans-serif' >1.8</text>
<line x1="497.9" y1="926.9" x2="500.4" y2="926.9" stroke="#000" stroke-width="1.4"/>
<line x1="851.4" y1="847.3" x2="856.4" y2="847.3" stroke="#ff0000" stroke-width="1.8"/>
<text transform="translate(859,859.8) scale(1.03,1)" font-size="35" text-anchor="start" fill="#ff0000" font-family='"Liberation Sans", sans-serif' >3.0</text>
<line x1="851.4" y1="974.8" x2="856.4" y2="974.8" stroke="#ff0000" stroke-width="1.8"/>
<text transform="translate(859,987.3) scale(1.03,1)" font-size="35" text-anchor="start" fill="#ff0000" font-family='"Liberation Sans", sans-serif' >2.7</text>
<line x1="851.4" y1="783" x2="854.4" y2="783" stroke="#ff0000" stroke-width="1.5"/>
<line x1="851.4" y1="910.5" x2="854.4" y2="910.5" stroke="#ff0000" stroke-width="1.5"/>
<line x1="851.4" y1="1038.5" x2="854.4" y2="1038.5" stroke="#ff0000" stroke-width="1.5"/>
<text transform="translate(647,1023)" font-size="33.5" text-anchor="start" fill="#000" font-family='"Liberation Sans", sans-serif' >T (K)</text>
<text transform="translate(539,901) rotate(-90) scale(1.17,1)" font-size="29" text-anchor="middle" fill="#000" font-family='"Liberation Sans", sans-serif' >n (10<tspan font-size="19.1" dy="-11.6">18</tspan><tspan dy="11.6"> cm</tspan><tspan font-size="19.1" dy="-11.6">-3</tspan><tspan dy="11.6">)</tspan></text>
<text transform="translate(832,900) rotate(-90) scale(1.14,1)" font-size="29" text-anchor="middle" fill="#ff0000" font-family='"Liberation Sans", sans-serif' ><tspan font-family='"Liberation Serif", serif'>μ</tspan> (10<tspan font-size="19.1" dy="-11.6">4</tspan><tspan dy="11.6"> cm</tspan><tspan font-size="19.1" dy="-11.6">2</tspan><tspan dy="11.6">/Vs)</tspan></text>
<clipPath id="cd"><rect x="1061.7" y="786.6" width="760" height="620.3"/></clipPath><g clip-path="url(#cd)">
<path d="M1067.5,1368 1075.7,1381.7 1059.3,1381.7ZM1073.5,1329 1081.7,1342.7 1065.3,1342.7ZM1079,1304.5 1087.2,1318.2 1070.8,1318.2ZM1083.5,1294 1091.7,1307.7 1075.3,1307.7ZM1091,1276.5 1099.2,1290.2 1082.8,1290.2ZM1097.5,1255 1105.7,1268.7 1089.3,1268.7ZM1104,1237.5 1112.2,1251.2 1095.8,1251.2ZM1110.1,1241.9 1118.3,1255.6 1101.9,1255.6ZM1116.2,1231.3 1124.4,1245 1108,1245ZM1122.3,1238.7 1130.5,1252.4 1114.1,1252.4ZM1128.4,1236.7 1136.6,1250.4 1120.2,1250.4ZM1134.5,1237.4 1142.7,1251.1 1126.3,1251.1ZM1140.6,1229.8 1148.8,1243.5 1132.4,1243.5ZM1146.7,1213.4 1154.9,1227.1 1138.5,1227.1ZM1152.8,1208.1 1161,1221.8 1144.6,1221.8ZM1158.9,1212.9 1167.1,1226.6 1150.7,1226.6ZM1165,1209.4 1173.2,1223.1 1156.8,1223.1ZM1171.1,1203.1 1179.3,1216.8 1162.9,1216.8ZM1177.2,1200.2 1185.4,1213.9 1169,1213.9ZM1183.3,1194.1 1191.5,1207.8 1175.1,1207.8ZM1189.4,1189.2 1197.6,1202.9 1181.2,1202.9ZM1195.5,1188.8 1203.7,1202.5 1187.3,1202.5ZM1201.6,1186.5 1209.8,1200.2 1193.4,1200.2ZM1207.7,1175.2 1215.9,1188.9 1199.5,1188.9ZM1213.8,1177.6 1222,1191.3 1205.6,1191.3ZM1219.9,1166.6 1228.1,1180.3 1211.7,1180.3ZM1226,1158.1 1234.2,1171.8 1217.8,1171.8ZM1232.1,1158.5 1240.3,1172.2 1223.9,1172.2ZM1238.2,1156.6 1246.4,1170.3 1230,1170.3ZM1244.3,1150.7 1252.5,1164.4 1236.1,1164.4ZM1250.4,1145.8 1258.6,1159.5 1242.2,1159.5ZM1256.5,1146.5 1264.7,1160.2 1248.3,1160.2ZM1262.6,1138.9 1270.8,1152.6 1254.4,1152.6ZM1268.7,1131 1276.9,1144.7 1260.5,1144.7ZM1274.8,1140.5 1283,1154.2 1266.6,1154.2ZM1280.9,1124.9 1289.1,1138.6 1272.7,1138.6ZM1287,1114.3 1295.2,1128 1278.8,1128ZM1293.1,1120.4 1301.3,1134.1 1284.9,1134.1ZM1299.2,1116.8 1307.4,1130.5 1291,1130.5ZM1305.3,1122.2 1313.5,1135.9 1297.1,1135.9ZM1311.4,1114 1319.6,1127.7 1303.2,1127.7ZM1317.5,1110.8 1325.7,1124.5 1309.3,1124.5ZM1323.6,1100.1 1331.8,1113.8 1315.4,1113.8ZM1329.7,1096.2 1337.9,1109.9 1321.5,1109.9ZM1335.8,1095.3 1344,1109 1327.6,1109ZM1341.9,1088.7 1350.1,1102.4 1333.7,1102.4ZM1348,1086.3 1356.2,1100 1339.8,1100ZM1354.1,1079.7 1362.3,1093.4 1345.9,1093.4ZM1360.2,1081.3 1368.4,1095 1352,1095ZM1366.3,1069.9 1374.5,1083.6 1358.1,1083.6ZM1372.4,1067.2 1380.6,1080.9 1364.2,1080.9ZM1378.5,1059.8 1386.7,1073.5 1370.3,1073.5ZM1384.6,1057.4 1392.8,1071.1 1376.4,1071.1ZM1390.7,1052.6 1398.9,1066.3 1382.5,1066.3ZM1396.8,1044.4 1405,1058.1 1388.6,1058.1ZM1402.9,1035.6 1411.1,1049.3 1394.7,1049.3ZM1409,1026.8 1417.2,1040.5 1400.8,1040.5ZM1415.1,1020 1423.3,1033.7 1406.9,1033.7ZM1421.2,1030 1429.4,1043.7 1413,1043.7ZM1427.3,1025.7 1435.5,1039.4 1419.1,1039.4ZM1433.4,1028.5 1441.6,1042.2 1425.2,1042.2ZM1439.5,1028.2 1447.7,1041.9 1431.3,1041.9ZM1445.6,1020.9 1453.8,1034.6 1437.4,1034.6ZM1451.7,1015.2 1459.9,1028.9 1443.5,1028.9ZM1457.8,1003.5 1466,1017.2 1449.6,1017.2ZM1463.9,994.3 1472.1,1008 1455.7,1008ZM1470,996.4 1478.2,1010.1 1461.8,1010.1ZM1476.1,996.3 1484.3,1010 1467.9,1010ZM1482.2,992.9 1490.4,1006.6 1474,1006.6ZM1488.3,983.4 1496.5,997.1 1480.1,997.1ZM1494.4,984.8 1502.6,998.5 1486.2,998.5ZM1500.5,984.4 1508.7,998.1 1492.3,998.1ZM1506.6,976.3 1514.8,990 1498.4,990ZM1512.7,974.9 1520.9,988.6 1504.5,988.6ZM1518.8,972.7 1527,986.4 1510.6,986.4ZM1524.9,971.4 1533.1,985.1 1516.7,985.1ZM1531,960.7 1539.2,974.4 1522.8,974.4ZM1537.1,962.1 1545.3,975.8 1528.9,975.8ZM1543.2,963.2 1551.4,976.9 1535,976.9ZM1549.3,963.2 1557.5,976.9 1541.1,976.9ZM1555.4,957.8 1563.6,971.5 1547.2,971.5ZM1561.5,964.6 1569.7,978.3 1553.3,978.3ZM1567.6,951 1575.8,964.7 1559.4,964.7ZM1573.7,948.8 1581.9,962.5 1565.5,962.5ZM1579.8,939.9 1588,953.6 1571.6,953.6ZM1585.9,940.5 1594.1,954.2 1577.7,954.2ZM1592,942.6 1600.2,956.3 1583.8,956.3ZM1598.1,939.3 1606.3,953 1589.9,953ZM1604.2,937 1612.4,950.7 1596,950.7ZM1610.3,933.2 1618.5,946.9 1602.1,946.9ZM1616.4,933.2 1624.6,946.9 1608.2,946.9ZM1622.5,930.1 1630.7,943.8 1614.3,943.8ZM1628.6,936.9 1636.8,950.6 1620.4,950.6ZM1634.7,926.3 1642.9,940 1626.5,940ZM1640.8,922.1 1649,935.8 1632.6,935.8ZM1646.9,930.7 1655.1,944.4 1638.7,944.4ZM1653,928.1 1661.2,941.8 1644.8,941.8ZM1659.1,923.2 1667.3,936.9 1650.9,936.9ZM1665.2,926.2 1673.4,939.9 1657,939.9ZM1671.3,922.1 1679.5,935.8 1663.1,935.8ZM1677.4,922.7 1685.6,936.4 1669.2,936.4ZM1683.5,923.4 1691.7,937.1 1675.3,937.1ZM1689.6,918.4 1697.8,932.1 1681.4,932.1ZM1695.7,911.6 1703.9,925.3 1687.5,925.3ZM1701.8,912.1 1710,925.8 1693.6,925.8ZM1707.9,905.2 1716.1,918.9 1699.7,918.9ZM1731,901.5 1739.2,915.2 1722.8,915.2ZM1746,882.5 1754.2,896.2 1737.8,896.2ZM1756,862.5 1764.2,876.2 1747.8,876.2ZM1763.5,835.5 1771.7,849.2 1755.3,849.2ZM1769.5,800 1777.7,813.7 1761.3,813.7Z" fill="#0000ff"/>
<path d="M1063.5,1415.5 1072.8,1400 1054.2,1400ZM1083.5,1321.9 1092.8,1306.4 1074.2,1306.4ZM1089.6,1320.7 1098.9,1305.2 1080.3,1305.2ZM1095.7,1335 1105,1319.5 1086.4,1319.5ZM1101.8,1317.4 1111.1,1301.9 1092.5,1301.9ZM1107.9,1308.9 1117.2,1293.4 1098.6,1293.4ZM1114,1318.3 1123.3,1302.8 1104.7,1302.8ZM1120.1,1314 1129.4,1298.5 1110.8,1298.5ZM1126.2,1306.9 1135.5,1291.4 1116.9,1291.4ZM1132.3,1297.8 1141.6,1282.3 1123,1282.3ZM1138.4,1283.5 1147.7,1268 1129.1,1268ZM1144.5,1282 1153.8,1266.5 1135.2,1266.5ZM1150.6,1272.1 1159.9,1256.6 1141.3,1256.6ZM1156.7,1262.2 1166,1246.7 1147.4,1246.7ZM1162.8,1259.8 1172.1,1244.3 1153.5,1244.3ZM1168.9,1255.9 1178.2,1240.4 1159.6,1240.4ZM1175,1244.4 1184.3,1228.9 1165.7,1228.9ZM1181.1,1245.5 1190.4,1230 1171.8,1230ZM1187.2,1240.6 1196.5,1225.1 1177.9,1225.1ZM1193.3,1241.1 1202.6,1225.6 1184,1225.6ZM1199.4,1243.8 1208.7,1228.3 1190.1,1228.3ZM1205.5,1255.9 1214.8,1240.4 1196.2,1240.4ZM1211.6,1249.8 1220.9,1234.3 1202.3,1234.3ZM1217.7,1240.4 1227,1224.9 1208.4,1224.9ZM1223.8,1225.9 1233.1,1210.4 1214.5,1210.4ZM1229.9,1227.1 1239.2,1211.6 1220.6,1211.6ZM1236,1211.9 1245.3,1196.4 1226.7,1196.4ZM1242.1,1211.4 1251.4,1195.9 1232.8,1195.9ZM1248.2,1198.5 1257.5,1183 1238.9,1183ZM1254.3,1189.9 1263.6,1174.4 1245,1174.4ZM1260.4,1178.7 1269.7,1163.2 1251.1,1163.2ZM1266.5,1177.2 1275.8,1161.7 1257.2,1161.7ZM1272.6,1181.1 1281.9,1165.6 1263.3,1165.6ZM1278.7,1164.7 1288,1149.2 1269.4,1149.2ZM1284.8,1170 1294.1,1154.5 1275.5,1154.5ZM1290.9,1168.2 1300.2,1152.7 1281.6,1152.7ZM1297,1160.9 1306.3,1145.4 1287.7,1145.4ZM1303.1,1165.4 1312.4,1149.9 1293.8,1149.9ZM1309.2,1165.4 1318.5,1149.9 1299.9,1149.9ZM1315.3,1157.5 1324.6,1142 1306,1142ZM1321.4,1154.6 1330.7,1139.1 1312.1,1139.1ZM1327.5,1157.4 1336.8,1141.9 1318.2,1141.9ZM1333.6,1147.4 1342.9,1131.9 1324.3,1131.9ZM1339.7,1146.8 1349,1131.3 1330.4,1131.3ZM1345.8,1130.7 1355.1,1115.2 1336.5,1115.2ZM1351.9,1115.2 1361.2,1099.7 1342.6,1099.7ZM1358,1115.5 1367.3,1100 1348.7,1100ZM1364.1,1107.5 1373.4,1092 1354.8,1092ZM1370.2,1110.8 1379.5,1095.3 1360.9,1095.3ZM1376.3,1104.8 1385.6,1089.3 1367,1089.3ZM1382.4,1094.6 1391.7,1079.1 1373.1,1079.1ZM1388.5,1086.8 1397.8,1071.3 1379.2,1071.3ZM1394.6,1092.2 1403.9,1076.7 1385.3,1076.7ZM1400.7,1090 1410,1074.5 1391.4,1074.5ZM1406.8,1092.4 1416.1,1076.9 1397.5,1076.9ZM1412.9,1075.7 1422.2,1060.2 1403.6,1060.2ZM1419,1071 1428.3,1055.5 1409.7,1055.5ZM1425.1,1063.9 1434.4,1048.4 1415.8,1048.4ZM1431.2,1056.2 1440.5,1040.7 1421.9,1040.7ZM1437.3,1070.9 1446.6,1055.4 1428,1055.4ZM1443.4,1068 1452.7,1052.5 1434.1,1052.5ZM1449.5,1058.6 1458.8,1043.1 1440.2,1043.1ZM1455.6,1054.1 1464.9,1038.6 1446.3,1038.6ZM1461.7,1035.6 1471,1020.1 1452.4,1020.1ZM1467.8,1044.2 1477.1,1028.7 1458.5,1028.7ZM1473.9,1041 1483.2,1025.5 1464.6,1025.5ZM1480,1032.4 1489.3,1016.9 1470.7,1016.9ZM1486.1,1027.1 1495.4,1011.6 1476.8,1011.6ZM1492.2,1023.9 1501.5,1008.4 1482.9,1008.4ZM1498.3,1019.4 1507.6,1003.9 1489,1003.9ZM1504.4,1007.9 1513.7,992.4 1495.1,992.4ZM1510.5,997.6 1519.8,982.1 1501.2,982.1ZM1516.6,997 1525.9,981.5 1507.3,981.5ZM1522.7,994.1 1532,978.6 1513.4,978.6ZM1528.8,996.2 1538.1,980.7 1519.5,980.7ZM1534.9,995.2 1544.2,979.7 1525.6,979.7ZM1541,999.4 1550.3,983.9 1531.7,983.9ZM1547.1,994.6 1556.4,979.1 1537.8,979.1ZM1553.2,994.6 1562.5,979.1 1543.9,979.1ZM1559.3,989.9 1568.6,974.4 1550,974.4ZM1565.4,985.4 1574.7,969.9 1556.1,969.9ZM1571.5,983 1580.8,967.5 1562.2,967.5ZM1577.6,978.6 1586.9,963.1 1568.3,963.1ZM1583.7,967.9 1593,952.4 1574.4,952.4ZM1589.8,967.8 1599.1,952.3 1580.5,952.3ZM1595.9,958.6 1605.2,943.1 1586.6,943.1ZM1602,957.1 1611.3,941.6 1592.7,941.6ZM1608.1,965.4 1617.4,949.9 1598.8,949.9ZM1614.2,957.6 1623.5,942.1 1604.9,942.1ZM1620.3,948.8 1629.6,933.3 1611,933.3ZM1626.4,954.5 1635.7,939 1617.1,939ZM1632.5,964 1641.8,948.5 1623.2,948.5ZM1638.6,961 1647.9,945.5 1629.3,945.5ZM1644.7,955.1 1654,939.6 1635.4,939.6ZM1650.8,958.6 1660.1,943.1 1641.5,943.1ZM1656.9,952.5 1666.2,937 1647.6,937ZM1663,950.4 1672.3,934.9 1653.7,934.9ZM1669.1,955.9 1678.4,940.4 1659.8,940.4ZM1675.2,943.9 1684.5,928.4 1665.9,928.4ZM1681.3,936.7 1690.6,921.2 1672,921.2ZM1687.4,931 1696.7,915.5 1678.1,915.5ZM1693.5,932.4 1702.8,916.9 1684.2,916.9ZM1699.6,920.7 1708.9,905.2 1690.3,905.2ZM1705.7,915.1 1715,899.6 1696.4,899.6ZM1711.8,920.9 1721.1,905.4 1702.5,905.4ZM1717.9,930.5 1727.2,915 1708.6,915ZM1724,934.2 1733.3,918.7 1714.7,918.7ZM1730.1,916.5 1739.4,901 1720.8,901ZM1736.2,913.3 1745.5,897.8 1726.9,897.8ZM1742.3,925.9 1751.6,910.4 1733,910.4ZM1756,897.5 1765.3,882 1746.7,882ZM1763.5,878.5 1772.8,863 1754.2,863ZM1768.5,838.5 1777.8,823 1759.2,823Z" fill="#00ff00"/>
</g>
<line x1="1060.2" y1="786.6" x2="1821.5" y2="786.6" stroke="#000" stroke-width="3.0"/>
<line x1="1060.2" y1="1406.9" x2="1821.5" y2="1406.9" stroke="#000" stroke-width="3.0"/>
<line x1="1061.7" y1="785.1" x2="1061.7" y2="1408.4" stroke="#000" stroke-width="3.0"/>
<line x1="1820" y1="785.1" x2="1820" y2="1408.4" stroke="#000" stroke-width="3.0"/>
<line x1="1049.2" y1="1406.9" x2="1061.7" y2="1406.9" stroke="#000" stroke-width="3.0"/>
<line x1="1049.2" y1="1096.7" x2="1061.7" y2="1096.7" stroke="#000" stroke-width="3.0"/>
<line x1="1049.2" y1="786.5" x2="1061.7" y2="786.5" stroke="#000" stroke-width="3.0"/>
<line x1="1054.7" y1="1251.8" x2="1061.7" y2="1251.8" stroke="#000" stroke-width="2.6"/>
<line x1="1054.7" y1="941.6" x2="1061.7" y2="941.6" stroke="#000" stroke-width="2.6"/>
<line x1="1061.7" y1="1406.9" x2="1061.7" y2="1419.9" stroke="#000" stroke-width="3.0"/>
<line x1="1418.1" y1="1406.9" x2="1418.1" y2="1419.9" stroke="#000" stroke-width="3.0"/>
<line x1="1774.5" y1="1406.9" x2="1774.5" y2="1419.9" stroke="#000" stroke-width="3.0"/>
<line x1="1239.9" y1="1406.9" x2="1239.9" y2="1413.4" stroke="#000" stroke-width="2.6"/>
<line x1="1596.3" y1="1406.9" x2="1596.3" y2="1413.4" stroke="#000" stroke-width="2.6"/>
<text transform="translate(1040.5,1421.1) scale(0.97,1)" font-size="39.5" text-anchor="end" fill="#000" font-family='"Liberation Sans", sans-serif' >0</text>
<text transform="translate(1040.5,1110.9) scale(0.97,1)" font-size="39.5" text-anchor="end" fill="#000" font-family='"Liberation Sans", sans-serif' >2</text>
<text transform="translate(1040.5,800.7) scale(0.97,1)" font-size="39.5" text-anchor="end" fill="#000" font-family='"Liberation Sans", sans-serif' >4</text>
<text transform="translate(1062.2,1461) scale(1.05,1)" font-size="39.5" text-anchor="middle" fill="#000" font-family='"Liberation Sans", sans-serif' >0</text>
<text transform="translate(1418.6,1461) scale(1.05,1)" font-size="39.5" text-anchor="middle" fill="#000" font-family='"Liberation Sans", sans-serif' >4</text>
<text transform="translate(1775,1461) scale(1.05,1)" font-size="39.5" text-anchor="middle" fill="#000" font-family='"Liberation Sans", sans-serif' >8</text>
<text transform="translate(1419.5,849)" font-size="50" text-anchor="start" fill="#000" font-family='"Liberation Sans", sans-serif' >(d)</text>
<text transform="translate(1375,1501.5)" font-size="44" text-anchor="start" fill="#000" font-family='"Liberation Sans", sans-serif' >B (T)</text>
<text transform="translate(992,1075) rotate(-90)" font-size="44.5" text-anchor="middle" fill="#000" font-family='"Liberation Sans", sans-serif' ><tspan font-family='"Liberation Serif", serif'>ρ</tspan><tspan font-size="31.1" dy="8.9">xy</tspan><tspan dy="-8.9">(</tspan><tspan font-family='"Liberation Serif", serif'>μΩ</tspan>-cm)</text>
<path d="M1139.1,827.1 1147.3,840.8 1130.9,840.8Z" fill="#0000ff"/>
<path d="M1139.1,883.2 1148.4,867.7 1129.8,867.7Z" fill="#00ff00"/>
<text transform="translate(1179,846.4)" font-size="28.7" text-anchor="start" fill="#000" font-family='"Liberation Sans", sans-serif' >10 K</text>
<text transform="translate(1179,882.1)" font-size="28.7" text-anchor="start" fill="#000" font-family='"Liberation Sans", sans-serif' >5 K</text>
<text transform="translate(1108,943.3)" font-size="32" text-anchor="start" fill="#000" font-family='"Liberation Sans", sans-serif' >Bi<tspan font-size="21.4" dy="9">2</tspan><tspan dy="-9">Se</tspan><tspan font-size="21.4" dy="9">3</tspan><tspan dy="-9"> on Glass</tspan></text>
<polyline points="1485.2,1325 1707.7,1112.2" fill="none" stroke="#000" stroke-width="3.6" stroke-linejoin="round"/>
<line x1="1485.2" y1="1296.5" x2="1485.2" y2="1353.5" stroke="#000" stroke-width="2.6"/>
<line x1="1481.7" y1="1296.5" x2="1488.7" y2="1296.5" stroke="#000" stroke-width="2.6"/>
<line x1="1481.7" y1="1353.5" x2="1488.7" y2="1353.5" stroke="#000" stroke-width="2.6"/>
<line x1="1707.7" y1="1079.3" x2="1707.7" y2="1145.3" stroke="#000" stroke-width="2.6"/>
<line x1="1704.2" y1="1079.3" x2="1711.2" y2="1079.3" stroke="#000" stroke-width="2.6"/>
<line x1="1704.2" y1="1145.3" x2="1711.2" y2="1145.3" stroke="#000" stroke-width="2.6"/>
<path d="M1480,1319.8 1490.5,1319.8 1490.5,1330.2 1480,1330.2ZM1702.5,1107 1713,1107 1713,1117.5 1702.5,1117.5Z" fill="#000"/>
<polyline points="1485.2,1113.7 1707.7,1323.5" fill="none" stroke="#ff0000" stroke-width="3.2" stroke-linejoin="round"/>
<line x1="1485.2" y1="1080.9" x2="1485.2" y2="1146.9" stroke="#ff0000" stroke-width="2.6"/>
<line x1="1481.7" y1="1080.9" x2="1488.7" y2="1080.9" stroke="#ff0000" stroke-width="2.6"/>
<line x1="1481.7" y1="1146.9" x2="1488.7" y2="1146.9" stroke="#ff0000" stroke-width="2.6"/>
<line x1="1707.7" y1="1291.5" x2="1707.7" y2="1355.4" stroke="#ff0000" stroke-width="2.6"/>
<line x1="1704.2" y1="1291.5" x2="1711.2" y2="1291.5" stroke="#ff0000" stroke-width="2.6"/>
<line x1="1704.2" y1="1355.4" x2="1711.2" y2="1355.4" stroke="#ff0000" stroke-width="2.6"/>
<path d="M1480,1108.5 1490.5,1108.5 1490.5,1119 1480,1119ZM1702.5,1318.2 1713,1318.2 1713,1328.8 1702.5,1328.8Z" fill="#ff0000"/>
<line x1="1529" y1="1314.8" x2="1518.2" y2="1314.8" stroke="#000" stroke-width="3.6"/>
<polygon points="1503.8,1314.8 1521.8,1309 1521.8,1320.5" fill="#000"/>
<line x1="1666.5" y1="1279.5" x2="1684" y2="1279.5" stroke="#ff0000" stroke-width="2.6"/>
<polygon points="1696,1279.5 1681,1275 1681,1284" fill="#ff0000"/>
<line x1="1440.5" y1="1076.2" x2="1748" y2="1076.2" stroke="#000" stroke-width="1.5"/>
<line x1="1440.5" y1="1358.5" x2="1748" y2="1358.5" stroke="#000" stroke-width="1.5"/>
<line x1="1441.3" y1="1075.5" x2="1441.3" y2="1359.2" stroke="#000" stroke-width="1.5"/>
<line x1="1747.3" y1="1075.4" x2="1747.3" y2="1359.3" stroke="#ff0000" stroke-width="1.6"/>
<line x1="1485.2" y1="1358.5" x2="1485.2" y2="1363.5" stroke="#000" stroke-width="1.5"/>
<line x1="1485.2" y1="1076.2" x2="1485.2" y2="1079.7" stroke="#000" stroke-width="1.3"/>
<text transform="translate(1485.2,1396) scale(0.81,1)" font-size="37" text-anchor="middle" fill="#000" font-family='"Liberation Sans", sans-serif' >5</text>
<line x1="1707.7" y1="1358.5" x2="1707.7" y2="1363.5" stroke="#000" stroke-width="1.5"/>
<line x1="1707.7" y1="1076.2" x2="1707.7" y2="1079.7" stroke="#000" stroke-width="1.3"/>
<text transform="translate(1707.7,1396) scale(0.81,1)" font-size="37" text-anchor="middle" fill="#000" font-family='"Liberation Sans", sans-serif' >10</text>
<line x1="1596.5" y1="1358.5" x2="1596.5" y2="1361.5" stroke="#000" stroke-width="1.3"/>
<line x1="1596.5" y1="1076.2" x2="1596.5" y2="1078.2" stroke="#000" stroke-width="1.2"/>
<line x1="1437.3" y1="1129.8" x2="1441.3" y2="1129.8" stroke="#000" stroke-width="1.5"/>
<text transform="translate(1437,1142.1) scale(0.92,1)" font-size="35" text-anchor="end" fill="#000" font-family='"Liberation Sans", sans-serif' >1.6</text>
<line x1="1437.3" y1="1263.7" x2="1441.3" y2="1263.7" stroke="#000" stroke-width="1.5"/>
<text transform="translate(1437,1276) scale(0.92,1)" font-size="35" text-anchor="end" fill="#000" font-family='"Liberation Sans", sans-serif' >1.5</text>
<line x1="1438.8" y1="1196.4" x2="1441.3" y2="1196.4" stroke="#000" stroke-width="1.3"/>
<line x1="1438.8" y1="1331.2" x2="1441.3" y2="1331.2" stroke="#000" stroke-width="1.3"/>
<line x1="1747.3" y1="1143.2" x2="1752.3" y2="1143.2" stroke="#ff0000" stroke-width="1.6"/>
<text transform="translate(1753.5,1155.7) scale(0.8,1)" font-size="36.5" text-anchor="start" fill="#ff0000" font-family='"Liberation Sans", sans-serif' >0.90</text>
<line x1="1747.3" y1="1270.8" x2="1752.3" y2="1270.8" stroke="#ff0000" stroke-width="1.6"/>
<text transform="translate(1753.5,1283.3) scale(0.8,1)" font-size="36.5" text-anchor="start" fill="#ff0000" font-family='"Liberation Sans", sans-serif' >0.85</text>
<line x1="1747.3" y1="1078.7" x2="1750.3" y2="1078.7" stroke="#ff0000" stroke-width="1.4"/>
<line x1="1747.3" y1="1207.3" x2="1750.3" y2="1207.3" stroke="#ff0000" stroke-width="1.4"/>
<line x1="1747.3" y1="1333.7" x2="1750.3" y2="1333.7" stroke="#ff0000" stroke-width="1.4"/>
<text transform="translate(1562,1345) scale(1,1.1)" font-size="30" text-anchor="start" fill="#000" font-family='"Liberation Sans", sans-serif' >T (K)</text>
<text transform="translate(1474,1215) rotate(-90) scale(1.13,1)" font-size="29" text-anchor="middle" fill="#000" font-family='"Liberation Sans", sans-serif' >n (10<tspan font-size="19.1" dy="-11.6">21</tspan><tspan dy="11.6"> cm</tspan><tspan font-size="19.1" dy="-11.6">-3</tspan><tspan dy="11.6">)</tspan></text>
<text transform="translate(1731,1212) rotate(-90) scale(1.22,1)" font-size="28" text-anchor="middle" fill="#ff0000" font-family='"Liberation Sans", sans-serif' ><tspan font-family='"Liberation Serif", serif'>μ</tspan> (cm<tspan font-size="18.5" dy="-11.2">2</tspan><tspan dy="11.2">/Vs)</tspan></text>
</svg>
</body></html>
